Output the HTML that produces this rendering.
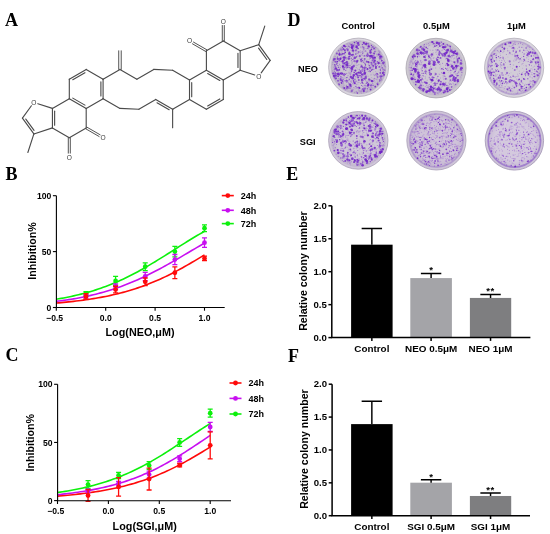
<!DOCTYPE html><html><head><meta charset="utf-8"><title>Figure</title><style>
html,body{margin:0;padding:0;background:#fff;width:550px;height:534px;overflow:hidden}
svg{display:block}
text{font-family:"Liberation Sans",Arial,sans-serif;font-weight:bold;fill:#000}
.ol{font-weight:normal;fill:#3a3a3a}
.pl{font-family:"Liberation Serif","Times New Roman",serif;font-weight:bold;font-size:18px}
</style></head><body>
<svg width="550" height="534" viewBox="0 0 550 534">
<rect width="550" height="534" fill="#fff"/>
<text class="pl" x="5" y="25.7">A</text>
<text class="pl" x="5.6" y="180">B</text>
<text class="pl" x="5.4" y="361">C</text>
<text class="pl" x="287.6" y="26.1">D</text>
<text class="pl" x="286.2" y="180">E</text>
<text class="pl" x="288" y="362.2">F</text>
<g stroke="#4a4a4a" stroke-width="1.12" stroke-linecap="round" fill="none">
<line x1="86.2" y1="69.4" x2="103.09" y2="79.15"/>
<line x1="103.09" y1="79.15" x2="103.09" y2="98.65"/>
<line x1="103.09" y1="98.65" x2="86.2" y2="108.4"/>
<line x1="86.2" y1="108.4" x2="69.31" y2="98.65"/>
<line x1="69.31" y1="98.65" x2="69.31" y2="79.15"/>
<line x1="69.31" y1="79.15" x2="86.2" y2="69.4"/>
<line x1="86.2" y1="108.4" x2="86.2" y2="127.9"/>
<line x1="86.2" y1="127.9" x2="69.31" y2="137.65"/>
<line x1="69.31" y1="137.65" x2="52.43" y2="127.9"/>
<line x1="52.43" y1="127.9" x2="52.43" y2="108.4"/>
<line x1="52.43" y1="108.4" x2="69.31" y2="98.65"/>
<line x1="52.43" y1="108.4" x2="37.87" y2="103.67"/>
<line x1="31.41" y1="105.77" x2="22.42" y2="118.15"/>
<line x1="22.42" y1="118.15" x2="33.88" y2="133.93"/>
<line x1="33.88" y1="133.93" x2="52.43" y2="127.9"/>
<line x1="33.88" y1="133.93" x2="27.85" y2="152.47"/>
<line x1="103.09" y1="79.15" x2="119.97" y2="69.4"/>
<line x1="119.97" y1="69.4" x2="136.86" y2="79.15"/>
<line x1="136.86" y1="79.15" x2="153.75" y2="69.4"/>
<line x1="153.75" y1="69.4" x2="172.63" y2="70.2"/>
<line x1="172.63" y1="70.2" x2="189.51" y2="79.95"/>
<line x1="206.4" y1="109.2" x2="189.51" y2="99.45"/>
<line x1="189.51" y1="99.45" x2="189.51" y2="79.95"/>
<line x1="189.51" y1="79.95" x2="206.4" y2="70.2"/>
<line x1="206.4" y1="70.2" x2="223.29" y2="79.95"/>
<line x1="223.29" y1="79.95" x2="223.29" y2="99.45"/>
<line x1="223.29" y1="99.45" x2="206.4" y2="109.2"/>
<line x1="206.4" y1="70.2" x2="206.4" y2="50.7"/>
<line x1="206.4" y1="50.7" x2="223.29" y2="40.95"/>
<line x1="223.29" y1="40.95" x2="240.17" y2="50.7"/>
<line x1="240.17" y1="50.7" x2="240.17" y2="70.2"/>
<line x1="240.17" y1="70.2" x2="223.29" y2="79.95"/>
<line x1="240.17" y1="70.2" x2="254.73" y2="74.93"/>
<line x1="261.19" y1="72.83" x2="270.18" y2="60.45"/>
<line x1="270.18" y1="60.45" x2="258.72" y2="44.67"/>
<line x1="258.72" y1="44.67" x2="240.17" y2="50.7"/>
<line x1="258.72" y1="44.67" x2="264.75" y2="26.13"/>
<line x1="189.51" y1="99.45" x2="172.63" y2="109.2"/>
<line x1="172.63" y1="109.2" x2="155.74" y2="99.45"/>
<line x1="155.74" y1="99.45" x2="138.85" y2="109.2"/>
<line x1="138.85" y1="109.2" x2="119.97" y2="108.4"/>
<line x1="119.97" y1="108.4" x2="103.09" y2="98.65"/>
<line x1="172.63" y1="109.2" x2="172.63" y2="127.8"/>
<line x1="100.89" y1="81.88" x2="100.89" y2="95.92"/>
<line x1="84.94" y1="105.13" x2="72.78" y2="98.11"/>
<line x1="72.78" y1="79.69" x2="84.94" y2="72.67"/>
<line x1="54.63" y1="125.17" x2="54.63" y2="111.13"/>
<line x1="25.8" y1="119.07" x2="34.05" y2="130.42"/>
<line x1="191.71" y1="96.72" x2="191.71" y2="82.68"/>
<line x1="207.66" y1="73.47" x2="219.82" y2="80.49"/>
<line x1="219.82" y1="98.91" x2="207.66" y2="105.93"/>
<line x1="237.97" y1="53.43" x2="237.97" y2="67.47"/>
<line x1="266.8" y1="59.53" x2="258.55" y2="48.18"/>
<line x1="157" y1="102.72" x2="169.16" y2="109.74"/>
<g stroke-width="0.95">
<line x1="68.31" y1="137.65" x2="68.31" y2="153.15"/><line x1="70.31" y1="137.65" x2="70.31" y2="153.15"/>
<line x1="85.7" y1="128.77" x2="99.12" y2="136.52"/><line x1="86.7" y1="127.03" x2="100.12" y2="134.78"/>
<line x1="224.29" y1="40.95" x2="224.29" y2="25.45"/><line x1="222.29" y1="40.95" x2="222.29" y2="25.45"/>
<line x1="206.9" y1="49.83" x2="193.48" y2="42.08"/><line x1="205.9" y1="51.57" x2="192.48" y2="43.82"/>
<line x1="121.22" y1="69.4" x2="121.22" y2="50.8"/><line x1="118.72" y1="69.4" x2="118.72" y2="50.8"/>
</g>
</g>
<g font-family="Liberation Sans, Arial, sans-serif" font-size="6.6" font-weight="normal" fill="#333" text-anchor="middle" style="font-weight:normal">
<text class="ol" x="33.88" y="104.72">O</text>
<text class="ol" x="69.31" y="159.5">O</text>
<text class="ol" x="103.09" y="140">O</text>
<text class="ol" x="258.72" y="78.58">O</text>
<text class="ol" x="223.29" y="23.8">O</text>
<text class="ol" x="189.51" y="43.3">O</text>
</g>
<polyline points="56.3,303.05 58.77,302.85 61.24,302.63 63.71,302.4 66.18,302.16 68.65,301.91 71.12,301.65 73.59,301.37 76.06,301.08 78.53,300.78 81,300.47 83.47,300.14 85.94,299.79 88.41,299.43 90.88,299.06 93.35,298.66 95.82,298.25 98.29,297.82 100.76,297.37 103.23,296.91 105.7,296.42 108.17,295.91 110.64,295.38 113.11,294.82 115.58,294.24 118.05,293.64 120.52,293.02 122.99,292.36 125.46,291.69 127.93,290.98 130.4,290.25 132.87,289.49 135.34,288.7 137.81,287.88 140.28,287.04 142.75,286.16 145.22,285.25 147.69,284.31 150.16,283.34 152.63,282.34 155.1,281.31 157.57,280.25 160.04,279.15 162.51,278.02 164.98,276.87 167.45,275.68 169.92,274.46 172.39,273.22 174.86,271.94 177.33,270.64 179.8,269.31 182.27,267.95 184.74,266.57 187.21,265.17 189.68,263.75 192.15,262.31 194.62,260.84 197.09,259.37 199.56,257.87 202.03,256.37 204.5,254.86" fill="none" stroke="#ff0a0a" stroke-width="1.6"/>
<polyline points="56.3,301.39 58.77,301.08 61.24,300.75 63.71,300.4 66.18,300.04 68.65,299.66 71.12,299.26 73.59,298.85 76.06,298.42 78.53,297.96 81,297.49 83.47,296.99 85.94,296.48 88.41,295.94 90.88,295.38 93.35,294.79 95.82,294.18 98.29,293.55 100.76,292.89 103.23,292.21 105.7,291.49 108.17,290.76 110.64,289.99 113.11,289.2 115.58,288.37 118.05,287.52 120.52,286.64 122.99,285.73 125.46,284.8 127.93,283.83 130.4,282.83 132.87,281.8 135.34,280.75 137.81,279.67 140.28,278.55 142.75,277.41 145.22,276.24 147.69,275.05 150.16,273.83 152.63,272.58 155.1,271.31 157.57,270.02 160.04,268.7 162.51,267.37 164.98,266.01 167.45,264.64 169.92,263.25 172.39,261.85 174.86,260.43 177.33,259 179.8,257.57 182.27,256.12 184.74,254.67 187.21,253.22 189.68,251.76 192.15,250.31 194.62,248.86 197.09,247.41 199.56,245.97 202.03,244.54 204.5,243.12" fill="none" stroke="#c80ef0" stroke-width="1.6"/>
<polyline points="56.3,299.21 58.77,298.8 61.24,298.37 63.71,297.92 66.18,297.45 68.65,296.95 71.12,296.44 73.59,295.9 76.06,295.33 78.53,294.75 81,294.13 83.47,293.49 85.94,292.83 88.41,292.13 90.88,291.41 93.35,290.66 95.82,289.87 98.29,289.06 100.76,288.22 103.23,287.34 105.7,286.43 108.17,285.5 110.64,284.52 113.11,283.52 115.58,282.48 118.05,281.41 120.52,280.3 122.99,279.17 125.46,278 127.93,276.8 130.4,275.56 132.87,274.3 135.34,273 137.81,271.68 140.28,270.32 142.75,268.94 145.22,267.54 147.69,266.11 150.16,264.65 152.63,263.18 155.1,261.69 157.57,260.18 160.04,258.65 162.51,257.12 164.98,255.57 167.45,254.01 169.92,252.45 172.39,250.88 174.86,249.31 177.33,247.75 179.8,246.19 182.27,244.63 184.74,243.09 187.21,241.55 189.68,240.03 192.15,238.52 194.62,237.03 197.09,235.56 199.56,234.12 202.03,232.69 204.5,231.3" fill="none" stroke="#0cf00c" stroke-width="1.6"/>
<path d="M85.94 291.62V294.98M83.44 291.62h5M83.44 294.98h5" stroke="#0cf00c" stroke-width="1.3" fill="none"/>
<circle cx="85.94" cy="293.3" r="2.4" fill="#0cf00c"/>
<path d="M115.58 276.42V285.36M113.08 276.42h5M113.08 285.36h5" stroke="#0cf00c" stroke-width="1.3" fill="none"/>
<circle cx="115.58" cy="280.89" r="2.4" fill="#0cf00c"/>
<path d="M145.22 262.78V270.61M142.72 262.78h5M142.72 270.61h5" stroke="#0cf00c" stroke-width="1.3" fill="none"/>
<circle cx="145.22" cy="266.69" r="2.4" fill="#0cf00c"/>
<path d="M174.86 246.35V256.85M172.36 246.35h5M172.36 256.85h5" stroke="#0cf00c" stroke-width="1.3" fill="none"/>
<circle cx="174.86" cy="251.6" r="2.4" fill="#0cf00c"/>
<path d="M204.5 224.88V231.59M202 224.88h5M202 231.59h5" stroke="#0cf00c" stroke-width="1.3" fill="none"/>
<circle cx="204.5" cy="228.23" r="2.4" fill="#0cf00c"/>
<path d="M85.94 294.75V298.11M83.44 294.75h5M83.44 298.11h5" stroke="#c80ef0" stroke-width="1.3" fill="none"/>
<circle cx="85.94" cy="296.43" r="2.4" fill="#c80ef0"/>
<path d="M115.58 284.02V289.61M113.08 284.02h5M113.08 289.61h5" stroke="#c80ef0" stroke-width="1.3" fill="none"/>
<circle cx="115.58" cy="286.82" r="2.4" fill="#c80ef0"/>
<path d="M145.22 272.28V280.56M142.72 272.28h5M142.72 280.56h5" stroke="#c80ef0" stroke-width="1.3" fill="none"/>
<circle cx="145.22" cy="276.42" r="2.4" fill="#c80ef0"/>
<path d="M174.86 254.51V264.57M172.36 254.51h5M172.36 264.57h5" stroke="#c80ef0" stroke-width="1.3" fill="none"/>
<circle cx="174.86" cy="259.54" r="2.4" fill="#c80ef0"/>
<path d="M204.5 237.85V247.46M202 237.85h5M202 247.46h5" stroke="#c80ef0" stroke-width="1.3" fill="none"/>
<circle cx="204.5" cy="242.66" r="2.4" fill="#c80ef0"/>
<path d="M85.94 293.64V299.23M83.44 293.64h5M83.44 299.23h5" stroke="#ff0a0a" stroke-width="1.3" fill="none"/>
<circle cx="85.94" cy="296.43" r="2.4" fill="#ff0a0a"/>
<path d="M115.58 286.26V292.97M113.08 286.26h5M113.08 292.97h5" stroke="#ff0a0a" stroke-width="1.3" fill="none"/>
<circle cx="115.58" cy="289.61" r="2.4" fill="#ff0a0a"/>
<path d="M145.22 277.98V285.59M142.72 277.98h5M142.72 285.59h5" stroke="#ff0a0a" stroke-width="1.3" fill="none"/>
<circle cx="145.22" cy="281.79" r="2.4" fill="#ff0a0a"/>
<path d="M174.86 266.92V278.54M172.36 266.92h5M172.36 278.54h5" stroke="#ff0a0a" stroke-width="1.3" fill="none"/>
<circle cx="174.86" cy="272.73" r="2.4" fill="#ff0a0a"/>
<path d="M204.5 256.18V260.66M202 256.18h5M202 260.66h5" stroke="#ff0a0a" stroke-width="1.3" fill="none"/>
<circle cx="204.5" cy="258.42" r="2.4" fill="#ff0a0a"/>
<g stroke="#000" stroke-width="1.1" fill="none">
<path d="M56.4 195.7V307.5H224.7"/>
<path d="M52.9 307.5H56.4"/>
<path d="M52.9 251.6H56.4"/>
<path d="M52.9 195.7H56.4"/>
<path d="M56.3 307.5V310.7"/>
<path d="M105.7 307.5V310.7"/>
<path d="M155.1 307.5V310.7"/>
<path d="M204.5 307.5V310.7"/>
</g>
<text x="51.4" y="310.6" font-size="8.6" text-anchor="end">0</text>
<text x="51.4" y="254.7" font-size="8.6" text-anchor="end">50</text>
<text x="51.4" y="198.8" font-size="8.6" text-anchor="end">100</text>
<text x="54.6" y="321.1" font-size="8.6" text-anchor="middle">−0.5</text>
<text x="105.7" y="321.1" font-size="8.6" text-anchor="middle">0.0</text>
<text x="155.1" y="321.1" font-size="8.6" text-anchor="middle">0.5</text>
<text x="204.5" y="321.1" font-size="8.6" text-anchor="middle">1.0</text>
<text x="140" y="335.5" font-size="10.8" text-anchor="middle">Log(NEO,μM)</text>
<text transform="translate(36.1 251) rotate(-90)" font-size="10.7" text-anchor="middle">Inhibition%</text>
<path d="M221.8 195.6h12" stroke="#ff0a0a" stroke-width="1.6"/>
<circle cx="227.8" cy="195.6" r="2.4" fill="#ff0a0a"/>
<text x="240.8" y="198.8" font-size="9" text-anchor="start">24h</text>
<path d="M221.8 210.3h12" stroke="#c80ef0" stroke-width="1.6"/>
<circle cx="227.8" cy="210.3" r="2.4" fill="#c80ef0"/>
<text x="240.8" y="213.5" font-size="9" text-anchor="start">48h</text>
<path d="M221.8 223.6h12" stroke="#0cf00c" stroke-width="1.6"/>
<circle cx="227.8" cy="223.6" r="2.4" fill="#0cf00c"/>
<text x="240.8" y="226.8" font-size="9" text-anchor="start">72h</text>
<polyline points="57.5,496.1 60.05,495.89 62.59,495.68 65.14,495.45 67.68,495.21 70.23,494.97 72.77,494.71 75.31,494.44 77.86,494.15 80.41,493.86 82.95,493.55 85.5,493.22 88.04,492.88 90.59,492.52 93.13,492.15 95.68,491.76 98.22,491.36 100.77,490.93 103.31,490.49 105.86,490.02 108.4,489.54 110.95,489.03 113.49,488.51 116.03,487.96 118.58,487.38 121.12,486.78 123.67,486.16 126.22,485.51 128.76,484.83 131.31,484.13 133.85,483.4 136.4,482.64 138.94,481.85 141.49,481.02 144.03,480.17 146.57,479.29 149.12,478.37 151.67,477.42 154.21,476.44 156.75,475.43 159.3,474.38 161.84,473.3 164.39,472.19 166.94,471.04 169.48,469.85 172.03,468.64 174.57,467.39 177.12,466.11 179.66,464.8 182.21,463.45 184.75,462.08 187.29,460.67 189.84,459.24 192.38,457.79 194.93,456.3 197.48,454.8 200.02,453.27 202.56,451.72 205.11,450.16 207.66,448.57 210.2,446.98" fill="none" stroke="#ff0a0a" stroke-width="1.6"/>
<polyline points="57.5,494.7 60.05,494.44 62.59,494.16 65.14,493.87 67.68,493.57 70.23,493.25 72.77,492.92 75.31,492.57 77.86,492.2 80.41,491.82 82.95,491.42 85.5,491.01 88.04,490.57 90.59,490.11 93.13,489.63 95.68,489.13 98.22,488.61 100.77,488.07 103.31,487.5 105.86,486.9 108.4,486.28 110.95,485.63 113.49,484.95 116.03,484.25 118.58,483.51 121.12,482.74 123.67,481.95 126.22,481.12 128.76,480.25 131.31,479.36 133.85,478.43 136.4,477.46 138.94,476.46 141.49,475.42 144.03,474.34 146.57,473.23 149.12,472.08 151.67,470.9 154.21,469.67 156.75,468.41 159.3,467.12 161.84,465.78 164.39,464.41 166.94,463.01 169.48,461.57 172.03,460.1 174.57,458.6 177.12,457.07 179.66,455.51 182.21,453.93 184.75,452.32 187.29,450.68 189.84,449.03 192.38,447.36 194.93,445.68 197.48,443.98 200.02,442.27 202.56,440.56 205.11,438.85 207.66,437.13 210.2,435.42" fill="none" stroke="#c80ef0" stroke-width="1.6"/>
<polyline points="57.5,492.53 60.05,492.15 62.59,491.77 65.14,491.36 67.68,490.93 70.23,490.49 72.77,490.02 75.31,489.54 77.86,489.03 80.41,488.49 82.95,487.94 85.5,487.36 88.04,486.75 90.59,486.12 93.13,485.46 95.68,484.77 98.22,484.05 100.77,483.31 103.31,482.53 105.86,481.72 108.4,480.88 110.95,480 113.49,479.09 116.03,478.15 118.58,477.17 121.12,476.15 123.67,475.1 126.22,474.02 128.76,472.89 131.31,471.73 133.85,470.54 136.4,469.3 138.94,468.03 141.49,466.73 144.03,465.39 146.57,464.01 149.12,462.6 151.67,461.16 154.21,459.68 156.75,458.18 159.3,456.65 161.84,455.09 164.39,453.5 166.94,451.89 169.48,450.26 172.03,448.61 174.57,446.95 177.12,445.27 179.66,443.58 182.21,441.89 184.75,440.19 187.29,438.48 189.84,436.78 192.38,435.08 194.93,433.39 197.48,431.71 200.02,430.04 202.56,428.38 205.11,426.75 207.66,425.13 210.2,423.54" fill="none" stroke="#0cf00c" stroke-width="1.6"/>
<path d="M88.04 480.6V488.5M85.54 480.6h5M85.54 488.5h5" stroke="#0cf00c" stroke-width="1.3" fill="none"/>
<circle cx="88.04" cy="484.55" r="2.4" fill="#0cf00c"/>
<path d="M118.58 472.34V478.62M116.08 472.34h5M116.08 478.62h5" stroke="#0cf00c" stroke-width="1.3" fill="none"/>
<circle cx="118.58" cy="475.48" r="2.4" fill="#0cf00c"/>
<path d="M149.12 461.64V469.32M146.62 461.64h5M146.62 469.32h5" stroke="#0cf00c" stroke-width="1.3" fill="none"/>
<circle cx="149.12" cy="465.48" r="2.4" fill="#0cf00c"/>
<path d="M179.66 438.61V446.29M177.16 438.61h5M177.16 446.29h5" stroke="#0cf00c" stroke-width="1.3" fill="none"/>
<circle cx="179.66" cy="442.45" r="2.4" fill="#0cf00c"/>
<path d="M210.2 409.19V417.1M207.7 409.19h5M207.7 417.1h5" stroke="#0cf00c" stroke-width="1.3" fill="none"/>
<circle cx="210.2" cy="413.14" r="2.4" fill="#0cf00c"/>
<path d="M88.04 489.2V492.69M85.54 489.2h5M85.54 492.69h5" stroke="#c80ef0" stroke-width="1.3" fill="none"/>
<circle cx="88.04" cy="490.95" r="2.4" fill="#c80ef0"/>
<path d="M118.58 481.29V485.95M116.08 481.29h5M116.08 485.95h5" stroke="#c80ef0" stroke-width="1.3" fill="none"/>
<circle cx="118.58" cy="483.62" r="2.4" fill="#c80ef0"/>
<path d="M149.12 471.06V478.04M146.62 471.06h5M146.62 478.04h5" stroke="#c80ef0" stroke-width="1.3" fill="none"/>
<circle cx="149.12" cy="474.55" r="2.4" fill="#c80ef0"/>
<path d="M179.66 455.94V461.76M177.16 455.94h5M177.16 461.76h5" stroke="#c80ef0" stroke-width="1.3" fill="none"/>
<circle cx="179.66" cy="458.85" r="2.4" fill="#c80ef0"/>
<path d="M210.2 422.45V431.52M207.7 422.45h5M207.7 431.52h5" stroke="#c80ef0" stroke-width="1.3" fill="none"/>
<circle cx="210.2" cy="426.98" r="2.4" fill="#c80ef0"/>
<path d="M88.04 489.67V501.3M85.54 489.67h5M85.54 501.3h5" stroke="#ff0a0a" stroke-width="1.3" fill="none"/>
<circle cx="88.04" cy="495.48" r="2.4" fill="#ff0a0a"/>
<path d="M118.58 477.69V496.06M116.08 477.69h5M116.08 496.06h5" stroke="#ff0a0a" stroke-width="1.3" fill="none"/>
<circle cx="118.58" cy="486.88" r="2.4" fill="#ff0a0a"/>
<path d="M149.12 468.15V490.02M146.62 468.15h5M146.62 490.02h5" stroke="#ff0a0a" stroke-width="1.3" fill="none"/>
<circle cx="149.12" cy="479.08" r="2.4" fill="#ff0a0a"/>
<path d="M179.66 463.38V466.87M177.16 463.38h5M177.16 466.87h5" stroke="#ff0a0a" stroke-width="1.3" fill="none"/>
<circle cx="179.66" cy="465.13" r="2.4" fill="#ff0a0a"/>
<path d="M210.2 431.87V458.85M207.7 431.87h5M207.7 458.85h5" stroke="#ff0a0a" stroke-width="1.3" fill="none"/>
<circle cx="210.2" cy="445.36" r="2.4" fill="#ff0a0a"/>
<g stroke="#000" stroke-width="1.1" fill="none">
<path d="M57.6 384.3V500.8H231"/>
<path d="M54.1 500.6H57.6"/>
<path d="M54.1 442.45H57.6"/>
<path d="M54.1 384.3H57.6"/>
<path d="M57.5 500.8V504"/>
<path d="M108.4 500.8V504"/>
<path d="M159.3 500.8V504"/>
<path d="M210.2 500.8V504"/>
</g>
<text x="52.6" y="503.7" font-size="8.6" text-anchor="end">0</text>
<text x="52.6" y="445.55" font-size="8.6" text-anchor="end">50</text>
<text x="52.6" y="387.4" font-size="8.6" text-anchor="end">100</text>
<text x="55.8" y="514.4" font-size="8.6" text-anchor="middle">−0.5</text>
<text x="108.4" y="514.4" font-size="8.6" text-anchor="middle">0.0</text>
<text x="159.3" y="514.4" font-size="8.6" text-anchor="middle">0.5</text>
<text x="210.2" y="514.4" font-size="8.6" text-anchor="middle">1.0</text>
<text x="144.7" y="530" font-size="10.8" text-anchor="middle">Log(SGI,μM)</text>
<text transform="translate(34 442.7) rotate(-90)" font-size="10.7" text-anchor="middle">Inhibition%</text>
<path d="M229.5 383h12" stroke="#ff0a0a" stroke-width="1.6"/>
<circle cx="235.5" cy="383" r="2.4" fill="#ff0a0a"/>
<text x="248.5" y="386.2" font-size="9" text-anchor="start">24h</text>
<path d="M229.5 398.4h12" stroke="#c80ef0" stroke-width="1.6"/>
<circle cx="235.5" cy="398.4" r="2.4" fill="#c80ef0"/>
<text x="248.5" y="401.6" font-size="9" text-anchor="start">48h</text>
<path d="M229.5 414h12" stroke="#0cf00c" stroke-width="1.6"/>
<circle cx="235.5" cy="414" r="2.4" fill="#0cf00c"/>
<text x="248.5" y="417.2" font-size="9" text-anchor="start">72h</text>
<text x="358.2" y="29.1" font-size="9.4" text-anchor="middle">Control</text>
<text x="436.4" y="29.1" font-size="9.4" text-anchor="middle">0.5μM</text>
<text x="516.5" y="29.1" font-size="9.4" text-anchor="middle">1μM</text>
<text x="308" y="71.7" font-size="9.2" text-anchor="middle">NEO</text>
<text x="307.7" y="144.9" font-size="9.2" text-anchor="middle">SGI</text>
<defs><filter id="bl" x="-5%" y="-5%" width="110%" height="110%"><feGaussianBlur stdDeviation="0.25"/></filter></defs>
<radialGradient id="g1"><stop offset="0" stop-color="#cbc5d0"/><stop offset="0.75" stop-color="#cbc5d0"/><stop offset="1" stop-color="#bdb3c8"/></radialGradient>
<ellipse cx="358.6" cy="67.3" rx="30" ry="29.2" fill="#d9d5de" stroke="#b4afba" stroke-width="0.8"/>
<ellipse cx="358.6" cy="67.3" rx="27.75" ry="27.01" fill="url(#g1)"/>
<g fill="#7226c8" fill-opacity="0.2"><circle cx="368" cy="45.7" r="0.7"/><circle cx="350.6" cy="72.9" r="0.4"/><circle cx="381.6" cy="66.5" r="0.59"/><circle cx="347.6" cy="48.7" r="0.41"/><circle cx="348.7" cy="80.8" r="0.69"/><circle cx="346.5" cy="80.1" r="0.6"/><circle cx="370.6" cy="72.4" r="0.46"/><circle cx="356.4" cy="63.4" r="0.56"/><circle cx="339" cy="58.7" r="0.37"/><circle cx="368.8" cy="45.8" r="0.35"/><circle cx="362.7" cy="50" r="0.54"/><circle cx="350.2" cy="44.4" r="0.65"/><circle cx="363.2" cy="42.8" r="0.61"/><circle cx="352.2" cy="69.1" r="0.66"/><circle cx="341.4" cy="57.5" r="0.51"/><circle cx="359.3" cy="91.3" r="0.64"/><circle cx="369.5" cy="81.7" r="0.36"/><circle cx="356.1" cy="77.3" r="0.56"/><circle cx="363.3" cy="69.4" r="0.71"/><circle cx="334.5" cy="78.1" r="0.56"/><circle cx="376" cy="79.1" r="0.59"/><circle cx="379.6" cy="59.8" r="0.64"/><circle cx="341.5" cy="77.9" r="0.76"/><circle cx="338.9" cy="70" r="0.68"/><circle cx="375.4" cy="74.6" r="0.62"/><circle cx="341.5" cy="85.1" r="0.39"/><circle cx="366.6" cy="62.1" r="0.4"/><circle cx="377.4" cy="78.5" r="0.58"/><circle cx="361.1" cy="92.1" r="0.49"/><circle cx="339.5" cy="58" r="0.6"/><circle cx="375.5" cy="71.6" r="0.62"/><circle cx="347.8" cy="57.3" r="0.55"/><circle cx="373.3" cy="66.9" r="0.49"/><circle cx="332.5" cy="70.9" r="0.59"/><circle cx="365.4" cy="80" r="0.67"/><circle cx="342.5" cy="58" r="0.43"/><circle cx="347.9" cy="51.2" r="0.69"/><circle cx="339.5" cy="78.5" r="0.66"/><circle cx="337.7" cy="70.2" r="0.63"/><circle cx="373" cy="73.2" r="0.42"/><circle cx="379.2" cy="51.3" r="0.72"/><circle cx="366.3" cy="55.4" r="0.71"/><circle cx="352" cy="85.9" r="0.4"/><circle cx="385.3" cy="67.1" r="0.73"/><circle cx="356.2" cy="49.4" r="0.76"/><circle cx="372.9" cy="81.2" r="0.79"/><circle cx="361.1" cy="47.8" r="0.63"/><circle cx="351.1" cy="69.1" r="0.36"/><circle cx="372.8" cy="63.9" r="0.66"/><circle cx="374.3" cy="80.3" r="0.66"/><circle cx="344.8" cy="51.6" r="0.66"/><circle cx="334.1" cy="75.5" r="0.62"/><circle cx="341.6" cy="57" r="0.66"/><circle cx="370.4" cy="71.5" r="0.4"/><circle cx="352.6" cy="65.2" r="0.49"/><circle cx="371.2" cy="87.1" r="0.42"/><circle cx="379.8" cy="80.3" r="0.51"/><circle cx="337.7" cy="58.9" r="0.47"/><circle cx="349.1" cy="62.4" r="0.46"/><circle cx="356.3" cy="91.4" r="0.77"/><circle cx="355" cy="64.4" r="0.48"/><circle cx="341" cy="74.5" r="0.71"/><circle cx="360" cy="55.3" r="0.37"/><circle cx="368.3" cy="48.3" r="0.54"/><circle cx="343.4" cy="86.4" r="0.51"/><circle cx="384.2" cy="65.8" r="0.71"/><circle cx="371.4" cy="62.6" r="0.51"/><circle cx="347.7" cy="89.2" r="0.45"/><circle cx="353.4" cy="54.2" r="0.79"/><circle cx="374.1" cy="79.4" r="0.66"/><circle cx="363.6" cy="43" r="0.35"/><circle cx="361.2" cy="52.2" r="0.67"/><circle cx="380" cy="51.8" r="0.71"/><circle cx="342.1" cy="82.3" r="0.37"/><circle cx="335.7" cy="73.4" r="0.74"/><circle cx="365.2" cy="59.2" r="0.64"/><circle cx="351" cy="43.8" r="0.55"/><circle cx="374.7" cy="78.5" r="0.46"/><circle cx="367.7" cy="85.5" r="0.51"/><circle cx="340.5" cy="55.4" r="0.75"/><circle cx="341.3" cy="61.4" r="0.54"/><circle cx="342" cy="51" r="0.78"/><circle cx="366.3" cy="75" r="0.48"/><circle cx="344.8" cy="51.3" r="0.44"/><circle cx="346.4" cy="59.2" r="0.47"/><circle cx="377.9" cy="82.1" r="0.7"/><circle cx="356.1" cy="56.5" r="0.7"/><circle cx="379.9" cy="52.7" r="0.36"/><circle cx="377.3" cy="55.8" r="0.7"/><circle cx="358.6" cy="49.1" r="0.48"/><circle cx="338.5" cy="80.4" r="0.79"/><circle cx="354" cy="64.8" r="0.41"/><circle cx="381.9" cy="63.1" r="0.57"/><circle cx="361.2" cy="91.2" r="0.36"/><circle cx="338.1" cy="79.8" r="0.39"/><circle cx="376.8" cy="54.7" r="0.39"/><circle cx="346.3" cy="84.3" r="0.37"/><circle cx="366.4" cy="69.5" r="0.49"/><circle cx="343.4" cy="63.8" r="0.63"/><circle cx="374" cy="48.3" r="0.43"/><circle cx="374.1" cy="52.6" r="0.46"/><circle cx="379.8" cy="65.8" r="0.64"/><circle cx="350.1" cy="87.8" r="0.8"/><circle cx="347.7" cy="88.8" r="0.49"/><circle cx="356.3" cy="67.6" r="0.74"/><circle cx="373" cy="85.9" r="0.46"/><circle cx="357.9" cy="78.6" r="0.44"/><circle cx="347.5" cy="63.5" r="0.76"/><circle cx="340.6" cy="50.6" r="0.49"/><circle cx="364.8" cy="91.5" r="0.37"/><circle cx="361.9" cy="54.7" r="0.67"/><circle cx="361.6" cy="82.3" r="0.64"/><circle cx="364" cy="48.9" r="0.55"/><circle cx="366.4" cy="70.9" r="0.45"/><circle cx="354.2" cy="48.4" r="0.6"/><circle cx="361.7" cy="66.4" r="0.56"/><circle cx="365.8" cy="85.7" r="0.46"/><circle cx="348.2" cy="59.3" r="0.76"/><circle cx="350.1" cy="78.8" r="0.48"/><circle cx="363.9" cy="67.6" r="0.7"/><circle cx="384.1" cy="74.1" r="0.38"/><circle cx="352.4" cy="84.4" r="0.46"/><circle cx="367.4" cy="90.2" r="0.44"/><circle cx="340.3" cy="49.9" r="0.66"/><circle cx="380.6" cy="70.8" r="0.79"/><circle cx="359.4" cy="72.4" r="0.56"/><circle cx="382" cy="59.8" r="0.35"/><circle cx="369.4" cy="68.4" r="0.41"/><circle cx="380.7" cy="80" r="0.59"/><circle cx="371.3" cy="67.9" r="0.48"/><circle cx="344.6" cy="63.6" r="0.74"/><circle cx="339" cy="63.3" r="0.48"/><circle cx="346.4" cy="68.8" r="0.53"/><circle cx="365.2" cy="91.3" r="0.36"/><circle cx="355.8" cy="73.5" r="0.45"/><circle cx="371.4" cy="55.6" r="0.68"/><circle cx="369" cy="49.4" r="0.75"/><circle cx="355.7" cy="60.3" r="0.41"/><circle cx="344.9" cy="78.4" r="0.47"/><circle cx="360.8" cy="73.2" r="0.67"/><circle cx="380.7" cy="53.6" r="0.36"/><circle cx="366.1" cy="86.1" r="0.58"/><circle cx="369.1" cy="84" r="0.39"/><circle cx="376.7" cy="73.4" r="0.73"/><circle cx="383.8" cy="69.6" r="0.71"/><circle cx="382.5" cy="73.2" r="0.61"/><circle cx="367.2" cy="83.8" r="0.72"/><circle cx="366.5" cy="48.7" r="0.77"/><circle cx="344.8" cy="45.4" r="0.74"/><circle cx="354.6" cy="73.6" r="0.56"/><circle cx="345.3" cy="81.5" r="0.72"/><circle cx="370.5" cy="50.6" r="0.55"/><circle cx="342.5" cy="87.2" r="0.8"/><circle cx="343.8" cy="81.3" r="0.63"/><circle cx="354.9" cy="58.6" r="0.62"/><circle cx="380.2" cy="78.1" r="0.54"/><circle cx="378.1" cy="74.9" r="0.69"/><circle cx="340.6" cy="49.7" r="0.69"/><circle cx="333.6" cy="74.4" r="0.58"/><circle cx="347.3" cy="45.2" r="0.47"/><circle cx="360.9" cy="47" r="0.73"/><circle cx="363.9" cy="76.2" r="0.66"/><circle cx="355.7" cy="45.1" r="0.57"/><circle cx="375.4" cy="63.2" r="0.46"/><circle cx="373.6" cy="69.6" r="0.39"/><circle cx="347.3" cy="49.4" r="0.45"/><circle cx="369.8" cy="87.2" r="0.52"/><circle cx="362.3" cy="46.4" r="0.55"/><circle cx="334.7" cy="71.4" r="0.65"/><circle cx="335.9" cy="58.1" r="0.6"/><circle cx="383.9" cy="72.6" r="0.36"/><circle cx="356.4" cy="72.7" r="0.59"/><circle cx="349.6" cy="48.3" r="0.36"/><circle cx="360.6" cy="91.7" r="0.79"/><circle cx="367.9" cy="54" r="0.67"/><circle cx="353.8" cy="66.9" r="0.53"/><circle cx="361.6" cy="93.1" r="0.53"/><circle cx="370.7" cy="67.6" r="0.59"/><circle cx="369.8" cy="85.2" r="0.73"/><circle cx="371.1" cy="62.3" r="0.65"/><circle cx="334.2" cy="77.1" r="0.73"/><circle cx="354" cy="47.1" r="0.53"/><circle cx="355.9" cy="86.3" r="0.5"/><circle cx="381.4" cy="79.2" r="0.72"/><circle cx="370.9" cy="86.7" r="0.54"/><circle cx="334" cy="66" r="0.58"/><circle cx="367.8" cy="84.1" r="0.8"/><circle cx="353.4" cy="89.5" r="0.51"/><circle cx="374.3" cy="51.1" r="0.6"/><circle cx="349" cy="78.7" r="0.6"/><circle cx="351.4" cy="43.7" r="0.45"/><circle cx="356.1" cy="63.6" r="0.47"/><circle cx="372" cy="88" r="0.8"/><circle cx="358.2" cy="90.8" r="0.36"/><circle cx="377.4" cy="82.5" r="0.42"/><circle cx="366.7" cy="82.2" r="0.39"/><circle cx="347.1" cy="50.9" r="0.7"/><circle cx="365.5" cy="69.6" r="0.56"/><circle cx="364.7" cy="89.2" r="0.62"/><circle cx="366.5" cy="61.6" r="0.74"/><circle cx="338.7" cy="83.5" r="0.39"/><circle cx="335.8" cy="75.8" r="0.51"/><circle cx="354" cy="50.2" r="0.68"/><circle cx="356.7" cy="85" r="0.42"/><circle cx="365.4" cy="65.7" r="0.79"/><circle cx="352.1" cy="63.1" r="0.79"/><circle cx="379.1" cy="63.6" r="0.42"/><circle cx="371.1" cy="48.5" r="0.4"/><circle cx="370.9" cy="63.1" r="0.45"/><circle cx="376.9" cy="56.3" r="0.67"/><circle cx="351.4" cy="89.3" r="0.73"/><circle cx="349.8" cy="73.5" r="0.57"/><circle cx="380.9" cy="72" r="0.38"/><circle cx="368.1" cy="81" r="0.76"/><circle cx="342.9" cy="57.7" r="0.54"/><circle cx="380.9" cy="56.4" r="0.76"/><circle cx="352.1" cy="62" r="0.7"/><circle cx="334.5" cy="58.7" r="0.56"/><circle cx="370.7" cy="67.9" r="0.36"/><circle cx="355.8" cy="53" r="0.53"/><circle cx="355.9" cy="86.8" r="0.79"/><circle cx="356.3" cy="92.2" r="0.52"/><circle cx="351" cy="73" r="0.46"/><circle cx="349.7" cy="88.1" r="0.66"/><circle cx="357.2" cy="62.5" r="0.64"/><circle cx="360.6" cy="52.6" r="0.74"/><circle cx="349.9" cy="43.9" r="0.55"/><circle cx="360.2" cy="47" r="0.49"/><circle cx="364.4" cy="43.4" r="0.66"/><circle cx="381" cy="74.6" r="0.72"/><circle cx="351.4" cy="50.7" r="0.64"/><circle cx="357" cy="49.8" r="0.74"/><circle cx="385.1" cy="70.1" r="0.76"/><circle cx="339" cy="54.2" r="0.69"/><circle cx="344.9" cy="76.4" r="0.37"/><circle cx="367.7" cy="43.8" r="0.58"/><circle cx="368.2" cy="48.7" r="0.42"/><circle cx="355.1" cy="47.4" r="0.61"/><circle cx="357.6" cy="93" r="0.66"/><circle cx="340.1" cy="82" r="0.77"/><circle cx="369.4" cy="81.1" r="0.43"/><circle cx="376" cy="65.9" r="0.76"/><circle cx="345.4" cy="46.1" r="0.58"/><circle cx="341.3" cy="54.2" r="0.78"/><circle cx="345" cy="78" r="0.68"/><circle cx="357" cy="43.8" r="0.42"/><circle cx="356" cy="88.3" r="0.47"/><circle cx="373" cy="68.1" r="0.4"/><circle cx="365" cy="46.5" r="0.4"/><circle cx="333.1" cy="72.7" r="0.7"/><circle cx="364.1" cy="70.2" r="0.72"/><circle cx="367.6" cy="69.4" r="0.65"/><circle cx="353" cy="70.5" r="0.72"/><circle cx="364.1" cy="59.2" r="0.76"/><circle cx="338.7" cy="50.4" r="0.72"/><circle cx="348.2" cy="62.2" r="0.74"/><circle cx="370.4" cy="88.8" r="0.72"/><circle cx="341.1" cy="66" r="0.71"/><circle cx="348.4" cy="86.5" r="0.74"/><circle cx="367.9" cy="43.8" r="0.37"/><circle cx="355.1" cy="65.5" r="0.39"/><circle cx="364.7" cy="61.1" r="0.37"/><circle cx="353.5" cy="81" r="0.77"/><circle cx="364.2" cy="42.5" r="0.56"/><circle cx="368.4" cy="65.1" r="0.45"/><circle cx="362.5" cy="46.4" r="0.58"/><circle cx="382.1" cy="58.1" r="0.51"/><circle cx="377.6" cy="79.7" r="0.54"/><circle cx="355.1" cy="88.8" r="0.52"/><circle cx="364.3" cy="89.6" r="0.77"/><circle cx="360.5" cy="77.8" r="0.63"/><circle cx="365.9" cy="56" r="0.51"/><circle cx="353.5" cy="58.4" r="0.54"/><circle cx="375.1" cy="80.9" r="0.37"/><circle cx="343.3" cy="65.9" r="0.44"/><circle cx="365.4" cy="56.4" r="0.46"/><circle cx="370" cy="55.7" r="0.8"/><circle cx="373.7" cy="85.2" r="0.69"/><circle cx="361.3" cy="59" r="0.47"/><circle cx="346.6" cy="73.1" r="0.41"/><circle cx="368.5" cy="47.9" r="0.65"/><circle cx="371.4" cy="87.2" r="0.47"/><circle cx="347.2" cy="88.6" r="0.69"/><circle cx="370.8" cy="83.5" r="0.45"/><circle cx="379.7" cy="52.8" r="0.62"/><circle cx="362.7" cy="67.7" r="0.77"/><circle cx="350.8" cy="45.1" r="0.47"/><circle cx="381.6" cy="78.3" r="0.66"/><circle cx="343.1" cy="83.3" r="0.72"/><circle cx="370.8" cy="64.4" r="0.77"/><circle cx="350.7" cy="81.3" r="0.71"/><circle cx="344.6" cy="58.9" r="0.66"/><circle cx="359.3" cy="42" r="0.47"/><circle cx="373.5" cy="74.7" r="0.71"/><circle cx="362.8" cy="91" r="0.56"/><circle cx="355.2" cy="83" r="0.36"/><circle cx="378.7" cy="61" r="0.43"/><circle cx="362" cy="44.7" r="0.59"/><circle cx="336.6" cy="78.5" r="0.63"/><circle cx="363.1" cy="73.6" r="0.61"/><circle cx="334.2" cy="71.2" r="0.77"/><circle cx="342.2" cy="77.4" r="0.7"/><circle cx="379.5" cy="52.7" r="0.65"/><circle cx="353.8" cy="79.4" r="0.6"/><circle cx="356.8" cy="72.8" r="0.7"/><circle cx="350.1" cy="56.2" r="0.49"/><circle cx="353.2" cy="76.3" r="0.49"/><circle cx="353" cy="80.8" r="0.76"/><circle cx="337.8" cy="67.7" r="0.47"/><circle cx="363.2" cy="53.2" r="0.5"/><circle cx="350" cy="74.4" r="0.65"/><circle cx="371.6" cy="45.4" r="0.57"/><circle cx="367.6" cy="59.7" r="0.37"/><circle cx="379.2" cy="63.7" r="0.49"/><circle cx="351.8" cy="85.5" r="0.54"/><circle cx="351.4" cy="60.9" r="0.67"/><circle cx="369.1" cy="68" r="0.46"/><circle cx="343.3" cy="73.8" r="0.67"/><circle cx="378.1" cy="71.2" r="0.36"/><circle cx="367.7" cy="83" r="0.71"/><circle cx="366.4" cy="45.8" r="0.63"/><circle cx="362" cy="55" r="0.48"/><circle cx="370" cy="70.1" r="0.53"/><circle cx="348.1" cy="44" r="0.65"/><circle cx="342.7" cy="73.8" r="0.76"/><circle cx="345.2" cy="89.8" r="0.61"/><circle cx="364.2" cy="85.2" r="0.58"/><circle cx="361.1" cy="59" r="0.53"/><circle cx="362.8" cy="46.2" r="0.46"/><circle cx="384.6" cy="65.2" r="0.57"/><circle cx="353.4" cy="61.2" r="0.66"/><circle cx="360.9" cy="54.5" r="0.48"/><circle cx="371.1" cy="74.5" r="0.63"/><circle cx="350.5" cy="45.8" r="0.49"/><circle cx="373.1" cy="72.3" r="0.43"/><circle cx="362.3" cy="80.8" r="0.37"/><circle cx="376.2" cy="68.4" r="0.58"/><circle cx="357.3" cy="68.5" r="0.39"/><circle cx="354.8" cy="56.6" r="0.38"/><circle cx="348.5" cy="46.2" r="0.64"/><circle cx="355.1" cy="48.1" r="0.45"/><circle cx="376.2" cy="69.2" r="0.35"/><circle cx="345.3" cy="55.6" r="0.78"/><circle cx="381.9" cy="75.2" r="0.76"/><circle cx="343.5" cy="76" r="0.42"/><circle cx="350" cy="69.9" r="0.59"/><circle cx="345.9" cy="46.5" r="0.44"/><circle cx="367.7" cy="48.7" r="0.46"/><circle cx="357.9" cy="82.2" r="0.79"/><circle cx="351.1" cy="59.3" r="0.51"/><circle cx="335.5" cy="67.3" r="0.45"/><circle cx="334.3" cy="61.7" r="0.36"/><circle cx="365.2" cy="78.7" r="0.49"/><circle cx="351.4" cy="58.3" r="0.62"/><circle cx="357.8" cy="84.2" r="0.64"/><circle cx="360.5" cy="50.7" r="0.74"/><circle cx="380" cy="58.9" r="0.49"/><circle cx="338" cy="80.8" r="0.74"/><circle cx="353.7" cy="87.6" r="0.48"/><circle cx="333.8" cy="69.8" r="0.42"/><circle cx="371.8" cy="83.1" r="0.38"/><circle cx="360.9" cy="53.4" r="0.44"/><circle cx="382.8" cy="73.4" r="0.5"/><circle cx="357.7" cy="65.3" r="0.63"/><circle cx="368.2" cy="46" r="0.76"/><circle cx="346.5" cy="80.4" r="0.62"/><circle cx="365.3" cy="84.9" r="0.54"/><circle cx="372" cy="56.4" r="0.39"/><circle cx="352.3" cy="45.7" r="0.76"/><circle cx="352.9" cy="48" r="0.41"/><circle cx="382.4" cy="75.1" r="0.62"/><circle cx="359.9" cy="76.9" r="0.66"/><circle cx="351.8" cy="51.8" r="0.45"/><circle cx="353.3" cy="74.6" r="0.58"/><circle cx="374.8" cy="49.7" r="0.52"/><circle cx="334.6" cy="57.5" r="0.43"/><circle cx="350.2" cy="50.1" r="0.69"/><circle cx="368.6" cy="65.6" r="0.6"/><circle cx="358.1" cy="69.6" r="0.72"/><circle cx="355.9" cy="73.7" r="0.66"/><circle cx="356.5" cy="57.3" r="0.62"/><circle cx="364" cy="54" r="0.38"/><circle cx="359.7" cy="55" r="0.62"/><circle cx="348.2" cy="75.4" r="0.73"/><circle cx="369.7" cy="71.9" r="0.57"/><circle cx="353.3" cy="55.8" r="0.46"/><circle cx="349.1" cy="59.3" r="0.78"/><circle cx="378.5" cy="63.1" r="0.8"/><circle cx="337.6" cy="57" r="0.52"/><circle cx="350.3" cy="65.9" r="0.43"/><circle cx="339.7" cy="75.4" r="0.6"/><circle cx="339.3" cy="59.8" r="0.77"/><circle cx="373.7" cy="80.7" r="0.75"/><circle cx="342.9" cy="84.1" r="0.55"/><circle cx="342.6" cy="79.9" r="0.65"/><circle cx="383.9" cy="75.7" r="0.76"/><circle cx="376" cy="47.7" r="0.56"/><circle cx="336.9" cy="71.8" r="0.52"/><circle cx="362.1" cy="78" r="0.56"/><circle cx="362.5" cy="81.4" r="0.62"/><circle cx="366" cy="54.6" r="0.39"/><circle cx="346.5" cy="73.4" r="0.45"/><circle cx="334" cy="68.5" r="0.38"/><circle cx="354.5" cy="55.3" r="0.49"/><circle cx="362.4" cy="81.9" r="0.36"/><circle cx="347.8" cy="87.7" r="0.46"/><circle cx="349" cy="67" r="0.68"/><circle cx="382.4" cy="56.9" r="0.36"/><circle cx="339.2" cy="69" r="0.6"/><circle cx="374.9" cy="59.5" r="0.62"/><circle cx="376.4" cy="63.2" r="0.58"/><circle cx="356.5" cy="65.2" r="0.78"/><circle cx="365.4" cy="87.7" r="0.73"/><circle cx="362" cy="62.6" r="0.41"/><circle cx="369.3" cy="89" r="0.42"/><circle cx="344.3" cy="67" r="0.66"/><circle cx="376.4" cy="75.6" r="0.78"/><circle cx="342.1" cy="85.1" r="0.37"/><circle cx="375.9" cy="63.3" r="0.78"/><circle cx="362.5" cy="78.3" r="0.79"/><circle cx="353.2" cy="52.3" r="0.77"/><circle cx="366.8" cy="44.8" r="0.63"/><circle cx="360.8" cy="90.8" r="0.76"/><circle cx="368.1" cy="76.3" r="0.7"/><circle cx="360.1" cy="41.4" r="0.63"/><circle cx="349.8" cy="65.8" r="0.43"/><circle cx="341.5" cy="77.9" r="0.41"/><circle cx="363.8" cy="48.2" r="0.67"/><circle cx="368.7" cy="63.2" r="0.77"/><circle cx="375.2" cy="65" r="0.44"/><circle cx="368.1" cy="52.9" r="0.39"/><circle cx="376.1" cy="68.3" r="0.45"/><circle cx="367" cy="53.2" r="0.63"/><circle cx="361.2" cy="58.8" r="0.69"/><circle cx="365.8" cy="80.8" r="0.68"/><circle cx="363.6" cy="92.1" r="0.5"/><circle cx="374.5" cy="64.1" r="0.37"/><circle cx="360.4" cy="71.2" r="0.56"/><circle cx="384.2" cy="73.2" r="0.71"/><circle cx="374" cy="54.9" r="0.78"/><circle cx="358.6" cy="89.7" r="0.76"/><circle cx="362.2" cy="67" r="0.54"/><circle cx="369.5" cy="57.7" r="0.57"/><circle cx="352.7" cy="83.2" r="0.54"/><circle cx="344.5" cy="65.7" r="0.55"/><circle cx="373.2" cy="67.8" r="0.42"/><circle cx="352.5" cy="44.8" r="0.77"/><circle cx="368.7" cy="62.4" r="0.75"/><circle cx="374.5" cy="62.7" r="0.79"/><circle cx="335.4" cy="58.9" r="0.74"/><circle cx="366.3" cy="75.5" r="0.41"/><circle cx="380.6" cy="61.8" r="0.44"/><circle cx="366.7" cy="60.4" r="0.75"/><circle cx="368.8" cy="69.4" r="0.48"/><circle cx="373.4" cy="68" r="0.42"/><circle cx="381.3" cy="76.6" r="0.56"/><circle cx="353.5" cy="45.5" r="0.49"/><circle cx="349" cy="72" r="0.51"/><circle cx="353.7" cy="84.7" r="0.56"/><circle cx="385" cy="68.6" r="0.45"/><circle cx="333.8" cy="67.4" r="0.7"/><circle cx="367" cy="66.8" r="0.35"/><circle cx="359.3" cy="90.6" r="0.67"/><circle cx="356.2" cy="43.8" r="0.78"/><circle cx="366.7" cy="56.8" r="0.63"/><circle cx="361.1" cy="79.1" r="0.39"/><circle cx="346.2" cy="89" r="0.51"/><circle cx="362" cy="57.9" r="0.6"/><circle cx="362.2" cy="55.2" r="0.59"/><circle cx="352" cy="44.8" r="0.54"/><circle cx="371.7" cy="57.2" r="0.43"/><circle cx="364.6" cy="60.2" r="0.66"/><circle cx="338.8" cy="51.2" r="0.8"/><circle cx="375.4" cy="74.2" r="0.65"/><circle cx="347.5" cy="76" r="0.52"/><circle cx="342.6" cy="65.7" r="0.62"/><circle cx="364.9" cy="62.5" r="0.51"/><circle cx="345.3" cy="85.9" r="0.4"/><circle cx="361.1" cy="82.8" r="0.49"/><circle cx="348.9" cy="47.8" r="0.44"/><circle cx="341.6" cy="52.5" r="0.42"/><circle cx="378.2" cy="74.4" r="0.65"/><circle cx="346.2" cy="59.7" r="0.77"/><circle cx="337.3" cy="59.4" r="0.61"/><circle cx="344.7" cy="70" r="0.37"/><circle cx="377.6" cy="63.6" r="0.58"/><circle cx="377.8" cy="54.2" r="0.6"/><circle cx="369.2" cy="66.7" r="0.58"/><circle cx="375.4" cy="74.1" r="0.68"/><circle cx="334.3" cy="62.5" r="0.43"/><circle cx="367.1" cy="87.9" r="0.51"/><circle cx="344.8" cy="65" r="0.64"/><circle cx="369" cy="84.5" r="0.46"/><circle cx="345.2" cy="66.4" r="0.78"/><circle cx="372.6" cy="50.7" r="0.39"/><circle cx="353.8" cy="66" r="0.45"/><circle cx="356.7" cy="51.6" r="0.39"/><circle cx="337.1" cy="80.1" r="0.62"/><circle cx="364.5" cy="69.7" r="0.65"/><circle cx="354.7" cy="62.9" r="0.49"/><circle cx="373.5" cy="63.1" r="0.74"/><circle cx="346.9" cy="77.4" r="0.48"/><circle cx="368.4" cy="64.4" r="0.64"/><circle cx="338.2" cy="77.6" r="0.44"/><circle cx="359.2" cy="88.4" r="0.76"/><circle cx="384.1" cy="62.2" r="0.45"/><circle cx="368.6" cy="55.9" r="0.56"/><circle cx="354" cy="47.9" r="0.44"/><circle cx="374.9" cy="76.5" r="0.36"/><circle cx="354" cy="42.1" r="0.63"/><circle cx="354.9" cy="79.4" r="0.76"/><circle cx="341.9" cy="47.1" r="0.77"/><circle cx="368.3" cy="53.1" r="0.68"/><circle cx="370.5" cy="61.1" r="0.36"/><circle cx="343.9" cy="67.9" r="0.77"/><circle cx="371.5" cy="77.6" r="0.68"/><circle cx="374.9" cy="82.1" r="0.66"/><circle cx="343.3" cy="75.3" r="0.77"/><circle cx="383" cy="63.9" r="0.67"/><circle cx="346.4" cy="79.3" r="0.41"/><circle cx="350.7" cy="66.7" r="0.42"/><circle cx="363.5" cy="87.1" r="0.58"/><circle cx="333.7" cy="72.7" r="0.77"/><circle cx="368.9" cy="78.6" r="0.67"/><circle cx="349.6" cy="51.8" r="0.61"/><circle cx="346.6" cy="80.8" r="0.45"/><circle cx="366.3" cy="92.1" r="0.56"/><circle cx="368.9" cy="44.7" r="0.79"/><circle cx="354" cy="87.8" r="0.74"/><circle cx="365.9" cy="64.6" r="0.55"/><circle cx="376.3" cy="53.8" r="0.58"/><circle cx="371.5" cy="47.1" r="0.58"/><circle cx="358.9" cy="92.2" r="0.42"/><circle cx="368.9" cy="47.4" r="0.54"/><circle cx="353.7" cy="69.6" r="0.45"/><circle cx="362.7" cy="74.1" r="0.62"/><circle cx="363.6" cy="51.3" r="0.45"/><circle cx="356.2" cy="87.8" r="0.48"/><circle cx="358" cy="56.3" r="0.48"/><circle cx="350.2" cy="47.2" r="0.6"/><circle cx="349.4" cy="47.7" r="0.39"/><circle cx="335" cy="64.6" r="0.72"/><circle cx="367.8" cy="70.7" r="0.64"/><circle cx="374.2" cy="65.9" r="0.49"/><circle cx="348.2" cy="82.3" r="0.6"/><circle cx="371.4" cy="64.1" r="0.47"/><circle cx="384.2" cy="64.9" r="0.5"/><circle cx="378" cy="52.9" r="0.37"/><circle cx="338.9" cy="84.4" r="0.5"/><circle cx="370.6" cy="87.7" r="0.36"/><circle cx="384.8" cy="70.1" r="0.64"/><circle cx="340.4" cy="77" r="0.72"/><circle cx="382.7" cy="70.9" r="0.63"/><circle cx="339.5" cy="82.9" r="0.41"/><circle cx="379.3" cy="69.4" r="0.52"/><circle cx="362.9" cy="85.8" r="0.61"/><circle cx="334.4" cy="71.5" r="0.59"/><circle cx="371.1" cy="67.9" r="0.56"/><circle cx="348.9" cy="57.1" r="0.4"/><circle cx="340" cy="65.4" r="0.7"/><circle cx="364" cy="62.9" r="0.42"/><circle cx="368.3" cy="44.1" r="0.75"/><circle cx="381" cy="79.8" r="0.51"/><circle cx="348.3" cy="85.2" r="0.65"/><circle cx="365.8" cy="90.7" r="0.49"/><circle cx="346.4" cy="88.7" r="0.39"/><circle cx="352.3" cy="89.2" r="0.61"/><circle cx="351.5" cy="64.3" r="0.72"/><circle cx="346.4" cy="80.9" r="0.7"/><circle cx="338.9" cy="70.3" r="0.43"/><circle cx="369.3" cy="48.1" r="0.35"/><circle cx="349.5" cy="54.9" r="0.42"/><circle cx="375.2" cy="85.4" r="0.46"/><circle cx="370.7" cy="81.2" r="0.76"/><circle cx="343.5" cy="79.5" r="0.62"/><circle cx="336.1" cy="61" r="0.64"/><circle cx="337.9" cy="75.8" r="0.48"/><circle cx="353.2" cy="58.7" r="0.52"/><circle cx="354.6" cy="92.5" r="0.7"/><circle cx="368.9" cy="82.1" r="0.53"/><circle cx="348.6" cy="48.6" r="0.51"/><circle cx="366.2" cy="78.3" r="0.62"/><circle cx="376.8" cy="54.6" r="0.57"/><circle cx="363.5" cy="52.3" r="0.64"/><circle cx="379.8" cy="76.2" r="0.72"/><circle cx="350.2" cy="52.4" r="0.38"/><circle cx="359.2" cy="67.4" r="0.38"/><circle cx="364.3" cy="60.7" r="0.6"/><circle cx="366.1" cy="67.2" r="0.54"/><circle cx="346.8" cy="48.7" r="0.51"/><circle cx="382.6" cy="62.4" r="0.53"/><circle cx="343.8" cy="74.9" r="0.72"/><circle cx="374.3" cy="78.6" r="0.35"/><circle cx="371.8" cy="84.6" r="0.7"/><circle cx="363.7" cy="87.3" r="0.38"/><circle cx="370.5" cy="85.6" r="0.79"/><circle cx="349.4" cy="84.3" r="0.71"/><circle cx="346.9" cy="49.8" r="0.71"/><circle cx="376.5" cy="72.2" r="0.42"/><circle cx="339.6" cy="49.1" r="0.36"/><circle cx="367.4" cy="74.1" r="0.47"/><circle cx="378.4" cy="57.8" r="0.61"/><circle cx="375.8" cy="58.4" r="0.41"/><circle cx="342.7" cy="47.9" r="0.46"/><circle cx="369.4" cy="87.8" r="0.62"/><circle cx="373.3" cy="78.7" r="0.77"/><circle cx="350.1" cy="76.6" r="0.64"/><circle cx="370.8" cy="75.3" r="0.49"/><circle cx="364.6" cy="51.7" r="0.6"/><circle cx="375.1" cy="86.6" r="0.72"/><circle cx="385" cy="64.6" r="0.48"/><circle cx="359.4" cy="58.2" r="0.55"/><circle cx="376.4" cy="79.5" r="0.78"/><circle cx="375.7" cy="63.6" r="0.35"/><circle cx="343.6" cy="70.2" r="0.52"/><circle cx="371.6" cy="65.7" r="0.6"/><circle cx="332.8" cy="64.3" r="0.7"/><circle cx="372.8" cy="83.5" r="0.66"/><circle cx="353.8" cy="45" r="0.57"/><circle cx="361.9" cy="61.5" r="0.79"/><circle cx="366.1" cy="69.3" r="0.54"/><circle cx="336.5" cy="74.4" r="0.72"/><circle cx="337.8" cy="53.4" r="0.63"/><circle cx="343.5" cy="82.7" r="0.44"/><circle cx="357.1" cy="92.2" r="0.72"/><circle cx="357.3" cy="48.1" r="0.7"/><circle cx="371.9" cy="46.4" r="0.5"/><circle cx="375.4" cy="49.8" r="0.64"/><circle cx="371.4" cy="66.1" r="0.71"/><circle cx="352.9" cy="83.2" r="0.72"/><circle cx="343" cy="82.6" r="0.76"/><circle cx="347" cy="44" r="0.72"/><circle cx="351.4" cy="86.7" r="0.71"/><circle cx="375.3" cy="52.3" r="0.51"/><circle cx="349.8" cy="43.5" r="0.69"/><circle cx="334.8" cy="74" r="0.73"/><circle cx="383.6" cy="62.8" r="0.62"/><circle cx="359" cy="74.6" r="0.44"/><circle cx="350.7" cy="74.7" r="0.61"/><circle cx="381.7" cy="80.1" r="0.78"/><circle cx="365" cy="48.5" r="0.72"/><circle cx="353.7" cy="51.8" r="0.68"/><circle cx="373" cy="60.1" r="0.75"/><circle cx="360.7" cy="64.6" r="0.52"/><circle cx="383.1" cy="76.5" r="0.73"/><circle cx="355.3" cy="86.2" r="0.57"/><circle cx="336.4" cy="77.7" r="0.56"/><circle cx="372.2" cy="46.6" r="0.45"/></g>
<g fill="#7226c8" filter="url(#bl)"><circle cx="364.7" cy="58.8" r="0.9" fill-opacity="0.7"/><circle cx="340.3" cy="73.2" r="0.75" fill-opacity="0.9"/><circle cx="367.5" cy="68.9" r="1.01" fill-opacity="0.7"/><circle cx="382.1" cy="67.6" r="0.55" fill-opacity="0.9"/><circle cx="371.4" cy="62.8" r="1.12" fill-opacity="0.6"/><circle cx="353.8" cy="66" r="1.18" fill-opacity="0.7"/><circle cx="346.9" cy="73.4" r="0.4" fill-opacity="0.6"/><circle cx="340.4" cy="67.8" r="0.44" fill-opacity="0.7"/><circle cx="345.7" cy="70.5" r="0.46" fill-opacity="0.6"/><circle cx="335.6" cy="59" r="0.74" fill-opacity="0.6"/><circle cx="375.5" cy="47.5" r="0.41" fill-opacity="0.7"/><circle cx="353.1" cy="45.7" r="1.18" fill-opacity="0.7"/><circle cx="346.9" cy="46.5" r="0.47" fill-opacity="0.8"/><circle cx="372.9" cy="47.2" r="0.6" fill-opacity="0.8"/><circle cx="358.9" cy="72.9" r="0.95" fill-opacity="0.7"/><circle cx="347.2" cy="63.8" r="0.81" fill-opacity="0.9"/><circle cx="342.8" cy="73.5" r="0.6" fill-opacity="0.9"/><circle cx="343.1" cy="79.2" r="0.59" fill-opacity="0.6"/><circle cx="356.8" cy="61.4" r="1.27" fill-opacity="0.8"/><circle cx="366.9" cy="82.1" r="0.6" fill-opacity="1"/><circle cx="335.7" cy="61.7" r="1.05" fill-opacity="0.7"/><circle cx="377.3" cy="61.7" r="0.67" fill-opacity="0.8"/><circle cx="344.6" cy="63.1" r="1.22" fill-opacity="0.6"/><circle cx="368.8" cy="46.4" r="1.09" fill-opacity="0.9"/><circle cx="334.7" cy="64.6" r="0.65" fill-opacity="0.7"/><circle cx="363.5" cy="62.2" r="0.66" fill-opacity="0.6"/><circle cx="339.2" cy="69.1" r="0.49" fill-opacity="0.7"/><circle cx="344.3" cy="53.7" r="0.71" fill-opacity="0.8"/><circle cx="359.3" cy="72.3" r="0.42" fill-opacity="0.8"/><circle cx="366" cy="44.3" r="0.95" fill-opacity="0.9"/><circle cx="366.4" cy="55.7" r="0.78" fill-opacity="0.6"/><circle cx="362.7" cy="67.7" r="0.89" fill-opacity="0.7"/><circle cx="351.7" cy="60.6" r="0.49" fill-opacity="0.6"/><circle cx="347.2" cy="65.4" r="0.42" fill-opacity="0.7"/><circle cx="336.8" cy="73.5" r="0.47" fill-opacity="0.8"/><circle cx="354.9" cy="70.4" r="0.53" fill-opacity="0.6"/><circle cx="366.4" cy="61.8" r="0.6" fill-opacity="0.6"/><circle cx="367.2" cy="48.5" r="0.4" fill-opacity="0.6"/><circle cx="356.4" cy="56.7" r="0.42" fill-opacity="0.9"/><circle cx="337.2" cy="61.3" r="0.43" fill-opacity="1"/><circle cx="334.8" cy="64.9" r="0.43" fill-opacity="0.8"/><circle cx="343.1" cy="59.5" r="0.47" fill-opacity="0.8"/><circle cx="356.4" cy="74.1" r="1.24" fill-opacity="0.9"/><circle cx="368.4" cy="55.6" r="0.47" fill-opacity="1"/><circle cx="338.5" cy="78.6" r="0.44" fill-opacity="0.6"/><circle cx="382.9" cy="73" r="0.98" fill-opacity="1"/><circle cx="368.3" cy="84.9" r="1.06" fill-opacity="1"/><circle cx="336" cy="66.1" r="0.51" fill-opacity="0.7"/><circle cx="352.7" cy="56.1" r="0.54" fill-opacity="0.6"/><circle cx="353.8" cy="59.3" r="0.46" fill-opacity="0.8"/><circle cx="369.6" cy="56.1" r="1.11" fill-opacity="0.6"/><circle cx="352.6" cy="78.3" r="1.27" fill-opacity="0.9"/><circle cx="362.3" cy="82.7" r="0.78" fill-opacity="0.9"/><circle cx="344.3" cy="88.1" r="1.08" fill-opacity="0.9"/><circle cx="377.6" cy="65.6" r="0.44" fill-opacity="0.9"/><circle cx="362.8" cy="74.7" r="1.13" fill-opacity="0.6"/><circle cx="339.7" cy="53.9" r="1.02" fill-opacity="0.7"/><circle cx="354.4" cy="82.6" r="1.06" fill-opacity="0.8"/><circle cx="378.3" cy="50.9" r="0.41" fill-opacity="0.8"/><circle cx="367.8" cy="69.5" r="0.4" fill-opacity="0.9"/><circle cx="369.9" cy="46.9" r="0.48" fill-opacity="0.8"/><circle cx="341.5" cy="83.3" r="0.66" fill-opacity="0.7"/><circle cx="357.7" cy="75.5" r="1.1" fill-opacity="0.8"/><circle cx="333.9" cy="73.8" r="0.45" fill-opacity="0.9"/><circle cx="382.9" cy="69.1" r="0.77" fill-opacity="0.6"/><circle cx="366.1" cy="60.9" r="0.4" fill-opacity="0.7"/><circle cx="335.4" cy="79.5" r="0.41" fill-opacity="0.6"/><circle cx="358.1" cy="53.8" r="0.41" fill-opacity="1"/><circle cx="375.4" cy="64.2" r="1.13" fill-opacity="0.7"/><circle cx="344.5" cy="69.3" r="0.41" fill-opacity="0.8"/><circle cx="364.7" cy="67.7" r="1.27" fill-opacity="0.7"/><circle cx="338.6" cy="73.6" r="0.47" fill-opacity="0.6"/><circle cx="383.6" cy="62.6" r="1.24" fill-opacity="0.6"/><circle cx="348.8" cy="58.6" r="1.26" fill-opacity="0.8"/><circle cx="346.8" cy="48.8" r="0.45" fill-opacity="0.8"/><circle cx="359" cy="82.4" r="0.4" fill-opacity="0.7"/><circle cx="333.7" cy="75.5" r="0.75" fill-opacity="0.8"/><circle cx="338.7" cy="83.2" r="0.47" fill-opacity="0.7"/><circle cx="367.6" cy="54.8" r="1.1" fill-opacity="0.7"/><circle cx="343.1" cy="63" r="0.67" fill-opacity="0.8"/><circle cx="372.5" cy="69" r="0.44" fill-opacity="0.6"/><circle cx="376.9" cy="75.8" r="0.4" fill-opacity="0.8"/><circle cx="362.6" cy="53.1" r="0.59" fill-opacity="0.9"/><circle cx="347.3" cy="67.2" r="0.94" fill-opacity="0.6"/><circle cx="370.6" cy="89.6" r="0.92" fill-opacity="1"/><circle cx="348.3" cy="88.7" r="0.41" fill-opacity="0.8"/><circle cx="351.7" cy="91.2" r="1.1" fill-opacity="0.6"/><circle cx="383.5" cy="72.2" r="0.47" fill-opacity="1"/><circle cx="378.7" cy="54.4" r="1.01" fill-opacity="0.9"/><circle cx="368.4" cy="86.9" r="0.54" fill-opacity="0.6"/><circle cx="347.3" cy="48" r="0.44" fill-opacity="0.6"/><circle cx="367.9" cy="43.6" r="0.64" fill-opacity="0.8"/><circle cx="335" cy="74.2" r="0.52" fill-opacity="0.7"/><circle cx="372.8" cy="69.4" r="0.74" fill-opacity="0.7"/><circle cx="377.6" cy="74.9" r="0.49" fill-opacity="0.6"/><circle cx="358" cy="77.3" r="1" fill-opacity="0.7"/><circle cx="345.3" cy="56.2" r="0.44" fill-opacity="0.6"/><circle cx="338.7" cy="67.2" r="0.75" fill-opacity="0.7"/><circle cx="356" cy="45.7" r="0.44" fill-opacity="0.8"/><circle cx="361.6" cy="85.5" r="0.53" fill-opacity="0.8"/><circle cx="380.7" cy="55.1" r="0.45" fill-opacity="0.8"/><circle cx="364.6" cy="70.1" r="0.61" fill-opacity="0.9"/><circle cx="359.8" cy="56.2" r="1.08" fill-opacity="0.7"/><circle cx="371.7" cy="49.5" r="0.5" fill-opacity="0.9"/><circle cx="339.5" cy="54.7" r="1.04" fill-opacity="1"/><circle cx="335.1" cy="56.3" r="0.42" fill-opacity="0.7"/><circle cx="346.6" cy="61.8" r="0.89" fill-opacity="0.6"/><circle cx="354" cy="46.1" r="0.49" fill-opacity="0.8"/><circle cx="357.1" cy="56" r="0.4" fill-opacity="1"/><circle cx="341.9" cy="50.4" r="0.45" fill-opacity="1"/><circle cx="375.3" cy="86.7" r="0.91" fill-opacity="0.9"/><circle cx="351.9" cy="47" r="0.55" fill-opacity="1"/><circle cx="339.2" cy="84.5" r="0.95" fill-opacity="0.7"/><circle cx="353.3" cy="77.4" r="0.41" fill-opacity="1"/><circle cx="377.7" cy="84.5" r="0.69" fill-opacity="0.7"/><circle cx="355.8" cy="76.7" r="0.44" fill-opacity="0.9"/><circle cx="359.4" cy="69.3" r="0.55" fill-opacity="0.6"/><circle cx="341.7" cy="54.4" r="1.01" fill-opacity="0.6"/><circle cx="344.1" cy="63.5" r="0.45" fill-opacity="0.8"/><circle cx="352.9" cy="54.7" r="0.94" fill-opacity="0.9"/><circle cx="333.4" cy="60.1" r="0.59" fill-opacity="0.9"/><circle cx="337.3" cy="57.5" r="0.51" fill-opacity="0.7"/><circle cx="362" cy="58.5" r="0.41" fill-opacity="0.9"/><circle cx="378.3" cy="63" r="0.89" fill-opacity="1"/><circle cx="347.9" cy="67.3" r="0.66" fill-opacity="0.7"/><circle cx="346.5" cy="82.1" r="0.62" fill-opacity="0.6"/><circle cx="341.2" cy="72.9" r="0.47" fill-opacity="0.7"/><circle cx="348.9" cy="46.2" r="0.59" fill-opacity="0.8"/><circle cx="363.5" cy="83.2" r="0.4" fill-opacity="0.7"/><circle cx="374.1" cy="53.5" r="1" fill-opacity="0.8"/><circle cx="333" cy="73.4" r="1" fill-opacity="0.7"/><circle cx="381.7" cy="65.5" r="0.47" fill-opacity="0.6"/><circle cx="337.6" cy="63.3" r="0.49" fill-opacity="0.6"/><circle cx="343.2" cy="74.8" r="0.52" fill-opacity="0.9"/><circle cx="356.5" cy="47.2" r="1.11" fill-opacity="0.9"/><circle cx="358.1" cy="48.6" r="0.74" fill-opacity="0.8"/><circle cx="340.7" cy="78.8" r="0.72" fill-opacity="0.8"/><circle cx="363.8" cy="42.8" r="1.02" fill-opacity="0.9"/><circle cx="339.5" cy="52.8" r="0.49" fill-opacity="0.7"/><circle cx="374.5" cy="51.6" r="0.64" fill-opacity="0.6"/><circle cx="334.3" cy="69.6" r="0.57" fill-opacity="0.6"/><circle cx="358" cy="48.3" r="0.54" fill-opacity="0.7"/><circle cx="380.4" cy="69.9" r="0.6" fill-opacity="1"/><circle cx="340.3" cy="79.9" r="0.8" fill-opacity="0.8"/><circle cx="362" cy="79.5" r="1.09" fill-opacity="0.7"/><circle cx="362.6" cy="60.4" r="0.62" fill-opacity="0.7"/><circle cx="357" cy="48.3" r="0.42" fill-opacity="0.8"/><circle cx="367.6" cy="47" r="0.45" fill-opacity="0.8"/><circle cx="345.9" cy="62.3" r="0.42" fill-opacity="0.9"/><circle cx="346.7" cy="88.5" r="0.43" fill-opacity="1"/><circle cx="371.2" cy="49" r="0.4" fill-opacity="1"/><circle cx="349.9" cy="86.3" r="0.54" fill-opacity="0.9"/><circle cx="367.4" cy="88.8" r="0.72" fill-opacity="0.6"/><circle cx="334" cy="76.1" r="1.14" fill-opacity="0.9"/><circle cx="357" cy="87.8" r="0.62" fill-opacity="0.6"/><circle cx="356.3" cy="57" r="0.5" fill-opacity="0.9"/><circle cx="355.8" cy="54.1" r="0.83" fill-opacity="0.7"/><circle cx="351" cy="72.9" r="0.59" fill-opacity="0.6"/><circle cx="370.2" cy="71.4" r="0.69" fill-opacity="0.9"/><circle cx="371.5" cy="70.1" r="0.82" fill-opacity="0.9"/><circle cx="338.8" cy="50.7" r="0.49" fill-opacity="0.9"/><circle cx="355.1" cy="58.2" r="0.41" fill-opacity="0.7"/><circle cx="344.7" cy="80.3" r="0.42" fill-opacity="0.7"/><circle cx="335" cy="72.8" r="0.67" fill-opacity="0.6"/><circle cx="347.6" cy="86.7" r="0.69" fill-opacity="1"/><circle cx="384" cy="74.7" r="0.95" fill-opacity="0.9"/><circle cx="346.9" cy="77.6" r="0.67" fill-opacity="1"/><circle cx="371.4" cy="55.7" r="0.89" fill-opacity="0.6"/><circle cx="384" cy="69.7" r="0.41" fill-opacity="0.8"/><circle cx="353.3" cy="72.1" r="0.41" fill-opacity="0.8"/><circle cx="379" cy="54" r="0.4" fill-opacity="0.6"/><circle cx="382.3" cy="73.6" r="0.45" fill-opacity="0.6"/><circle cx="367.4" cy="68.8" r="0.73" fill-opacity="0.9"/><circle cx="371.3" cy="49.4" r="0.76" fill-opacity="0.7"/><circle cx="379.7" cy="63.3" r="0.74" fill-opacity="0.7"/><circle cx="365.4" cy="64.4" r="0.68" fill-opacity="0.7"/><circle cx="339" cy="59.7" r="0.62" fill-opacity="0.6"/><circle cx="344.5" cy="75.7" r="0.43" fill-opacity="0.9"/><circle cx="349.2" cy="52.4" r="0.83" fill-opacity="0.9"/><circle cx="358.9" cy="45.1" r="0.44" fill-opacity="1"/><circle cx="368.4" cy="62" r="1.04" fill-opacity="0.9"/><circle cx="364.5" cy="71" r="0.97" fill-opacity="0.8"/><circle cx="375.4" cy="65.7" r="0.4" fill-opacity="0.8"/><circle cx="371.3" cy="80.2" r="0.52" fill-opacity="0.9"/><circle cx="383.4" cy="71.1" r="0.62" fill-opacity="0.6"/><circle cx="379.2" cy="79.3" r="0.4" fill-opacity="0.7"/><circle cx="349.7" cy="88" r="0.41" fill-opacity="0.9"/><circle cx="373.5" cy="48.9" r="0.47" fill-opacity="0.7"/><circle cx="345.5" cy="62.5" r="0.48" fill-opacity="0.7"/><circle cx="381.5" cy="61" r="0.68" fill-opacity="0.6"/><circle cx="337.9" cy="74" r="1.28" fill-opacity="0.9"/><circle cx="351.2" cy="44.6" r="0.63" fill-opacity="1"/><circle cx="352.3" cy="90.2" r="0.42" fill-opacity="0.7"/><circle cx="374.8" cy="78.3" r="0.49" fill-opacity="0.8"/><circle cx="361.1" cy="61.6" r="0.75" fill-opacity="0.7"/><circle cx="349.4" cy="79.2" r="0.48" fill-opacity="0.9"/><circle cx="339.5" cy="64.2" r="0.41" fill-opacity="1"/><circle cx="351.1" cy="81" r="0.4" fill-opacity="1"/><circle cx="374.8" cy="57.7" r="1.16" fill-opacity="1"/><circle cx="380.2" cy="56.7" r="1.15" fill-opacity="0.9"/><circle cx="348" cy="65.8" r="0.67" fill-opacity="1"/><circle cx="351.7" cy="45.2" r="0.87" fill-opacity="0.7"/><circle cx="342.6" cy="47.6" r="0.52" fill-opacity="0.8"/><circle cx="332.8" cy="62.2" r="0.42" fill-opacity="0.6"/><circle cx="337.9" cy="58.9" r="1.13" fill-opacity="0.6"/><circle cx="356.2" cy="50.2" r="0.4" fill-opacity="0.6"/><circle cx="356.6" cy="86.8" r="0.41" fill-opacity="0.7"/><circle cx="337.3" cy="63.8" r="0.4" fill-opacity="0.6"/><circle cx="343.3" cy="48.5" r="0.42" fill-opacity="0.9"/><circle cx="355.4" cy="70.6" r="1.03" fill-opacity="0.9"/><circle cx="370.2" cy="58.1" r="0.69" fill-opacity="0.9"/><circle cx="336.1" cy="78.4" r="0.78" fill-opacity="0.8"/><circle cx="366.3" cy="43.3" r="0.84" fill-opacity="0.9"/><circle cx="357.5" cy="93.1" r="0.43" fill-opacity="0.9"/><circle cx="335.1" cy="65.2" r="0.58" fill-opacity="0.7"/><circle cx="365.8" cy="43.9" r="0.68" fill-opacity="0.6"/><circle cx="334.8" cy="73.5" r="0.42" fill-opacity="0.7"/><circle cx="381" cy="68.1" r="0.41" fill-opacity="0.7"/><circle cx="358.1" cy="42.9" r="1.24" fill-opacity="0.8"/><circle cx="339.1" cy="60.9" r="0.62" fill-opacity="0.8"/><circle cx="381.8" cy="60.5" r="0.53" fill-opacity="0.8"/><circle cx="353.6" cy="81.6" r="0.6" fill-opacity="0.8"/><circle cx="378.6" cy="64.4" r="0.42" fill-opacity="0.8"/><circle cx="356.3" cy="41.7" r="0.66" fill-opacity="0.7"/><circle cx="374.8" cy="60.7" r="1.11" fill-opacity="0.9"/><circle cx="381.1" cy="56.2" r="1.02" fill-opacity="0.7"/><circle cx="363.9" cy="49.8" r="0.5" fill-opacity="0.9"/><circle cx="348.7" cy="83.1" r="0.56" fill-opacity="0.6"/><circle cx="344.3" cy="75.5" r="0.4" fill-opacity="0.6"/><circle cx="367.6" cy="56.4" r="0.68" fill-opacity="0.7"/><circle cx="357.3" cy="93.1" r="0.61" fill-opacity="0.9"/><circle cx="338.1" cy="76.2" r="0.92" fill-opacity="0.8"/><circle cx="335.8" cy="68.5" r="1.24" fill-opacity="0.9"/><circle cx="364.7" cy="73.6" r="1.24" fill-opacity="0.7"/><circle cx="358.5" cy="72.2" r="0.58" fill-opacity="1"/><circle cx="355.7" cy="50.5" r="1" fill-opacity="0.6"/><circle cx="379.8" cy="66.8" r="0.64" fill-opacity="0.8"/><circle cx="374.1" cy="62" r="1.24" fill-opacity="0.6"/><circle cx="340.9" cy="76.8" r="0.77" fill-opacity="0.6"/><circle cx="356" cy="81.2" r="0.58" fill-opacity="0.9"/><circle cx="364.2" cy="43.9" r="0.78" fill-opacity="0.6"/><circle cx="350.1" cy="52.6" r="0.46" fill-opacity="0.8"/><circle cx="377.5" cy="83.7" r="1.04" fill-opacity="0.6"/><circle cx="372.9" cy="57.9" r="0.43" fill-opacity="0.8"/><circle cx="372.2" cy="56.1" r="1.28" fill-opacity="0.7"/><circle cx="373.8" cy="55.8" r="0.64" fill-opacity="0.6"/><circle cx="346.4" cy="86.8" r="0.58" fill-opacity="0.6"/><circle cx="344.1" cy="45.9" r="1.16" fill-opacity="1"/><circle cx="344.5" cy="63.7" r="0.55" fill-opacity="0.9"/><circle cx="361.9" cy="91" r="0.45" fill-opacity="0.9"/><circle cx="370.7" cy="79.9" r="0.42" fill-opacity="0.8"/><circle cx="379" cy="62.2" r="0.63" fill-opacity="0.8"/><circle cx="349" cy="72.9" r="0.45" fill-opacity="0.9"/><circle cx="361.8" cy="81.1" r="0.5" fill-opacity="0.8"/><circle cx="345.8" cy="57.6" r="0.42" fill-opacity="0.9"/><circle cx="336.6" cy="62.6" r="0.4" fill-opacity="0.7"/><circle cx="344.9" cy="50.1" r="0.97" fill-opacity="1"/><circle cx="342.9" cy="67.9" r="0.48" fill-opacity="0.6"/><circle cx="358.2" cy="77.9" r="0.4" fill-opacity="0.8"/><circle cx="337.7" cy="58.8" r="0.79" fill-opacity="0.7"/><circle cx="347" cy="62.2" r="1.09" fill-opacity="0.7"/><circle cx="360.8" cy="67.6" r="0.47" fill-opacity="0.8"/><circle cx="360" cy="75.6" r="0.79" fill-opacity="1"/><circle cx="345.5" cy="57.9" r="0.61" fill-opacity="0.6"/><circle cx="368.9" cy="79.3" r="0.44" fill-opacity="0.9"/><circle cx="380.2" cy="72.8" r="0.4" fill-opacity="0.9"/><circle cx="354.7" cy="75.7" r="0.45" fill-opacity="0.6"/><circle cx="362.1" cy="71.4" r="0.52" fill-opacity="1"/><circle cx="359.7" cy="88.3" r="0.78" fill-opacity="0.7"/><circle cx="350" cy="84.5" r="1.2" fill-opacity="0.7"/><circle cx="343.4" cy="49.2" r="1.02" fill-opacity="0.8"/><circle cx="338" cy="80.9" r="0.78" fill-opacity="0.8"/><circle cx="340.3" cy="59.7" r="0.63" fill-opacity="0.7"/><circle cx="341.6" cy="49.1" r="0.64" fill-opacity="0.6"/><circle cx="367.4" cy="84.2" r="0.43" fill-opacity="0.7"/><circle cx="358.5" cy="86.9" r="0.45" fill-opacity="0.8"/><circle cx="343.1" cy="77.8" r="0.41" fill-opacity="0.7"/><circle cx="337.5" cy="61.5" r="0.64" fill-opacity="0.9"/><circle cx="349.4" cy="46.9" r="0.4" fill-opacity="0.7"/><circle cx="371.1" cy="85.3" r="1.14" fill-opacity="0.6"/><circle cx="363.9" cy="91.1" r="1.02" fill-opacity="0.9"/><circle cx="371" cy="57.2" r="0.42" fill-opacity="0.9"/><circle cx="342.7" cy="73.5" r="0.41" fill-opacity="0.8"/><circle cx="351.3" cy="55" r="0.95" fill-opacity="0.8"/><circle cx="361.5" cy="66.4" r="1.15" fill-opacity="0.8"/><circle cx="342.8" cy="61" r="1.08" fill-opacity="0.8"/><circle cx="339.3" cy="53.9" r="0.54" fill-opacity="1"/><circle cx="344.7" cy="56.7" r="0.4" fill-opacity="0.8"/><circle cx="356.9" cy="61.7" r="0.4" fill-opacity="0.6"/><circle cx="364.9" cy="74.6" r="0.6" fill-opacity="0.7"/><circle cx="373.2" cy="65.8" r="1.13" fill-opacity="0.8"/><circle cx="368.8" cy="46.2" r="0.44" fill-opacity="0.9"/><circle cx="345.8" cy="62.2" r="0.49" fill-opacity="0.6"/><circle cx="379.1" cy="55.8" r="0.47" fill-opacity="0.9"/><circle cx="349.6" cy="54" r="1.29" fill-opacity="0.9"/><circle cx="352" cy="70.1" r="0.5" fill-opacity="0.7"/><circle cx="336" cy="75.8" r="0.81" fill-opacity="0.8"/><circle cx="377.1" cy="73.9" r="0.78" fill-opacity="1"/><circle cx="351.2" cy="58.2" r="0.59" fill-opacity="0.7"/><circle cx="381.1" cy="63.9" r="0.4" fill-opacity="1"/><circle cx="367.2" cy="52.9" r="0.42" fill-opacity="0.9"/><circle cx="353.8" cy="75.1" r="1.24" fill-opacity="0.8"/><circle cx="335.5" cy="72.9" r="0.57" fill-opacity="0.8"/><circle cx="354.6" cy="44.7" r="0.42" fill-opacity="0.7"/><circle cx="340.5" cy="58.8" r="1.16" fill-opacity="0.9"/><circle cx="350.6" cy="74.9" r="0.41" fill-opacity="0.6"/><circle cx="361.9" cy="74.5" r="0.9" fill-opacity="0.9"/><circle cx="352.9" cy="89.9" r="0.42" fill-opacity="1"/><circle cx="381.6" cy="59.5" r="0.4" fill-opacity="0.7"/><circle cx="356.7" cy="46.4" r="1.14" fill-opacity="0.8"/><circle cx="375.9" cy="67.9" r="0.96" fill-opacity="1"/><circle cx="345.3" cy="46.3" r="0.49" fill-opacity="0.7"/><circle cx="380.3" cy="58.2" r="1.22" fill-opacity="0.6"/><circle cx="337.9" cy="65.6" r="0.54" fill-opacity="0.9"/><circle cx="354.5" cy="42.6" r="0.81" fill-opacity="0.9"/><circle cx="337.3" cy="62.4" r="0.44" fill-opacity="0.9"/><circle cx="352.4" cy="59.6" r="0.51" fill-opacity="0.8"/><circle cx="337.1" cy="70.1" r="1.26" fill-opacity="0.7"/><circle cx="362" cy="66.3" r="0.47" fill-opacity="0.7"/><circle cx="343.9" cy="57.6" r="1.27" fill-opacity="0.9"/><circle cx="343.2" cy="64" r="0.55" fill-opacity="0.8"/><circle cx="367.4" cy="82.4" r="0.52" fill-opacity="0.7"/><circle cx="363.8" cy="55.9" r="0.5" fill-opacity="0.6"/><circle cx="370.1" cy="50.8" r="0.92" fill-opacity="0.8"/><circle cx="346.7" cy="86.5" r="0.41" fill-opacity="0.7"/><circle cx="355.6" cy="83" r="0.57" fill-opacity="0.6"/><circle cx="358.4" cy="77.5" r="0.43" fill-opacity="0.9"/><circle cx="365" cy="85.8" r="0.54" fill-opacity="0.9"/><circle cx="339.1" cy="60.6" r="0.51" fill-opacity="0.6"/><circle cx="377.6" cy="77" r="0.93" fill-opacity="0.6"/><circle cx="341.4" cy="82.5" r="0.79" fill-opacity="0.8"/><circle cx="348.4" cy="64.9" r="0.4" fill-opacity="0.7"/><circle cx="354.8" cy="83.5" r="0.76" fill-opacity="1"/><circle cx="367.4" cy="53.6" r="0.43" fill-opacity="0.9"/><circle cx="342.6" cy="63.8" r="0.4" fill-opacity="0.9"/><circle cx="345.9" cy="70.2" r="0.46" fill-opacity="0.9"/><circle cx="342.9" cy="53.8" r="0.88" fill-opacity="0.7"/><circle cx="362.1" cy="61.1" r="0.47" fill-opacity="0.9"/><circle cx="340.7" cy="48.9" r="0.41" fill-opacity="0.9"/><circle cx="359.2" cy="88.3" r="0.43" fill-opacity="0.8"/><circle cx="367.1" cy="61.8" r="0.82" fill-opacity="0.9"/><circle cx="373.8" cy="59.5" r="0.41" fill-opacity="0.9"/><circle cx="372.9" cy="67.6" r="0.41" fill-opacity="0.6"/><circle cx="341.7" cy="83.1" r="0.58" fill-opacity="0.8"/><circle cx="349.2" cy="56.5" r="0.77" fill-opacity="1"/><circle cx="370.5" cy="52.4" r="1.24" fill-opacity="0.9"/><circle cx="356.1" cy="84.6" r="0.41" fill-opacity="0.9"/><circle cx="348.8" cy="63.6" r="0.56" fill-opacity="0.6"/><circle cx="364.4" cy="55.8" r="0.63" fill-opacity="1"/><circle cx="379.7" cy="81.1" r="0.78" fill-opacity="0.6"/><circle cx="341.8" cy="73.5" r="1.22" fill-opacity="0.8"/><circle cx="346.1" cy="66.6" r="0.62" fill-opacity="0.6"/><circle cx="370.6" cy="56" r="1.26" fill-opacity="0.9"/><circle cx="364.9" cy="63.2" r="0.56" fill-opacity="0.9"/><circle cx="365.8" cy="76.7" r="1.13" fill-opacity="0.7"/><circle cx="352.2" cy="67.3" r="1.28" fill-opacity="0.9"/><circle cx="376" cy="66.6" r="0.95" fill-opacity="0.9"/><circle cx="341.5" cy="80.3" r="1.12" fill-opacity="0.8"/><circle cx="334.2" cy="59.2" r="1.13" fill-opacity="0.8"/><circle cx="343.3" cy="58" r="0.47" fill-opacity="0.6"/><circle cx="371" cy="51" r="0.45" fill-opacity="0.9"/><circle cx="362.4" cy="44.5" r="0.53" fill-opacity="1"/><circle cx="337.4" cy="56.7" r="0.41" fill-opacity="0.8"/><circle cx="361.8" cy="65.1" r="0.48" fill-opacity="0.7"/><circle cx="345.4" cy="52.3" r="0.67" fill-opacity="0.8"/><circle cx="371" cy="50.1" r="0.55" fill-opacity="0.8"/><circle cx="382.7" cy="67.8" r="0.42" fill-opacity="0.7"/><circle cx="369.1" cy="59.5" r="0.41" fill-opacity="0.6"/><circle cx="342.9" cy="66.5" r="0.98" fill-opacity="1"/><circle cx="339.5" cy="52.1" r="0.4" fill-opacity="0.6"/><circle cx="367.8" cy="48.4" r="0.45" fill-opacity="1"/><circle cx="340.5" cy="58.5" r="0.71" fill-opacity="0.6"/><circle cx="369.5" cy="62.8" r="0.45" fill-opacity="0.6"/><circle cx="356.4" cy="52.9" r="0.45" fill-opacity="0.6"/><circle cx="343.9" cy="69.1" r="0.86" fill-opacity="0.7"/><circle cx="383.3" cy="63.6" r="0.98" fill-opacity="0.6"/><circle cx="372.6" cy="60.4" r="1.04" fill-opacity="0.6"/><circle cx="346.6" cy="80.7" r="0.87" fill-opacity="0.6"/><circle cx="358.6" cy="52" r="1.09" fill-opacity="0.6"/><circle cx="347.8" cy="49.9" r="1.07" fill-opacity="0.7"/><circle cx="367.1" cy="91.4" r="0.41" fill-opacity="0.6"/><circle cx="373.6" cy="81.4" r="0.45" fill-opacity="0.6"/><circle cx="365.5" cy="65.7" r="0.48" fill-opacity="1"/><circle cx="362.9" cy="89.2" r="1.17" fill-opacity="0.6"/><circle cx="384.4" cy="72.5" r="0.44" fill-opacity="0.8"/><circle cx="358.9" cy="64.3" r="0.4" fill-opacity="0.9"/><circle cx="352.9" cy="66.3" r="0.43" fill-opacity="0.7"/><circle cx="345.3" cy="80.8" r="0.51" fill-opacity="0.8"/><circle cx="363.9" cy="78.5" r="0.79" fill-opacity="0.7"/><circle cx="335.6" cy="78.5" r="0.57" fill-opacity="0.6"/><circle cx="362.2" cy="70" r="0.72" fill-opacity="0.8"/><circle cx="334.9" cy="77.7" r="0.82" fill-opacity="0.7"/><circle cx="351.5" cy="71.1" r="0.81" fill-opacity="0.9"/><circle cx="371.4" cy="45.4" r="0.65" fill-opacity="0.8"/><circle cx="339.4" cy="69.9" r="0.79" fill-opacity="0.8"/><circle cx="335.1" cy="74.7" r="0.57" fill-opacity="0.9"/><circle cx="336.6" cy="64" r="0.65" fill-opacity="0.9"/><circle cx="357.4" cy="87.8" r="0.47" fill-opacity="0.8"/><circle cx="352.3" cy="69" r="1.1" fill-opacity="0.7"/><circle cx="352.9" cy="50.3" r="1.16" fill-opacity="0.9"/><circle cx="342.6" cy="81.2" r="0.55" fill-opacity="0.8"/><circle cx="362.2" cy="51.5" r="0.4" fill-opacity="0.9"/><circle cx="350.6" cy="88.4" r="0.4" fill-opacity="0.7"/><circle cx="363.4" cy="47.6" r="1.06" fill-opacity="0.6"/><circle cx="364.8" cy="73" r="1.28" fill-opacity="0.8"/><circle cx="354.8" cy="57.8" r="1.22" fill-opacity="0.8"/><circle cx="371.9" cy="64.2" r="0.81" fill-opacity="0.6"/><circle cx="335.1" cy="66.7" r="0.67" fill-opacity="0.7"/><circle cx="345.2" cy="74.4" r="0.62" fill-opacity="0.8"/><circle cx="380.8" cy="78.2" r="0.43" fill-opacity="1"/><circle cx="342.9" cy="53.4" r="0.73" fill-opacity="0.7"/><circle cx="362.9" cy="83.7" r="0.41" fill-opacity="1"/><circle cx="375.4" cy="51.8" r="0.4" fill-opacity="0.9"/><circle cx="343.1" cy="67.5" r="0.78" fill-opacity="0.6"/><circle cx="342.6" cy="61.8" r="1.07" fill-opacity="0.8"/><circle cx="346.1" cy="58" r="0.68" fill-opacity="0.7"/><circle cx="355.3" cy="86.7" r="0.4" fill-opacity="0.7"/><circle cx="349.9" cy="67.7" r="0.6" fill-opacity="0.9"/><circle cx="358.5" cy="44.7" r="1.28" fill-opacity="0.7"/><circle cx="360.7" cy="83.7" r="0.41" fill-opacity="0.8"/><circle cx="372" cy="81.1" r="1.15" fill-opacity="1"/><circle cx="366.4" cy="67.5" r="0.4" fill-opacity="0.9"/><circle cx="381.2" cy="77" r="0.4" fill-opacity="0.8"/><circle cx="374.6" cy="69.1" r="0.4" fill-opacity="0.6"/><circle cx="355" cy="79.2" r="0.64" fill-opacity="0.7"/><circle cx="361.9" cy="80.2" r="1.09" fill-opacity="0.7"/><circle cx="339.2" cy="73.1" r="0.48" fill-opacity="0.7"/><circle cx="360.2" cy="70.9" r="0.74" fill-opacity="0.9"/><circle cx="364.5" cy="78.9" r="1.12" fill-opacity="0.6"/><circle cx="375.8" cy="51.2" r="0.41" fill-opacity="0.9"/><circle cx="369.4" cy="70.2" r="0.46" fill-opacity="0.7"/><circle cx="339.1" cy="74.5" r="0.94" fill-opacity="0.8"/><circle cx="361.6" cy="76.7" r="0.87" fill-opacity="0.6"/><circle cx="368.4" cy="43.9" r="0.43" fill-opacity="0.7"/><circle cx="346" cy="73.7" r="0.44" fill-opacity="0.6"/><circle cx="363.4" cy="80.3" r="0.49" fill-opacity="0.8"/><circle cx="345.2" cy="46.8" r="0.71" fill-opacity="0.9"/><circle cx="343.2" cy="74.8" r="0.44" fill-opacity="0.9"/><circle cx="379.8" cy="54.4" r="0.7" fill-opacity="0.6"/><circle cx="361" cy="59.8" r="1.09" fill-opacity="0.8"/><circle cx="381.8" cy="56.8" r="0.88" fill-opacity="0.7"/><circle cx="347.5" cy="81.8" r="0.52" fill-opacity="0.8"/><circle cx="361.5" cy="70.2" r="0.42" fill-opacity="0.8"/><circle cx="352.6" cy="43.8" r="0.41" fill-opacity="0.8"/><circle cx="372.8" cy="83" r="0.4" fill-opacity="0.8"/><circle cx="350.2" cy="56.7" r="0.42" fill-opacity="0.9"/><circle cx="344.6" cy="73.9" r="0.64" fill-opacity="0.9"/><circle cx="372.9" cy="46.8" r="0.79" fill-opacity="0.6"/><circle cx="346.5" cy="64.7" r="1.27" fill-opacity="0.9"/><circle cx="350.9" cy="76.9" r="1.23" fill-opacity="0.8"/><circle cx="374.2" cy="48.4" r="0.92" fill-opacity="0.8"/><circle cx="346.5" cy="85.3" r="0.41" fill-opacity="1"/><circle cx="357.9" cy="72.7" r="0.71" fill-opacity="1"/><circle cx="358.8" cy="80" r="1.03" fill-opacity="0.7"/><circle cx="347.4" cy="80.5" r="0.4" fill-opacity="1"/><circle cx="381.1" cy="68.2" r="0.41" fill-opacity="0.6"/><circle cx="371.6" cy="56.9" r="0.41" fill-opacity="0.7"/><circle cx="343" cy="66.3" r="1.12" fill-opacity="0.8"/><circle cx="334.1" cy="60.9" r="0.54" fill-opacity="0.9"/><circle cx="338.1" cy="70.5" r="0.61" fill-opacity="0.7"/><circle cx="374.8" cy="75.2" r="0.43" fill-opacity="0.9"/><circle cx="361.4" cy="77.3" r="0.42" fill-opacity="0.7"/><circle cx="354.3" cy="72.4" r="0.7" fill-opacity="0.9"/><circle cx="379.9" cy="79.9" r="0.74" fill-opacity="0.6"/><circle cx="344.1" cy="60.1" r="1.01" fill-opacity="0.9"/><circle cx="384.8" cy="70.2" r="0.47" fill-opacity="0.8"/><circle cx="364.2" cy="69.1" r="0.5" fill-opacity="0.8"/><circle cx="368.3" cy="71.6" r="0.47" fill-opacity="0.9"/><circle cx="379.1" cy="66.9" r="0.7" fill-opacity="1"/><circle cx="338.1" cy="69.7" r="0.53" fill-opacity="0.6"/><circle cx="354.5" cy="61.1" r="1.04" fill-opacity="0.6"/><circle cx="352.9" cy="77.8" r="0.47" fill-opacity="0.9"/><circle cx="353.7" cy="80.3" r="0.59" fill-opacity="1"/><circle cx="348.4" cy="56.3" r="0.4" fill-opacity="0.7"/><circle cx="363.8" cy="91.7" r="0.49" fill-opacity="0.8"/><circle cx="340.4" cy="58.1" r="0.7" fill-opacity="0.9"/><circle cx="349.1" cy="79.7" r="0.52" fill-opacity="0.8"/><circle cx="373" cy="53.1" r="0.52" fill-opacity="0.8"/><circle cx="382.6" cy="63" r="0.44" fill-opacity="0.9"/><circle cx="357.8" cy="53.6" r="0.4" fill-opacity="0.8"/><circle cx="352.2" cy="48.3" r="1.14" fill-opacity="0.9"/><circle cx="338.2" cy="67.7" r="0.4" fill-opacity="0.8"/><circle cx="357.6" cy="47.5" r="0.42" fill-opacity="0.8"/><circle cx="357.6" cy="60.7" r="0.98" fill-opacity="0.7"/><circle cx="346.9" cy="48.8" r="0.47" fill-opacity="0.6"/><circle cx="344" cy="85.1" r="0.42" fill-opacity="0.7"/><circle cx="382" cy="60.6" r="0.66" fill-opacity="1"/><circle cx="346.6" cy="68" r="0.4" fill-opacity="0.7"/><circle cx="381.9" cy="76.2" r="0.75" fill-opacity="0.8"/><circle cx="385" cy="66.3" r="0.41" fill-opacity="0.7"/><circle cx="345.9" cy="89.8" r="0.42" fill-opacity="1"/><circle cx="351" cy="86.7" r="0.65" fill-opacity="0.7"/><circle cx="341" cy="61.5" r="0.42" fill-opacity="0.8"/><circle cx="336.8" cy="53.5" r="0.93" fill-opacity="0.7"/><circle cx="370" cy="67.7" r="1.26" fill-opacity="0.6"/><circle cx="349" cy="53.6" r="0.86" fill-opacity="0.8"/><circle cx="365.8" cy="51" r="0.55" fill-opacity="0.9"/><circle cx="357.4" cy="60.6" r="0.41" fill-opacity="0.7"/><circle cx="366.2" cy="83.5" r="0.55" fill-opacity="0.9"/><circle cx="360.6" cy="72.7" r="1.25" fill-opacity="0.8"/><circle cx="373.4" cy="58.5" r="0.91" fill-opacity="0.6"/><circle cx="367.5" cy="85.8" r="0.91" fill-opacity="0.8"/><circle cx="380.6" cy="76.5" r="1.16" fill-opacity="0.7"/><circle cx="335.6" cy="75.9" r="1.09" fill-opacity="0.6"/><circle cx="351.7" cy="68.7" r="1.17" fill-opacity="0.8"/><circle cx="368.6" cy="83.6" r="0.63" fill-opacity="0.7"/><circle cx="357.2" cy="42.9" r="0.58" fill-opacity="0.6"/><circle cx="369.5" cy="65.4" r="0.7" fill-opacity="0.7"/><circle cx="363.7" cy="90.2" r="0.56" fill-opacity="0.9"/><circle cx="366.2" cy="72.8" r="0.4" fill-opacity="0.6"/><circle cx="351.2" cy="82.2" r="0.45" fill-opacity="0.6"/><circle cx="340.6" cy="73.6" r="0.87" fill-opacity="0.7"/><circle cx="350.6" cy="85.9" r="0.88" fill-opacity="0.6"/><circle cx="340.5" cy="73.5" r="0.56" fill-opacity="0.8"/><circle cx="350.5" cy="85.1" r="0.99" fill-opacity="1"/><circle cx="345.2" cy="52.4" r="0.84" fill-opacity="0.7"/><circle cx="338.3" cy="72" r="0.58" fill-opacity="0.7"/><circle cx="362.6" cy="86.4" r="0.44" fill-opacity="0.6"/><circle cx="359.2" cy="87.7" r="0.92" fill-opacity="1"/><circle cx="347.5" cy="87.4" r="1.19" fill-opacity="0.7"/><circle cx="344.8" cy="58.1" r="0.76" fill-opacity="0.7"/><circle cx="373" cy="48.9" r="0.46" fill-opacity="0.7"/><circle cx="353.1" cy="51.2" r="0.77" fill-opacity="0.6"/><circle cx="372.7" cy="57.6" r="1.22" fill-opacity="0.8"/><circle cx="371.3" cy="47.8" r="0.43" fill-opacity="0.6"/><circle cx="342.7" cy="81" r="0.82" fill-opacity="0.7"/><circle cx="365.1" cy="50.8" r="0.4" fill-opacity="0.7"/><circle cx="347.5" cy="65" r="0.85" fill-opacity="1"/><circle cx="373" cy="85.2" r="0.55" fill-opacity="0.8"/><circle cx="352" cy="47.3" r="1.25" fill-opacity="1"/><circle cx="365.7" cy="77.9" r="1.24" fill-opacity="0.6"/><circle cx="377.7" cy="84.7" r="0.68" fill-opacity="0.6"/><circle cx="353.3" cy="76.2" r="0.94" fill-opacity="0.9"/><circle cx="368.9" cy="78.9" r="0.49" fill-opacity="0.6"/><circle cx="344.9" cy="67.6" r="0.59" fill-opacity="1"/><circle cx="349.9" cy="65.5" r="0.66" fill-opacity="0.6"/><circle cx="369.4" cy="79.7" r="1.1" fill-opacity="0.7"/><circle cx="351" cy="68.5" r="0.62" fill-opacity="0.9"/><circle cx="364.8" cy="88.7" r="1.13" fill-opacity="0.6"/><circle cx="380.3" cy="73" r="0.98" fill-opacity="0.6"/></g>
<radialGradient id="g2"><stop offset="0" stop-color="#cfc9d4"/><stop offset="0.75" stop-color="#cfc9d4"/><stop offset="1" stop-color="#c2b8cb"/></radialGradient>
<ellipse cx="436" cy="68.1" rx="30" ry="29.8" fill="#cdc9d1" stroke="#a9a5af" stroke-width="0.8"/>
<ellipse cx="436" cy="68.1" rx="27.75" ry="27.57" fill="url(#g2)"/>
<g fill="#7226c8" fill-opacity="0.2"><circle cx="436" cy="84" r="0.48"/><circle cx="449" cy="60.9" r="0.64"/><circle cx="443" cy="72.8" r="0.43"/><circle cx="421.5" cy="90.1" r="0.71"/><circle cx="441" cy="82.2" r="0.77"/><circle cx="426.1" cy="68.1" r="0.59"/><circle cx="436.7" cy="50.6" r="0.73"/><circle cx="431.2" cy="82.4" r="0.57"/><circle cx="422.4" cy="53.3" r="0.7"/><circle cx="452.4" cy="61.7" r="0.56"/><circle cx="430" cy="71.3" r="0.59"/><circle cx="446.1" cy="58.6" r="0.62"/><circle cx="431.5" cy="88.3" r="0.41"/><circle cx="425.7" cy="55.5" r="0.66"/><circle cx="458.6" cy="72.7" r="0.7"/><circle cx="426.4" cy="47.1" r="0.59"/><circle cx="460.5" cy="62.3" r="0.61"/><circle cx="417.3" cy="63.2" r="0.71"/><circle cx="439.8" cy="45.5" r="0.49"/><circle cx="437.9" cy="89.9" r="0.61"/><circle cx="430.8" cy="67" r="0.68"/><circle cx="410.3" cy="70.5" r="0.74"/><circle cx="450.4" cy="69.2" r="0.6"/><circle cx="422" cy="78.9" r="0.62"/><circle cx="451.6" cy="49.9" r="0.5"/><circle cx="421.1" cy="52.4" r="0.66"/><circle cx="414.8" cy="72.8" r="0.71"/><circle cx="437.3" cy="62.4" r="0.43"/><circle cx="429.4" cy="55.9" r="0.55"/><circle cx="451.6" cy="76.4" r="0.37"/><circle cx="449.2" cy="77.2" r="0.66"/><circle cx="425.4" cy="77.9" r="0.54"/><circle cx="445.5" cy="46.9" r="0.63"/><circle cx="445.7" cy="79.3" r="0.6"/><circle cx="433.1" cy="50.3" r="0.45"/><circle cx="421.4" cy="86" r="0.48"/><circle cx="436.4" cy="54.3" r="0.58"/><circle cx="446.5" cy="49.8" r="0.36"/><circle cx="426" cy="86.6" r="0.46"/><circle cx="437.1" cy="92.8" r="0.53"/><circle cx="448.5" cy="82.8" r="0.49"/><circle cx="432.9" cy="68.1" r="0.63"/><circle cx="461.9" cy="61.4" r="0.5"/><circle cx="456.9" cy="84" r="0.42"/><circle cx="427.4" cy="49.1" r="0.62"/><circle cx="429.7" cy="72.2" r="0.57"/><circle cx="437.3" cy="49.7" r="0.68"/><circle cx="425.8" cy="70.3" r="0.66"/><circle cx="423.3" cy="47.4" r="0.79"/><circle cx="417.3" cy="82.8" r="0.73"/><circle cx="417.9" cy="55.5" r="0.62"/><circle cx="429.9" cy="45.1" r="0.56"/><circle cx="414.5" cy="79.6" r="0.68"/><circle cx="410.6" cy="63.3" r="0.42"/><circle cx="442" cy="93" r="0.44"/><circle cx="428.9" cy="72" r="0.53"/><circle cx="447.6" cy="89.8" r="0.52"/><circle cx="459.9" cy="71.7" r="0.54"/><circle cx="437.6" cy="55.4" r="0.48"/><circle cx="445.6" cy="76.2" r="0.44"/><circle cx="453.4" cy="83.5" r="0.37"/><circle cx="450.9" cy="72.1" r="0.68"/><circle cx="412.5" cy="63.2" r="0.5"/><circle cx="434.3" cy="60.7" r="0.46"/><circle cx="457.2" cy="66.5" r="0.46"/><circle cx="414.6" cy="76.9" r="0.59"/><circle cx="430.4" cy="50.2" r="0.58"/><circle cx="439" cy="61.7" r="0.46"/><circle cx="418.3" cy="70.4" r="0.62"/><circle cx="453.7" cy="84.3" r="0.52"/><circle cx="414.1" cy="72.1" r="0.46"/><circle cx="459.9" cy="62.6" r="0.64"/><circle cx="447.9" cy="85.3" r="0.57"/><circle cx="426.2" cy="90.3" r="0.55"/><circle cx="428.9" cy="86.3" r="0.63"/><circle cx="450.8" cy="60.2" r="0.73"/><circle cx="451.5" cy="75" r="0.36"/><circle cx="414.1" cy="79.5" r="0.4"/><circle cx="437.6" cy="60" r="0.44"/><circle cx="419.8" cy="88.2" r="0.63"/><circle cx="426" cy="53.5" r="0.41"/><circle cx="447.6" cy="79.2" r="0.38"/><circle cx="457.4" cy="67" r="0.35"/><circle cx="430.1" cy="92.7" r="0.42"/><circle cx="431.8" cy="73.8" r="0.39"/><circle cx="416.3" cy="73.3" r="0.43"/><circle cx="413.9" cy="55.4" r="0.69"/><circle cx="433.3" cy="53" r="0.66"/><circle cx="445.5" cy="90.2" r="0.78"/><circle cx="453.3" cy="77.6" r="0.76"/><circle cx="449.5" cy="57.8" r="0.44"/><circle cx="426.3" cy="67.3" r="0.6"/><circle cx="421.5" cy="50.4" r="0.51"/><circle cx="412" cy="65.9" r="0.42"/><circle cx="423" cy="85.4" r="0.6"/><circle cx="435.8" cy="81.2" r="0.47"/><circle cx="458.6" cy="71.4" r="0.54"/><circle cx="449.2" cy="54.8" r="0.41"/><circle cx="443.7" cy="49" r="0.53"/><circle cx="435.3" cy="94.2" r="0.57"/><circle cx="432.7" cy="84.6" r="0.38"/><circle cx="422.2" cy="48.2" r="0.73"/><circle cx="444.3" cy="86.3" r="0.65"/><circle cx="411.6" cy="59" r="0.47"/><circle cx="448.6" cy="51.6" r="0.72"/><circle cx="434.8" cy="45.9" r="0.36"/><circle cx="448.4" cy="69" r="0.55"/><circle cx="456.2" cy="70.3" r="0.72"/><circle cx="433.5" cy="47.2" r="0.78"/><circle cx="435.5" cy="44.1" r="0.64"/><circle cx="438.3" cy="47.5" r="0.7"/><circle cx="441.7" cy="52.4" r="0.42"/><circle cx="454.4" cy="58.1" r="0.45"/><circle cx="410.5" cy="70.6" r="0.68"/><circle cx="448.3" cy="72.2" r="0.46"/><circle cx="453.1" cy="54.5" r="0.6"/><circle cx="420.8" cy="82.3" r="0.58"/><circle cx="451.8" cy="50.8" r="0.51"/><circle cx="422.9" cy="86.8" r="0.46"/><circle cx="428.8" cy="73" r="0.62"/><circle cx="416.5" cy="74.7" r="0.7"/><circle cx="428.9" cy="49.8" r="0.6"/><circle cx="423" cy="90.7" r="0.55"/><circle cx="429.1" cy="91.1" r="0.71"/><circle cx="445.9" cy="82.3" r="0.6"/><circle cx="428.7" cy="88.1" r="0.47"/><circle cx="409.3" cy="67.4" r="0.67"/><circle cx="417.8" cy="62.2" r="0.48"/><circle cx="442.7" cy="56.5" r="0.66"/><circle cx="421.9" cy="77.4" r="0.6"/><circle cx="429" cy="62" r="0.8"/><circle cx="413.4" cy="73" r="0.4"/><circle cx="417.6" cy="57.8" r="0.66"/><circle cx="432.9" cy="93.2" r="0.4"/><circle cx="410.2" cy="62.5" r="0.75"/><circle cx="453.9" cy="55.4" r="0.62"/><circle cx="420.3" cy="50.6" r="0.78"/><circle cx="459.6" cy="64.2" r="0.54"/><circle cx="440.4" cy="81.9" r="0.56"/><circle cx="428.1" cy="48.4" r="0.56"/><circle cx="414.1" cy="82.8" r="0.35"/><circle cx="424.5" cy="50.7" r="0.46"/><circle cx="443.9" cy="90.5" r="0.76"/><circle cx="454.7" cy="62.4" r="0.63"/><circle cx="442.5" cy="90.7" r="0.75"/><circle cx="451.7" cy="89.5" r="0.61"/><circle cx="445.7" cy="59.1" r="0.74"/><circle cx="438.9" cy="42.6" r="0.52"/><circle cx="456.9" cy="76.1" r="0.4"/><circle cx="434.8" cy="46.9" r="0.48"/><circle cx="440.9" cy="69.5" r="0.5"/><circle cx="451.2" cy="58" r="0.66"/><circle cx="436.9" cy="42.8" r="0.67"/><circle cx="440.3" cy="91.7" r="0.69"/><circle cx="422.6" cy="51.1" r="0.57"/><circle cx="446.9" cy="51.9" r="0.71"/><circle cx="445" cy="57.2" r="0.59"/><circle cx="438.3" cy="59.2" r="0.75"/><circle cx="418.5" cy="76.4" r="0.47"/><circle cx="422.1" cy="65" r="0.55"/><circle cx="423.6" cy="49.2" r="0.44"/><circle cx="412.9" cy="75.4" r="0.53"/><circle cx="425.3" cy="59.2" r="0.66"/><circle cx="446.5" cy="46.3" r="0.51"/><circle cx="420.1" cy="54.2" r="0.53"/><circle cx="435.4" cy="63.6" r="0.75"/><circle cx="453.7" cy="58.7" r="0.37"/><circle cx="418.7" cy="81.2" r="0.64"/><circle cx="432.5" cy="50.5" r="0.44"/><circle cx="421.9" cy="76.7" r="0.54"/><circle cx="453.9" cy="61.4" r="0.58"/><circle cx="450.8" cy="83.5" r="0.59"/><circle cx="429" cy="45.2" r="0.78"/><circle cx="420.8" cy="83.8" r="0.74"/><circle cx="462.1" cy="63.4" r="0.4"/><circle cx="448.5" cy="87.3" r="0.47"/><circle cx="453" cy="50.9" r="0.62"/><circle cx="418.8" cy="69.6" r="0.49"/><circle cx="440.5" cy="83.4" r="0.78"/><circle cx="446.3" cy="91.8" r="0.73"/><circle cx="432.2" cy="44.6" r="0.46"/><circle cx="444.4" cy="49" r="0.67"/><circle cx="460.5" cy="76.9" r="0.5"/><circle cx="420.3" cy="77.3" r="0.79"/><circle cx="449" cy="45.3" r="0.65"/><circle cx="450.1" cy="48.5" r="0.45"/><circle cx="458.2" cy="65.8" r="0.42"/><circle cx="422.8" cy="82.5" r="0.73"/><circle cx="448.9" cy="83.2" r="0.52"/><circle cx="414.3" cy="61.8" r="0.36"/><circle cx="430.7" cy="92.1" r="0.37"/><circle cx="425.3" cy="48.6" r="0.62"/><circle cx="446.6" cy="69.5" r="0.68"/><circle cx="456.6" cy="69.5" r="0.6"/><circle cx="425.8" cy="69.8" r="0.67"/><circle cx="423.5" cy="76.4" r="0.67"/><circle cx="424.2" cy="57" r="0.38"/><circle cx="438" cy="91.2" r="0.54"/><circle cx="440.6" cy="42" r="0.43"/><circle cx="416.4" cy="82.7" r="0.57"/><circle cx="443.6" cy="82.5" r="0.79"/><circle cx="441" cy="85.9" r="0.71"/><circle cx="426.4" cy="73.9" r="0.4"/><circle cx="443.3" cy="67.3" r="0.57"/><circle cx="449.7" cy="86.1" r="0.51"/><circle cx="441" cy="60.6" r="0.35"/><circle cx="461.4" cy="61.9" r="0.44"/><circle cx="443.2" cy="82.9" r="0.36"/><circle cx="416.2" cy="64.9" r="0.75"/><circle cx="445.2" cy="86" r="0.54"/><circle cx="448.9" cy="70.8" r="0.52"/><circle cx="457.7" cy="80.2" r="0.79"/><circle cx="461" cy="67.2" r="0.62"/><circle cx="438.2" cy="51.3" r="0.42"/><circle cx="446.3" cy="50.1" r="0.59"/><circle cx="446.4" cy="89.7" r="0.74"/><circle cx="429.6" cy="79.2" r="0.62"/><circle cx="454.9" cy="85.7" r="0.48"/><circle cx="436.4" cy="92.1" r="0.53"/><circle cx="449.8" cy="67.3" r="0.7"/><circle cx="454.4" cy="67.5" r="0.75"/><circle cx="451.4" cy="75.9" r="0.67"/><circle cx="433.9" cy="90.3" r="0.35"/><circle cx="451.1" cy="61.3" r="0.66"/><circle cx="428.5" cy="46.6" r="0.47"/><circle cx="410.9" cy="72.5" r="0.77"/><circle cx="426.7" cy="48.1" r="0.74"/><circle cx="430.1" cy="42.4" r="0.77"/><circle cx="428.4" cy="85.4" r="0.47"/><circle cx="450.4" cy="57" r="0.5"/><circle cx="449.1" cy="76.5" r="0.67"/><circle cx="412.9" cy="80" r="0.42"/><circle cx="450" cy="48.6" r="0.53"/><circle cx="421.9" cy="82.3" r="0.59"/><circle cx="456.3" cy="57.8" r="0.5"/><circle cx="416" cy="51" r="0.56"/><circle cx="437.7" cy="92.9" r="0.6"/><circle cx="449" cy="46" r="0.74"/><circle cx="423.2" cy="51.7" r="0.7"/><circle cx="451.2" cy="64.7" r="0.71"/><circle cx="419.5" cy="56.4" r="0.78"/><circle cx="435.2" cy="73.1" r="0.75"/><circle cx="433.3" cy="60.3" r="0.48"/><circle cx="450.8" cy="72.9" r="0.48"/><circle cx="425.6" cy="53.3" r="0.72"/><circle cx="448.5" cy="86" r="0.59"/><circle cx="438.5" cy="93.8" r="0.66"/><circle cx="431.2" cy="82.2" r="0.59"/><circle cx="411.8" cy="62.2" r="0.44"/><circle cx="456.4" cy="75.1" r="0.68"/><circle cx="425.3" cy="86.5" r="0.63"/><circle cx="418" cy="69" r="0.61"/><circle cx="444.8" cy="90.9" r="0.78"/><circle cx="445.5" cy="91.2" r="0.76"/><circle cx="445.2" cy="54.9" r="0.45"/><circle cx="452.7" cy="49.2" r="0.6"/><circle cx="436.7" cy="45.2" r="0.64"/><circle cx="438.2" cy="50.8" r="0.76"/><circle cx="449.4" cy="52" r="0.51"/><circle cx="427.6" cy="50.4" r="0.49"/><circle cx="443" cy="44.9" r="0.44"/><circle cx="449.9" cy="55.5" r="0.58"/><circle cx="438.7" cy="61.2" r="0.43"/><circle cx="452.4" cy="56.8" r="0.69"/><circle cx="459.7" cy="70.6" r="0.46"/><circle cx="447.6" cy="66.7" r="0.45"/><circle cx="433" cy="55.3" r="0.7"/><circle cx="412.9" cy="63.4" r="0.75"/><circle cx="457.4" cy="73.2" r="0.73"/><circle cx="439.9" cy="67.9" r="0.61"/><circle cx="437.7" cy="90.2" r="0.74"/><circle cx="419.9" cy="59.9" r="0.38"/><circle cx="448.6" cy="49" r="0.63"/><circle cx="413.7" cy="57.7" r="0.6"/><circle cx="445.9" cy="90.8" r="0.53"/><circle cx="434.4" cy="43.7" r="0.76"/><circle cx="424.8" cy="47.4" r="0.64"/><circle cx="438.3" cy="53.3" r="0.72"/><circle cx="425.2" cy="78.8" r="0.54"/><circle cx="457.2" cy="78.8" r="0.41"/><circle cx="439" cy="42.5" r="0.53"/><circle cx="449.4" cy="68.4" r="0.42"/><circle cx="458.1" cy="80.9" r="0.73"/><circle cx="440.5" cy="55.1" r="0.45"/><circle cx="439" cy="45.1" r="0.58"/><circle cx="420.5" cy="68.5" r="0.46"/><circle cx="410.4" cy="74.6" r="0.61"/><circle cx="420.1" cy="74.9" r="0.75"/><circle cx="448.2" cy="45.8" r="0.78"/><circle cx="462.5" cy="70.6" r="0.48"/><circle cx="441.6" cy="59.1" r="0.42"/><circle cx="444.6" cy="90.8" r="0.44"/><circle cx="449.6" cy="57.4" r="0.46"/><circle cx="438.8" cy="54.4" r="0.47"/><circle cx="414.5" cy="71.2" r="0.67"/><circle cx="438.9" cy="88.2" r="0.41"/><circle cx="439.7" cy="92.7" r="0.46"/><circle cx="456.5" cy="61.2" r="0.51"/><circle cx="426.5" cy="82.5" r="0.56"/><circle cx="413.2" cy="56" r="0.6"/><circle cx="426.8" cy="82.5" r="0.55"/><circle cx="456.1" cy="54" r="0.72"/><circle cx="449.6" cy="62.1" r="0.49"/><circle cx="418.9" cy="71.1" r="0.4"/><circle cx="455.6" cy="61.4" r="0.4"/><circle cx="413.8" cy="82.3" r="0.46"/><circle cx="453.4" cy="80" r="0.5"/><circle cx="428.7" cy="90.9" r="0.68"/><circle cx="436.3" cy="51.8" r="0.67"/><circle cx="415" cy="73.3" r="0.45"/><circle cx="424.8" cy="67.3" r="0.51"/><circle cx="455" cy="84.4" r="0.39"/><circle cx="419.2" cy="62.9" r="0.68"/><circle cx="435.1" cy="90.4" r="0.39"/><circle cx="453" cy="83.2" r="0.7"/><circle cx="454.3" cy="55.4" r="0.55"/><circle cx="423.3" cy="52.9" r="0.4"/><circle cx="415.1" cy="54.2" r="0.66"/><circle cx="434.1" cy="77.4" r="0.42"/><circle cx="423.1" cy="79.7" r="0.77"/><circle cx="417.6" cy="60.4" r="0.54"/><circle cx="453.2" cy="76.1" r="0.66"/><circle cx="441.7" cy="87.4" r="0.69"/><circle cx="440.4" cy="64.2" r="0.59"/><circle cx="411" cy="68.1" r="0.41"/><circle cx="440.2" cy="87.7" r="0.6"/><circle cx="434.3" cy="64" r="0.71"/><circle cx="423.4" cy="85.3" r="0.65"/><circle cx="454.3" cy="64.2" r="0.76"/><circle cx="442.5" cy="50" r="0.46"/><circle cx="423.2" cy="45.6" r="0.35"/><circle cx="419.6" cy="83.5" r="0.64"/><circle cx="429.5" cy="77.7" r="0.77"/><circle cx="414.5" cy="67" r="0.65"/><circle cx="443.6" cy="76.9" r="0.53"/><circle cx="418.4" cy="71.5" r="0.6"/><circle cx="433.6" cy="78" r="0.72"/><circle cx="419.7" cy="50.7" r="0.37"/><circle cx="455" cy="80.6" r="0.44"/><circle cx="451.7" cy="67" r="0.51"/><circle cx="449.9" cy="78" r="0.54"/><circle cx="422.5" cy="88.3" r="0.54"/><circle cx="442.3" cy="77.8" r="0.4"/><circle cx="450.6" cy="48" r="0.56"/><circle cx="419.3" cy="81.6" r="0.66"/><circle cx="427.2" cy="80.3" r="0.68"/><circle cx="453.8" cy="67.5" r="0.56"/><circle cx="435.6" cy="68.1" r="0.74"/><circle cx="423.1" cy="73" r="0.6"/><circle cx="461.4" cy="70.4" r="0.67"/><circle cx="433.3" cy="58.3" r="0.77"/><circle cx="458.2" cy="71.3" r="0.47"/><circle cx="452" cy="56.2" r="0.55"/><circle cx="435.7" cy="52.6" r="0.68"/><circle cx="416.5" cy="50.2" r="0.7"/><circle cx="444.8" cy="91.9" r="0.37"/><circle cx="418.4" cy="50.8" r="0.74"/><circle cx="454.1" cy="85.3" r="0.47"/><circle cx="412.3" cy="59.7" r="0.7"/><circle cx="461.6" cy="70.5" r="0.46"/><circle cx="437.4" cy="77.7" r="0.52"/><circle cx="441.2" cy="93.3" r="0.57"/><circle cx="454.4" cy="62.5" r="0.65"/><circle cx="452.2" cy="78.1" r="0.47"/><circle cx="448" cy="67.5" r="0.48"/><circle cx="449.5" cy="70.8" r="0.42"/><circle cx="414.1" cy="68.2" r="0.61"/><circle cx="444.5" cy="90" r="0.62"/><circle cx="457.6" cy="65.1" r="0.54"/><circle cx="438.2" cy="82.7" r="0.67"/><circle cx="428.7" cy="91.4" r="0.72"/><circle cx="416.9" cy="85.6" r="0.39"/><circle cx="435.4" cy="93.9" r="0.8"/><circle cx="417.3" cy="68.1" r="0.55"/><circle cx="429.9" cy="75.7" r="0.39"/><circle cx="451.3" cy="81.3" r="0.62"/><circle cx="454.5" cy="58.1" r="0.72"/><circle cx="442.1" cy="46.9" r="0.53"/><circle cx="418.1" cy="51.2" r="0.72"/><circle cx="423.8" cy="46" r="0.76"/><circle cx="440.7" cy="66" r="0.57"/><circle cx="438.2" cy="88.4" r="0.49"/><circle cx="422.3" cy="84.4" r="0.35"/><circle cx="445.5" cy="82.9" r="0.8"/><circle cx="434" cy="57.7" r="0.69"/><circle cx="433.3" cy="41.7" r="0.68"/><circle cx="453.6" cy="54.6" r="0.73"/><circle cx="456.1" cy="63.7" r="0.61"/><circle cx="431" cy="86.3" r="0.63"/><circle cx="428" cy="87.7" r="0.56"/><circle cx="449.2" cy="54.4" r="0.41"/><circle cx="426.3" cy="67.8" r="0.6"/><circle cx="429.4" cy="70.5" r="0.41"/><circle cx="438.1" cy="54.2" r="0.36"/><circle cx="421.4" cy="69.2" r="0.72"/><circle cx="411.8" cy="65.8" r="0.58"/><circle cx="412.1" cy="62" r="0.7"/><circle cx="449.8" cy="81.7" r="0.76"/><circle cx="422.7" cy="61.8" r="0.65"/><circle cx="422.6" cy="83.4" r="0.38"/><circle cx="453.2" cy="77.3" r="0.59"/><circle cx="453.7" cy="76.5" r="0.51"/><circle cx="433.3" cy="87.4" r="0.78"/><circle cx="450.9" cy="75.7" r="0.37"/><circle cx="427.5" cy="71.9" r="0.36"/><circle cx="453.5" cy="59.1" r="0.47"/><circle cx="413.2" cy="62.9" r="0.43"/><circle cx="455.3" cy="70.3" r="0.55"/><circle cx="444.3" cy="75.5" r="0.56"/><circle cx="443.2" cy="84.8" r="0.42"/><circle cx="452" cy="64.3" r="0.78"/><circle cx="452.8" cy="70.8" r="0.57"/><circle cx="437.4" cy="93.4" r="0.8"/><circle cx="433.6" cy="87" r="0.38"/><circle cx="419.9" cy="64.7" r="0.48"/><circle cx="432.8" cy="50" r="0.57"/><circle cx="444.6" cy="73.5" r="0.74"/><circle cx="425.3" cy="76.5" r="0.66"/><circle cx="409.7" cy="64.8" r="0.69"/><circle cx="442.9" cy="47.1" r="0.56"/><circle cx="421.6" cy="64.3" r="0.63"/><circle cx="425" cy="61.1" r="0.56"/><circle cx="417.6" cy="69.6" r="0.51"/><circle cx="454.1" cy="66.5" r="0.49"/><circle cx="456.1" cy="68.6" r="0.48"/><circle cx="411.3" cy="67.5" r="0.66"/><circle cx="426.7" cy="44.2" r="0.78"/><circle cx="442.9" cy="92.3" r="0.63"/><circle cx="432" cy="63.4" r="0.76"/><circle cx="453.8" cy="52.6" r="0.61"/><circle cx="438.4" cy="92.1" r="0.48"/><circle cx="443.1" cy="75.8" r="0.7"/><circle cx="437.6" cy="57.1" r="0.47"/><circle cx="460.6" cy="63.1" r="0.37"/><circle cx="424.9" cy="49.7" r="0.56"/><circle cx="429.7" cy="68.1" r="0.67"/><circle cx="447.3" cy="85.5" r="0.59"/><circle cx="438.9" cy="73.9" r="0.5"/><circle cx="422.1" cy="82.6" r="0.47"/><circle cx="457" cy="83.5" r="0.42"/><circle cx="426" cy="89.7" r="0.74"/><circle cx="410.9" cy="67.5" r="0.64"/><circle cx="435.8" cy="49.8" r="0.79"/><circle cx="420.8" cy="84.4" r="0.76"/><circle cx="436.1" cy="64.5" r="0.78"/><circle cx="426.1" cy="56.7" r="0.4"/><circle cx="453.6" cy="61.6" r="0.39"/><circle cx="443.9" cy="79.7" r="0.42"/><circle cx="450.5" cy="64.1" r="0.62"/><circle cx="443.1" cy="48.8" r="0.65"/><circle cx="421.9" cy="90.3" r="0.59"/><circle cx="426.5" cy="91.9" r="0.76"/><circle cx="418.4" cy="73.4" r="0.53"/><circle cx="429" cy="77.5" r="0.67"/><circle cx="412.8" cy="58.6" r="0.38"/><circle cx="423.3" cy="50.5" r="0.63"/><circle cx="450.8" cy="74" r="0.59"/><circle cx="443.2" cy="54.1" r="0.74"/><circle cx="436.8" cy="58.8" r="0.55"/><circle cx="417.3" cy="73.1" r="0.74"/><circle cx="446" cy="64.3" r="0.76"/><circle cx="455.2" cy="65.1" r="0.71"/><circle cx="413.4" cy="63.2" r="0.67"/><circle cx="441.4" cy="47.3" r="0.46"/><circle cx="434" cy="87.1" r="0.35"/><circle cx="417.7" cy="53.6" r="0.46"/><circle cx="432.5" cy="43.8" r="0.69"/><circle cx="428.7" cy="88.5" r="0.65"/><circle cx="420.5" cy="64.8" r="0.72"/><circle cx="449.5" cy="52.6" r="0.72"/><circle cx="420.6" cy="80.5" r="0.47"/><circle cx="453.1" cy="78.2" r="0.72"/><circle cx="449.8" cy="75.2" r="0.41"/><circle cx="427.2" cy="83.5" r="0.63"/><circle cx="439.6" cy="85.2" r="0.56"/><circle cx="415.5" cy="66.4" r="0.52"/><circle cx="457.1" cy="65.9" r="0.51"/><circle cx="414.8" cy="77.8" r="0.67"/><circle cx="441.9" cy="50.5" r="0.8"/><circle cx="435.3" cy="44.8" r="0.37"/></g>
<g fill="#7226c8" filter="url(#bl)"><circle cx="460.7" cy="59.8" r="0.4" fill-opacity="0.6"/><circle cx="433.8" cy="43.6" r="0.86" fill-opacity="0.7"/><circle cx="418.9" cy="54.6" r="0.73" fill-opacity="0.6"/><circle cx="420.9" cy="79.9" r="0.94" fill-opacity="1"/><circle cx="411" cy="61" r="0.59" fill-opacity="0.7"/><circle cx="443.3" cy="69.4" r="0.6" fill-opacity="0.7"/><circle cx="450.2" cy="56.7" r="0.67" fill-opacity="0.8"/><circle cx="451.1" cy="70.4" r="0.49" fill-opacity="0.6"/><circle cx="456.5" cy="67.9" r="0.86" fill-opacity="0.6"/><circle cx="443.4" cy="43.9" r="0.96" fill-opacity="1"/><circle cx="441.9" cy="45.1" r="0.51" fill-opacity="1"/><circle cx="449.9" cy="90.1" r="0.99" fill-opacity="0.9"/><circle cx="416.6" cy="64.4" r="0.63" fill-opacity="1"/><circle cx="446" cy="50.5" r="0.51" fill-opacity="0.9"/><circle cx="411.3" cy="74.2" r="0.72" fill-opacity="1"/><circle cx="412.6" cy="70.1" r="0.44" fill-opacity="0.7"/><circle cx="447.6" cy="88" r="1.29" fill-opacity="0.7"/><circle cx="426.6" cy="91.8" r="1.4" fill-opacity="0.9"/><circle cx="415.7" cy="65.8" r="0.83" fill-opacity="0.8"/><circle cx="440.4" cy="84.4" r="0.65" fill-opacity="1"/><circle cx="455.7" cy="78.1" r="1.11" fill-opacity="0.9"/><circle cx="445.2" cy="91.8" r="0.98" fill-opacity="0.6"/><circle cx="432.7" cy="90.2" r="0.44" fill-opacity="0.9"/><circle cx="424.9" cy="66.5" r="1.18" fill-opacity="0.7"/><circle cx="446.7" cy="58.2" r="0.57" fill-opacity="0.9"/><circle cx="431.4" cy="73.4" r="0.42" fill-opacity="0.9"/><circle cx="445.8" cy="65.3" r="0.4" fill-opacity="0.9"/><circle cx="435.8" cy="74.1" r="1.1" fill-opacity="0.6"/><circle cx="431" cy="55.3" r="0.54" fill-opacity="0.6"/><circle cx="451.4" cy="89.5" r="0.4" fill-opacity="0.7"/><circle cx="435" cy="46.3" r="0.41" fill-opacity="0.7"/><circle cx="429.4" cy="70.3" r="1.01" fill-opacity="0.9"/><circle cx="436.9" cy="42.8" r="1.19" fill-opacity="0.9"/><circle cx="439" cy="87.6" r="0.84" fill-opacity="0.7"/><circle cx="425.6" cy="71.6" r="1.22" fill-opacity="0.6"/><circle cx="419.1" cy="81.5" r="0.66" fill-opacity="0.6"/><circle cx="434.5" cy="94" r="0.77" fill-opacity="0.7"/><circle cx="430.7" cy="66.1" r="0.41" fill-opacity="0.6"/><circle cx="439.8" cy="74.2" r="0.41" fill-opacity="0.8"/><circle cx="456.4" cy="66" r="1.35" fill-opacity="1"/><circle cx="421.8" cy="73.2" r="0.45" fill-opacity="0.8"/><circle cx="442.9" cy="47.2" r="0.92" fill-opacity="0.7"/><circle cx="417.2" cy="65" r="0.4" fill-opacity="0.6"/><circle cx="450.4" cy="80.1" r="0.94" fill-opacity="0.7"/><circle cx="440.5" cy="78" r="0.44" fill-opacity="0.6"/><circle cx="415.9" cy="72.6" r="0.48" fill-opacity="0.8"/><circle cx="448.2" cy="60.1" r="1.41" fill-opacity="0.9"/><circle cx="416.8" cy="66.7" r="0.73" fill-opacity="0.6"/><circle cx="417.3" cy="65.1" r="0.43" fill-opacity="0.6"/><circle cx="419.7" cy="86.2" r="0.66" fill-opacity="1"/><circle cx="430.6" cy="89.2" r="1.46" fill-opacity="0.7"/><circle cx="433.7" cy="62.8" r="0.41" fill-opacity="0.7"/><circle cx="424.4" cy="46.3" r="0.4" fill-opacity="0.8"/><circle cx="417.2" cy="69.8" r="0.43" fill-opacity="0.8"/><circle cx="433.9" cy="77.6" r="0.53" fill-opacity="1"/><circle cx="436.3" cy="58.3" r="0.43" fill-opacity="0.8"/><circle cx="418" cy="72.3" r="0.99" fill-opacity="0.7"/><circle cx="444.5" cy="76.2" r="0.4" fill-opacity="0.9"/><circle cx="457.7" cy="62.5" r="0.89" fill-opacity="0.6"/><circle cx="439.8" cy="46" r="0.94" fill-opacity="0.8"/><circle cx="418.8" cy="72.8" r="1.07" fill-opacity="0.7"/><circle cx="415.5" cy="71" r="1.39" fill-opacity="0.9"/><circle cx="449.3" cy="46.1" r="0.48" fill-opacity="0.7"/><circle cx="434.8" cy="88.1" r="0.57" fill-opacity="0.9"/><circle cx="414" cy="55" r="1.11" fill-opacity="0.6"/><circle cx="453.8" cy="67.8" r="0.42" fill-opacity="0.7"/><circle cx="444" cy="72.9" r="1.26" fill-opacity="1"/><circle cx="451.5" cy="84.2" r="0.48" fill-opacity="0.7"/><circle cx="426.4" cy="47.6" r="0.58" fill-opacity="0.8"/><circle cx="424.9" cy="65.2" r="1.38" fill-opacity="0.9"/><circle cx="425.3" cy="67" r="0.93" fill-opacity="0.7"/><circle cx="411.3" cy="74.2" r="0.91" fill-opacity="0.7"/><circle cx="441.4" cy="42.3" r="0.72" fill-opacity="0.6"/><circle cx="455.1" cy="71.6" r="0.75" fill-opacity="0.9"/><circle cx="422.3" cy="67.2" r="0.62" fill-opacity="0.7"/><circle cx="457.5" cy="59.1" r="0.91" fill-opacity="0.8"/><circle cx="423.3" cy="90.8" r="0.98" fill-opacity="0.8"/><circle cx="450.3" cy="49.1" r="0.44" fill-opacity="0.8"/><circle cx="426.7" cy="52" r="1.45" fill-opacity="0.8"/><circle cx="431.3" cy="69.1" r="0.92" fill-opacity="0.9"/><circle cx="445.1" cy="47.7" r="0.4" fill-opacity="1"/><circle cx="417.5" cy="53.6" r="1.28" fill-opacity="0.9"/><circle cx="440.4" cy="58.1" r="1.01" fill-opacity="0.6"/><circle cx="415.7" cy="56" r="0.43" fill-opacity="0.9"/><circle cx="426.6" cy="60.1" r="0.58" fill-opacity="0.7"/><circle cx="415.1" cy="72.4" r="0.43" fill-opacity="1"/><circle cx="445.7" cy="68.3" r="0.62" fill-opacity="0.9"/><circle cx="436.7" cy="45.7" r="0.62" fill-opacity="0.9"/><circle cx="434.1" cy="85.3" r="0.64" fill-opacity="0.6"/><circle cx="436.2" cy="58.1" r="0.42" fill-opacity="0.9"/><circle cx="416" cy="81.7" r="0.86" fill-opacity="0.9"/><circle cx="452.6" cy="86.8" r="0.42" fill-opacity="0.7"/><circle cx="430.5" cy="87" r="0.4" fill-opacity="0.8"/><circle cx="418.5" cy="87.5" r="0.68" fill-opacity="0.7"/><circle cx="449.3" cy="54.1" r="0.48" fill-opacity="0.8"/><circle cx="416.5" cy="63.3" r="1.3" fill-opacity="0.6"/><circle cx="427.8" cy="91.2" r="0.82" fill-opacity="0.9"/><circle cx="418.4" cy="82" r="1.15" fill-opacity="0.6"/><circle cx="418.7" cy="82.1" r="0.67" fill-opacity="0.9"/><circle cx="419.2" cy="50.6" r="0.48" fill-opacity="0.7"/><circle cx="438.2" cy="87.5" r="0.47" fill-opacity="1"/><circle cx="440.8" cy="57.8" r="0.53" fill-opacity="0.7"/><circle cx="451.1" cy="76" r="0.6" fill-opacity="0.6"/><circle cx="430.9" cy="86.7" r="1.26" fill-opacity="1"/><circle cx="423.6" cy="53.3" r="1.34" fill-opacity="0.7"/><circle cx="436.8" cy="78.9" r="0.43" fill-opacity="0.9"/><circle cx="424.8" cy="82.3" r="1.06" fill-opacity="0.7"/><circle cx="419.6" cy="50.1" r="0.55" fill-opacity="0.9"/><circle cx="448.7" cy="56" r="1.33" fill-opacity="0.8"/><circle cx="457.8" cy="60.9" r="0.97" fill-opacity="0.9"/><circle cx="459.1" cy="58.3" r="0.99" fill-opacity="1"/><circle cx="424.1" cy="56.7" r="0.86" fill-opacity="0.7"/><circle cx="444.5" cy="84.5" r="1.4" fill-opacity="0.7"/><circle cx="451.7" cy="55.8" r="0.43" fill-opacity="1"/><circle cx="447.8" cy="70.2" r="0.51" fill-opacity="0.7"/><circle cx="455.1" cy="51" r="1" fill-opacity="0.7"/><circle cx="437.7" cy="88.9" r="1.14" fill-opacity="0.7"/><circle cx="425.4" cy="55.7" r="0.42" fill-opacity="0.7"/><circle cx="457.3" cy="82.5" r="0.42" fill-opacity="0.6"/><circle cx="422.3" cy="75.5" r="0.45" fill-opacity="0.7"/><circle cx="437" cy="83.5" r="0.77" fill-opacity="0.7"/><circle cx="438" cy="50.2" r="0.4" fill-opacity="0.6"/><circle cx="413.4" cy="78.7" r="1.03" fill-opacity="0.6"/><circle cx="447.7" cy="51.1" r="0.5" fill-opacity="0.9"/><circle cx="418.7" cy="81.5" r="1.49" fill-opacity="0.7"/><circle cx="421.4" cy="54.6" r="0.49" fill-opacity="0.9"/><circle cx="417.5" cy="56.7" r="0.68" fill-opacity="1"/><circle cx="450.3" cy="46" r="0.59" fill-opacity="0.7"/><circle cx="455.9" cy="74" r="0.41" fill-opacity="1"/><circle cx="447.1" cy="63.5" r="0.87" fill-opacity="1"/><circle cx="432.6" cy="77.4" r="1.07" fill-opacity="0.6"/><circle cx="429.4" cy="77.1" r="0.42" fill-opacity="0.6"/><circle cx="455.1" cy="80.4" r="1.43" fill-opacity="0.8"/><circle cx="442.7" cy="63.2" r="0.45" fill-opacity="0.8"/><circle cx="449.7" cy="84.2" r="0.64" fill-opacity="0.6"/><circle cx="448.5" cy="61.2" r="1.11" fill-opacity="0.8"/><circle cx="452.3" cy="52.1" r="0.41" fill-opacity="0.8"/><circle cx="445.1" cy="76.2" r="0.41" fill-opacity="0.6"/><circle cx="437.9" cy="76.4" r="0.53" fill-opacity="0.8"/><circle cx="456.6" cy="54" r="0.93" fill-opacity="0.8"/><circle cx="449.3" cy="89.9" r="0.41" fill-opacity="0.9"/><circle cx="441.5" cy="89.5" r="0.53" fill-opacity="0.7"/><circle cx="418.7" cy="76.5" r="0.55" fill-opacity="0.9"/><circle cx="413.4" cy="58.8" r="0.61" fill-opacity="0.7"/><circle cx="459.9" cy="66.1" r="0.44" fill-opacity="0.9"/><circle cx="423.4" cy="48.8" r="0.4" fill-opacity="0.8"/><circle cx="440.9" cy="81.5" r="0.73" fill-opacity="0.8"/><circle cx="434.9" cy="46.1" r="0.91" fill-opacity="0.8"/><circle cx="437.1" cy="60" r="1.12" fill-opacity="0.9"/><circle cx="457.2" cy="73.2" r="0.43" fill-opacity="0.6"/><circle cx="414.6" cy="62" r="0.43" fill-opacity="1"/><circle cx="457.2" cy="52.6" r="0.6" fill-opacity="0.7"/><circle cx="442.5" cy="55.2" r="0.9" fill-opacity="0.7"/><circle cx="412.8" cy="57.5" r="0.56" fill-opacity="0.7"/><circle cx="413.5" cy="74.5" r="0.84" fill-opacity="0.6"/><circle cx="432.8" cy="90.9" r="1.29" fill-opacity="0.6"/><circle cx="419.1" cy="64" r="0.54" fill-opacity="0.8"/><circle cx="443.8" cy="92.5" r="1.02" fill-opacity="0.9"/><circle cx="413.1" cy="75.9" r="0.59" fill-opacity="0.7"/><circle cx="435.4" cy="87.9" r="0.43" fill-opacity="0.8"/><circle cx="422.2" cy="70.8" r="0.72" fill-opacity="0.7"/><circle cx="425.4" cy="59.9" r="1.19" fill-opacity="0.7"/><circle cx="424" cy="49.7" r="1.24" fill-opacity="0.9"/><circle cx="440.5" cy="84.3" r="1.14" fill-opacity="0.7"/><circle cx="439.4" cy="64.5" r="0.43" fill-opacity="0.7"/><circle cx="435.4" cy="85.1" r="0.94" fill-opacity="0.7"/><circle cx="419.1" cy="77.4" r="1.14" fill-opacity="0.6"/><circle cx="450.6" cy="83.9" r="0.42" fill-opacity="0.8"/><circle cx="452.7" cy="75.3" r="0.74" fill-opacity="1"/><circle cx="413.6" cy="68.7" r="1.07" fill-opacity="1"/><circle cx="432.1" cy="80.2" r="1.42" fill-opacity="1"/><circle cx="431.9" cy="54.4" r="1.22" fill-opacity="0.8"/><circle cx="413.1" cy="64.6" r="0.45" fill-opacity="0.6"/><circle cx="431.4" cy="60.3" r="0.41" fill-opacity="0.8"/><circle cx="419" cy="75.3" r="1.43" fill-opacity="0.7"/><circle cx="421.5" cy="81.7" r="0.44" fill-opacity="0.7"/><circle cx="444.6" cy="49.2" r="0.41" fill-opacity="1"/><circle cx="457.5" cy="75.6" r="0.91" fill-opacity="0.7"/><circle cx="452.6" cy="80.2" r="0.65" fill-opacity="0.8"/><circle cx="414.9" cy="56.4" r="0.91" fill-opacity="0.9"/><circle cx="450.7" cy="70.4" r="0.62" fill-opacity="0.6"/><circle cx="430.5" cy="79.3" r="0.68" fill-opacity="0.8"/><circle cx="457" cy="60.2" r="0.41" fill-opacity="0.8"/><circle cx="431" cy="59.1" r="0.58" fill-opacity="0.6"/><circle cx="427" cy="53.9" r="0.61" fill-opacity="1"/><circle cx="426.4" cy="83" r="1.32" fill-opacity="0.8"/><circle cx="438.4" cy="57.2" r="0.52" fill-opacity="1"/><circle cx="443.5" cy="47.3" r="1.26" fill-opacity="0.8"/><circle cx="461.9" cy="72.3" r="0.5" fill-opacity="0.9"/><circle cx="434" cy="64.4" r="1.5" fill-opacity="0.9"/><circle cx="458.2" cy="79.6" r="0.68" fill-opacity="0.8"/><circle cx="419.1" cy="77.4" r="1.06" fill-opacity="0.6"/><circle cx="429.3" cy="63.7" r="1.42" fill-opacity="0.9"/><circle cx="429.7" cy="89.9" r="1.28" fill-opacity="0.6"/><circle cx="439.7" cy="53.1" r="1.26" fill-opacity="0.7"/><circle cx="455.6" cy="84.4" r="0.75" fill-opacity="0.6"/><circle cx="441.6" cy="82.1" r="0.4" fill-opacity="0.7"/><circle cx="432.1" cy="87.9" r="0.83" fill-opacity="0.6"/><circle cx="415.7" cy="64.6" r="0.55" fill-opacity="1"/><circle cx="425.3" cy="73.4" r="0.6" fill-opacity="0.7"/><circle cx="412.4" cy="56.7" r="0.66" fill-opacity="0.7"/><circle cx="454.4" cy="62.3" r="1.07" fill-opacity="0.8"/><circle cx="425.1" cy="60.8" r="0.41" fill-opacity="0.7"/><circle cx="434.3" cy="62.2" r="1.45" fill-opacity="0.8"/><circle cx="435.9" cy="89.3" r="0.58" fill-opacity="0.8"/><circle cx="433.7" cy="86.9" r="0.44" fill-opacity="0.9"/><circle cx="447.3" cy="44.8" r="0.79" fill-opacity="0.6"/><circle cx="445" cy="54" r="1.44" fill-opacity="0.8"/><circle cx="427.7" cy="48.5" r="0.45" fill-opacity="0.9"/><circle cx="446.3" cy="53.4" r="0.6" fill-opacity="0.8"/><circle cx="415.3" cy="63.6" r="0.6" fill-opacity="1"/><circle cx="415.1" cy="79.5" r="0.65" fill-opacity="1"/><circle cx="422.4" cy="48.8" r="1.4" fill-opacity="0.6"/><circle cx="420.5" cy="52.9" r="0.59" fill-opacity="1"/><circle cx="415.7" cy="84.6" r="0.78" fill-opacity="0.9"/><circle cx="421" cy="85.5" r="1.07" fill-opacity="0.7"/><circle cx="429.5" cy="57.3" r="0.83" fill-opacity="0.7"/><circle cx="456.3" cy="66.6" r="1.09" fill-opacity="0.7"/><circle cx="412.8" cy="57.2" r="0.55" fill-opacity="0.8"/><circle cx="455.2" cy="53.5" r="0.86" fill-opacity="0.9"/><circle cx="454.1" cy="72.7" r="0.59" fill-opacity="0.6"/><circle cx="419.2" cy="87.7" r="0.76" fill-opacity="0.9"/><circle cx="442.9" cy="56.3" r="0.49" fill-opacity="0.6"/><circle cx="418.2" cy="80.6" r="1.31" fill-opacity="0.8"/><circle cx="446.6" cy="69.3" r="0.4" fill-opacity="0.8"/><circle cx="458.1" cy="75.4" r="0.5" fill-opacity="0.8"/><circle cx="461" cy="63.5" r="1.22" fill-opacity="0.8"/><circle cx="439.6" cy="89.1" r="0.77" fill-opacity="0.6"/><circle cx="444.1" cy="53.5" r="0.72" fill-opacity="0.9"/><circle cx="432.4" cy="87.4" r="0.64" fill-opacity="0.8"/><circle cx="444.7" cy="55.5" r="1.45" fill-opacity="0.6"/><circle cx="441.8" cy="53.9" r="0.94" fill-opacity="0.7"/><circle cx="437.6" cy="89.5" r="1.2" fill-opacity="0.8"/><circle cx="446.8" cy="85.4" r="0.55" fill-opacity="0.8"/><circle cx="443.7" cy="84.2" r="0.43" fill-opacity="0.9"/><circle cx="450.3" cy="46.8" r="0.78" fill-opacity="0.9"/><circle cx="439" cy="79.9" r="0.91" fill-opacity="0.6"/><circle cx="437.8" cy="58.1" r="0.43" fill-opacity="0.6"/><circle cx="445.6" cy="52.3" r="0.4" fill-opacity="0.9"/><circle cx="420.8" cy="60.9" r="0.61" fill-opacity="0.6"/><circle cx="447.7" cy="91.3" r="1.08" fill-opacity="0.9"/><circle cx="455" cy="63.3" r="0.4" fill-opacity="0.6"/><circle cx="453.9" cy="77.1" r="1.09" fill-opacity="0.8"/><circle cx="430.5" cy="91.7" r="0.4" fill-opacity="1"/><circle cx="423.4" cy="75.3" r="0.41" fill-opacity="0.8"/><circle cx="442.3" cy="86.7" r="0.4" fill-opacity="0.7"/><circle cx="449.7" cy="87.9" r="0.44" fill-opacity="0.8"/><circle cx="443.5" cy="47.2" r="0.82" fill-opacity="0.9"/><circle cx="447.4" cy="62" r="0.4" fill-opacity="0.6"/><circle cx="437.7" cy="57.2" r="0.64" fill-opacity="1"/><circle cx="461.1" cy="60.4" r="0.78" fill-opacity="0.7"/><circle cx="433.1" cy="42.3" r="0.43" fill-opacity="0.8"/><circle cx="441.9" cy="68.7" r="0.81" fill-opacity="0.9"/><circle cx="436.5" cy="43.2" r="0.41" fill-opacity="0.9"/><circle cx="424.3" cy="44.6" r="0.62" fill-opacity="0.7"/><circle cx="429.5" cy="61.6" r="1.41" fill-opacity="0.6"/><circle cx="455.7" cy="53.5" r="0.51" fill-opacity="0.9"/><circle cx="431.9" cy="80.3" r="0.72" fill-opacity="0.9"/><circle cx="453.7" cy="79.1" r="1.34" fill-opacity="0.8"/><circle cx="439.1" cy="91.9" r="0.5" fill-opacity="0.6"/><circle cx="423.2" cy="73.4" r="0.56" fill-opacity="0.8"/><circle cx="423.5" cy="89.3" r="1.33" fill-opacity="0.8"/><circle cx="443" cy="84.2" r="1.4" fill-opacity="0.8"/><circle cx="432.8" cy="60.9" r="0.53" fill-opacity="0.7"/><circle cx="440" cy="91.6" r="0.46" fill-opacity="0.8"/><circle cx="457.9" cy="81.2" r="1.14" fill-opacity="0.9"/><circle cx="428.8" cy="56.6" r="0.79" fill-opacity="0.9"/><circle cx="427.9" cy="87.2" r="0.64" fill-opacity="0.7"/><circle cx="419.7" cy="78.9" r="0.41" fill-opacity="0.7"/><circle cx="422.2" cy="78.9" r="0.71" fill-opacity="0.9"/><circle cx="421.1" cy="62.8" r="0.5" fill-opacity="0.7"/><circle cx="448.1" cy="65" r="1.34" fill-opacity="0.9"/><circle cx="443.9" cy="79" r="0.41" fill-opacity="0.7"/><circle cx="455.1" cy="69" r="0.56" fill-opacity="0.9"/><circle cx="445.1" cy="91" r="0.4" fill-opacity="0.9"/><circle cx="428.9" cy="84.8" r="0.42" fill-opacity="0.7"/><circle cx="435.3" cy="83.9" r="0.44" fill-opacity="0.8"/><circle cx="427.1" cy="90.8" r="0.56" fill-opacity="0.8"/><circle cx="438.6" cy="43.6" r="1.46" fill-opacity="0.6"/><circle cx="429.2" cy="91.4" r="0.73" fill-opacity="0.8"/><circle cx="426.6" cy="87.3" r="0.4" fill-opacity="0.6"/><circle cx="455.5" cy="51.3" r="0.6" fill-opacity="0.6"/><circle cx="411.2" cy="67.8" r="0.61" fill-opacity="0.8"/><circle cx="438.6" cy="80.8" r="1.1" fill-opacity="0.9"/><circle cx="411.9" cy="78.8" r="1.43" fill-opacity="1"/><circle cx="451.9" cy="55.4" r="0.42" fill-opacity="0.6"/><circle cx="451.5" cy="87" r="0.66" fill-opacity="0.9"/><circle cx="440.3" cy="90.4" r="1.05" fill-opacity="0.6"/><circle cx="453" cy="55.4" r="0.69" fill-opacity="0.7"/><circle cx="432.2" cy="42" r="1.06" fill-opacity="1"/><circle cx="412.9" cy="56.6" r="1.12" fill-opacity="0.8"/><circle cx="433.2" cy="83.4" r="0.46" fill-opacity="0.6"/><circle cx="418.1" cy="81" r="1.29" fill-opacity="0.6"/><circle cx="444.2" cy="90.7" r="0.49" fill-opacity="0.7"/><circle cx="420.1" cy="47.5" r="0.61" fill-opacity="0.6"/><circle cx="430.5" cy="74.2" r="1.44" fill-opacity="0.7"/><circle cx="452.7" cy="52.6" r="0.4" fill-opacity="0.7"/><circle cx="438.8" cy="86.7" r="0.53" fill-opacity="0.9"/><circle cx="431.8" cy="56.6" r="0.48" fill-opacity="0.8"/><circle cx="439.3" cy="55.1" r="0.56" fill-opacity="0.9"/><circle cx="413.1" cy="55.4" r="0.4" fill-opacity="0.7"/><circle cx="420.8" cy="46.8" r="1" fill-opacity="0.8"/><circle cx="457.6" cy="53.9" r="0.77" fill-opacity="0.8"/><circle cx="447.1" cy="68.6" r="0.43" fill-opacity="0.9"/><circle cx="439.1" cy="43.6" r="1.24" fill-opacity="0.6"/><circle cx="435.8" cy="74.8" r="0.4" fill-opacity="0.8"/><circle cx="456.8" cy="52.9" r="0.41" fill-opacity="0.8"/><circle cx="423.5" cy="49.2" r="0.56" fill-opacity="0.7"/><circle cx="456.8" cy="53.8" r="0.93" fill-opacity="0.8"/><circle cx="434.8" cy="75.1" r="0.45" fill-opacity="0.7"/><circle cx="428.7" cy="55.4" r="0.87" fill-opacity="0.6"/><circle cx="461.5" cy="68.2" r="1.4" fill-opacity="0.8"/><circle cx="431.6" cy="89.9" r="0.89" fill-opacity="0.9"/><circle cx="445.8" cy="78.7" r="1.05" fill-opacity="0.7"/><circle cx="424.8" cy="68.7" r="0.43" fill-opacity="0.6"/><circle cx="450.1" cy="76.3" r="1.11" fill-opacity="0.8"/><circle cx="430.1" cy="89.7" r="1.03" fill-opacity="1"/><circle cx="461.6" cy="75.1" r="0.48" fill-opacity="0.6"/><circle cx="425.1" cy="51.6" r="0.77" fill-opacity="0.7"/><circle cx="417.3" cy="49.9" r="1.49" fill-opacity="0.7"/><circle cx="454.2" cy="81.1" r="0.68" fill-opacity="0.8"/><circle cx="425.2" cy="57.5" r="0.41" fill-opacity="0.8"/><circle cx="414.3" cy="70.9" r="0.42" fill-opacity="0.6"/><circle cx="425.5" cy="53.3" r="0.57" fill-opacity="0.6"/><circle cx="429.7" cy="84.3" r="0.41" fill-opacity="0.8"/><circle cx="426.9" cy="85.7" r="0.4" fill-opacity="1"/><circle cx="442.1" cy="73.4" r="0.47" fill-opacity="0.9"/><circle cx="437.5" cy="42.4" r="0.43" fill-opacity="0.9"/><circle cx="441.4" cy="72.7" r="0.41" fill-opacity="0.8"/><circle cx="420.8" cy="52.7" r="1.38" fill-opacity="0.9"/><circle cx="447" cy="88.9" r="1.29" fill-opacity="1"/><circle cx="457.6" cy="80" r="0.92" fill-opacity="0.8"/><circle cx="433.7" cy="88.7" r="1.02" fill-opacity="0.9"/><circle cx="428.3" cy="90.7" r="0.96" fill-opacity="0.6"/><circle cx="458.5" cy="72.4" r="0.4" fill-opacity="0.6"/><circle cx="458.4" cy="65.8" r="0.61" fill-opacity="0.8"/><circle cx="447.7" cy="50.1" r="1.43" fill-opacity="0.9"/><circle cx="451.6" cy="75.6" r="1.26" fill-opacity="0.7"/><circle cx="451.8" cy="50.3" r="0.42" fill-opacity="0.6"/><circle cx="446.6" cy="52.4" r="1.17" fill-opacity="1"/><circle cx="424.5" cy="56.9" r="1.22" fill-opacity="0.7"/><circle cx="439.4" cy="89.3" r="1.18" fill-opacity="0.7"/><circle cx="424.8" cy="51.5" r="0.49" fill-opacity="0.9"/><circle cx="418.2" cy="76.5" r="0.94" fill-opacity="0.9"/><circle cx="452.4" cy="51.8" r="1.09" fill-opacity="0.7"/><circle cx="450.7" cy="51.3" r="0.4" fill-opacity="0.8"/><circle cx="419" cy="79.9" r="0.41" fill-opacity="0.7"/><circle cx="453.8" cy="52.4" r="1.47" fill-opacity="0.9"/><circle cx="447.6" cy="45.8" r="0.42" fill-opacity="0.9"/><circle cx="436.3" cy="43.1" r="0.47" fill-opacity="0.9"/><circle cx="419.2" cy="75.6" r="0.95" fill-opacity="0.9"/><circle cx="428.2" cy="58.6" r="0.4" fill-opacity="0.6"/><circle cx="457.1" cy="55.4" r="0.45" fill-opacity="0.9"/><circle cx="422.2" cy="68.3" r="0.51" fill-opacity="0.6"/><circle cx="417.8" cy="62" r="1.17" fill-opacity="0.6"/><circle cx="452.4" cy="68.5" r="0.43" fill-opacity="0.7"/><circle cx="458.8" cy="58.9" r="0.44" fill-opacity="0.8"/><circle cx="415.3" cy="69.3" r="1.4" fill-opacity="1"/><circle cx="429.6" cy="72.2" r="0.67" fill-opacity="0.8"/><circle cx="444.9" cy="49.4" r="0.41" fill-opacity="0.8"/><circle cx="447.8" cy="89.7" r="0.42" fill-opacity="0.8"/><circle cx="423.9" cy="64.6" r="0.41" fill-opacity="0.6"/><circle cx="439.6" cy="51.2" r="0.77" fill-opacity="0.8"/><circle cx="418.3" cy="81.4" r="1.44" fill-opacity="0.8"/><circle cx="456.3" cy="77.1" r="0.45" fill-opacity="0.8"/><circle cx="428.5" cy="43.3" r="0.4" fill-opacity="0.9"/><circle cx="423.9" cy="59.9" r="0.43" fill-opacity="0.6"/><circle cx="412.1" cy="70.2" r="0.76" fill-opacity="0.9"/><circle cx="417.2" cy="78.9" r="0.49" fill-opacity="0.8"/><circle cx="434.8" cy="83.4" r="1.09" fill-opacity="0.7"/><circle cx="426" cy="47.1" r="0.6" fill-opacity="0.9"/><circle cx="453.3" cy="68.5" r="1.17" fill-opacity="0.9"/><circle cx="456.7" cy="56.8" r="0.55" fill-opacity="0.7"/><circle cx="451.3" cy="52.4" r="0.47" fill-opacity="0.9"/><circle cx="435.3" cy="94" r="0.4" fill-opacity="0.6"/><circle cx="440.7" cy="89.9" r="1.38" fill-opacity="0.6"/><circle cx="420.5" cy="88.2" r="1.32" fill-opacity="0.7"/><circle cx="430.8" cy="58" r="0.48" fill-opacity="1"/><circle cx="435" cy="92.5" r="0.63" fill-opacity="0.8"/><circle cx="433.9" cy="91.9" r="0.71" fill-opacity="0.8"/><circle cx="415.7" cy="60.8" r="0.57" fill-opacity="0.7"/><circle cx="454.6" cy="67.4" r="0.66" fill-opacity="0.6"/><circle cx="437.9" cy="49.8" r="0.87" fill-opacity="0.6"/><circle cx="418" cy="73.7" r="1.16" fill-opacity="0.7"/><circle cx="446" cy="44.6" r="0.4" fill-opacity="0.8"/><circle cx="421.8" cy="52.9" r="1.25" fill-opacity="0.6"/><circle cx="460.7" cy="69.5" r="1.14" fill-opacity="0.7"/><circle cx="438.5" cy="62.1" r="1.43" fill-opacity="0.8"/><circle cx="416.8" cy="82.5" r="0.45" fill-opacity="0.8"/><circle cx="433.2" cy="92.2" r="0.53" fill-opacity="0.7"/><circle cx="446.6" cy="56.3" r="0.4" fill-opacity="0.6"/><circle cx="439" cy="54.7" r="0.72" fill-opacity="0.9"/><circle cx="453.6" cy="53.3" r="0.74" fill-opacity="0.6"/><circle cx="426.6" cy="73.9" r="0.41" fill-opacity="0.7"/><circle cx="452.1" cy="66.4" r="1.42" fill-opacity="0.9"/><circle cx="419.7" cy="77.9" r="0.4" fill-opacity="0.8"/><circle cx="423.7" cy="65.6" r="1.1" fill-opacity="0.7"/><circle cx="445.2" cy="46.9" r="1.3" fill-opacity="0.7"/><circle cx="447.7" cy="58.4" r="0.64" fill-opacity="0.7"/><circle cx="451" cy="50.9" r="1.46" fill-opacity="0.7"/></g>
<radialGradient id="g3"><stop offset="0" stop-color="#d2ccd8"/><stop offset="0.75" stop-color="#d2ccd8"/><stop offset="1" stop-color="#c6bcd0"/></radialGradient>
<ellipse cx="514.1" cy="67.8" rx="29.6" ry="29.6" fill="#d9d5de" stroke="#b4afba" stroke-width="0.8"/>
<ellipse cx="514.1" cy="67.8" rx="27.38" ry="27.38" fill="url(#g3)"/>
<ellipse cx="514.1" cy="67.8" rx="26.58" ry="26.58" fill="none" stroke="#7b48c4" stroke-opacity="0.2" stroke-width="1.6"/>
<g fill="#7226c8" fill-opacity="0.2"><circle cx="512.5" cy="47.5" r="0.72"/><circle cx="535" cy="55.1" r="0.55"/><circle cx="530.4" cy="83.3" r="0.75"/><circle cx="496.7" cy="70.5" r="0.75"/><circle cx="519.9" cy="82.4" r="0.72"/><circle cx="532.4" cy="78.6" r="0.36"/><circle cx="531.1" cy="68.6" r="0.72"/><circle cx="512.1" cy="80.7" r="0.52"/><circle cx="495.9" cy="76" r="0.63"/><circle cx="493.7" cy="76.5" r="0.39"/><circle cx="504.7" cy="43.4" r="0.39"/><circle cx="514.5" cy="49" r="0.8"/><circle cx="522.6" cy="68.3" r="0.57"/><circle cx="528.6" cy="56.5" r="0.72"/><circle cx="499.6" cy="75.9" r="0.61"/><circle cx="521.6" cy="91.7" r="0.53"/><circle cx="508" cy="60.4" r="0.36"/><circle cx="488.7" cy="64" r="0.61"/><circle cx="515.2" cy="77.2" r="0.56"/><circle cx="490.1" cy="61.8" r="0.48"/><circle cx="500.3" cy="45.6" r="0.59"/><circle cx="510" cy="80.7" r="0.75"/><circle cx="502.9" cy="65.6" r="0.63"/><circle cx="516.1" cy="50.8" r="0.76"/><circle cx="512.2" cy="43.1" r="0.44"/><circle cx="506.7" cy="71.1" r="0.49"/><circle cx="523.3" cy="58.2" r="0.45"/><circle cx="536.6" cy="58.5" r="0.4"/><circle cx="493.8" cy="83.1" r="0.45"/><circle cx="526.8" cy="70.9" r="0.57"/><circle cx="524.6" cy="53.6" r="0.72"/><circle cx="507.6" cy="72.4" r="0.53"/><circle cx="514" cy="80.6" r="0.47"/><circle cx="501.9" cy="86.9" r="0.4"/><circle cx="501" cy="72.8" r="0.6"/><circle cx="509.5" cy="53.8" r="0.45"/><circle cx="496.8" cy="53.6" r="0.43"/><circle cx="495.7" cy="82.2" r="0.59"/><circle cx="499.3" cy="52.5" r="0.55"/><circle cx="515.9" cy="60.1" r="0.74"/><circle cx="496.9" cy="58.5" r="0.47"/><circle cx="504.2" cy="44.6" r="0.45"/><circle cx="538.3" cy="65.7" r="0.51"/><circle cx="487.9" cy="70.6" r="0.43"/><circle cx="501.9" cy="87.3" r="0.68"/><circle cx="530.5" cy="81" r="0.59"/><circle cx="489.7" cy="71.2" r="0.59"/><circle cx="490.7" cy="76" r="0.57"/><circle cx="523.5" cy="49" r="0.44"/><circle cx="514.8" cy="58" r="0.6"/><circle cx="526.6" cy="57.7" r="0.75"/><circle cx="534.5" cy="66.3" r="0.73"/><circle cx="508.1" cy="90.4" r="0.35"/><circle cx="512" cy="45.5" r="0.51"/><circle cx="496.4" cy="59.8" r="0.46"/><circle cx="493.1" cy="59.1" r="0.52"/><circle cx="504.2" cy="64.3" r="0.49"/><circle cx="524.9" cy="88.2" r="0.53"/><circle cx="502.9" cy="75.1" r="0.61"/><circle cx="523.9" cy="71.3" r="0.57"/><circle cx="500.6" cy="67.4" r="0.43"/><circle cx="504.2" cy="65.4" r="0.77"/><circle cx="489.3" cy="65.4" r="0.53"/><circle cx="512.7" cy="76.2" r="0.49"/><circle cx="533.2" cy="85.1" r="0.78"/><circle cx="496.4" cy="75.6" r="0.47"/><circle cx="524.2" cy="91.7" r="0.61"/><circle cx="520.3" cy="86.7" r="0.45"/><circle cx="520.7" cy="42.4" r="0.68"/><circle cx="534.7" cy="82.5" r="0.67"/><circle cx="517.7" cy="90.9" r="0.56"/><circle cx="502" cy="90.9" r="0.69"/><circle cx="507.9" cy="57" r="0.47"/><circle cx="500.3" cy="82.1" r="0.74"/><circle cx="490.8" cy="67.2" r="0.66"/><circle cx="520.3" cy="50.3" r="0.47"/><circle cx="496.5" cy="57.3" r="0.52"/><circle cx="517.6" cy="74.2" r="0.64"/><circle cx="514.8" cy="54" r="0.58"/><circle cx="529" cy="46.7" r="0.68"/><circle cx="530.9" cy="72.5" r="0.6"/><circle cx="534.6" cy="56.7" r="0.44"/><circle cx="526.3" cy="66.3" r="0.68"/><circle cx="512.7" cy="48.3" r="0.42"/><circle cx="504.1" cy="49.9" r="0.62"/><circle cx="522.1" cy="77.1" r="0.63"/><circle cx="530.3" cy="86.9" r="0.35"/><circle cx="516.2" cy="58.7" r="0.53"/><circle cx="533.1" cy="67.1" r="0.63"/><circle cx="509.5" cy="53.4" r="0.35"/><circle cx="509.2" cy="53" r="0.43"/><circle cx="507.8" cy="67.1" r="0.5"/><circle cx="535" cy="83.3" r="0.71"/><circle cx="520.2" cy="51.1" r="0.55"/><circle cx="503.8" cy="87.6" r="0.45"/><circle cx="520" cy="49.8" r="0.51"/><circle cx="501.8" cy="75" r="0.39"/><circle cx="499.5" cy="60.6" r="0.6"/><circle cx="508.8" cy="88.4" r="0.36"/><circle cx="511" cy="72.7" r="0.44"/><circle cx="512.1" cy="88.6" r="0.69"/><circle cx="502.9" cy="49.6" r="0.68"/><circle cx="496.1" cy="76.8" r="0.49"/><circle cx="516.4" cy="59.8" r="0.58"/><circle cx="523.1" cy="63.3" r="0.61"/><circle cx="494" cy="75.9" r="0.41"/><circle cx="527.1" cy="90.8" r="0.51"/><circle cx="533.1" cy="86.1" r="0.57"/><circle cx="514.4" cy="87.2" r="0.77"/><circle cx="532.3" cy="69.1" r="0.56"/><circle cx="513.4" cy="65.1" r="0.74"/><circle cx="538.3" cy="75.3" r="0.65"/><circle cx="498.3" cy="70.6" r="0.49"/><circle cx="524.9" cy="79.7" r="0.63"/><circle cx="523.5" cy="65.7" r="0.37"/><circle cx="523.4" cy="92" r="0.39"/><circle cx="491.2" cy="63.3" r="0.7"/><circle cx="500.5" cy="53.2" r="0.39"/><circle cx="491.8" cy="66.1" r="0.78"/><circle cx="517" cy="69.1" r="0.65"/><circle cx="491.6" cy="79.9" r="0.67"/><circle cx="498.1" cy="80.9" r="0.56"/><circle cx="535.1" cy="71.7" r="0.49"/><circle cx="512.9" cy="91" r="0.56"/><circle cx="504.7" cy="79.5" r="0.64"/><circle cx="536.6" cy="61.6" r="0.56"/><circle cx="507.1" cy="79.4" r="0.38"/><circle cx="501.6" cy="60.4" r="0.62"/><circle cx="520.2" cy="81.1" r="0.39"/><circle cx="501.2" cy="67.7" r="0.46"/><circle cx="491.1" cy="57.9" r="0.5"/><circle cx="532.1" cy="72.4" r="0.68"/><circle cx="498.8" cy="85.5" r="0.68"/><circle cx="517" cy="82.9" r="0.45"/><circle cx="503.6" cy="59.5" r="0.64"/><circle cx="532.5" cy="81.8" r="0.69"/><circle cx="500.1" cy="81.2" r="0.58"/><circle cx="519.8" cy="85.5" r="0.53"/><circle cx="509.3" cy="46.3" r="0.76"/><circle cx="524.4" cy="59.4" r="0.71"/><circle cx="536.8" cy="64.9" r="0.41"/><circle cx="533.3" cy="53.8" r="0.4"/><circle cx="534.2" cy="60.9" r="0.48"/><circle cx="534.7" cy="54.1" r="0.55"/><circle cx="516.6" cy="79.3" r="0.72"/><circle cx="506.7" cy="84.7" r="0.55"/><circle cx="513.5" cy="93.4" r="0.36"/><circle cx="503.6" cy="91.4" r="0.52"/><circle cx="508.9" cy="93.4" r="0.39"/><circle cx="515.1" cy="92.9" r="0.45"/><circle cx="517.4" cy="93.3" r="0.76"/><circle cx="508.6" cy="83.6" r="0.45"/><circle cx="495.1" cy="60.3" r="0.53"/><circle cx="508.2" cy="86.8" r="0.73"/><circle cx="514.6" cy="42.2" r="0.72"/><circle cx="514.1" cy="76.5" r="0.44"/><circle cx="526" cy="65.4" r="0.76"/><circle cx="490.3" cy="58.8" r="0.4"/><circle cx="531.5" cy="74.2" r="0.76"/><circle cx="510.5" cy="82.5" r="0.78"/><circle cx="526" cy="61.5" r="0.49"/><circle cx="531.5" cy="81.6" r="0.75"/><circle cx="504" cy="82.7" r="0.64"/><circle cx="514" cy="89" r="0.41"/><circle cx="534.8" cy="71" r="0.74"/><circle cx="522.3" cy="82.6" r="0.5"/><circle cx="509.8" cy="77.5" r="0.59"/><circle cx="504.9" cy="83.5" r="0.48"/><circle cx="517.6" cy="48.6" r="0.55"/><circle cx="490.6" cy="70.4" r="0.4"/><circle cx="521.4" cy="57.5" r="0.57"/><circle cx="496.5" cy="66.1" r="0.73"/><circle cx="502.8" cy="81.2" r="0.51"/><circle cx="510.3" cy="66.7" r="0.57"/><circle cx="495.3" cy="73.7" r="0.56"/><circle cx="523.1" cy="88.9" r="0.79"/><circle cx="521.2" cy="59.8" r="0.43"/><circle cx="512.5" cy="91.7" r="0.39"/><circle cx="524.9" cy="50.5" r="0.73"/><circle cx="538.9" cy="64.6" r="0.37"/><circle cx="527.9" cy="78.8" r="0.69"/><circle cx="513.4" cy="48.9" r="0.71"/><circle cx="502.4" cy="44.2" r="0.74"/><circle cx="532.1" cy="77.8" r="0.75"/><circle cx="522.4" cy="72.8" r="0.72"/><circle cx="506" cy="54.6" r="0.36"/><circle cx="511.1" cy="54.3" r="0.37"/><circle cx="532.5" cy="60.2" r="0.45"/><circle cx="513.2" cy="45" r="0.63"/><circle cx="506.5" cy="45.4" r="0.36"/><circle cx="501.2" cy="64.8" r="0.79"/><circle cx="502.2" cy="60.6" r="0.41"/><circle cx="490.9" cy="76.1" r="0.58"/><circle cx="528.7" cy="84.7" r="0.68"/><circle cx="529.4" cy="49.2" r="0.48"/><circle cx="521.4" cy="80.2" r="0.75"/><circle cx="499.7" cy="79.7" r="0.58"/><circle cx="504.7" cy="88.5" r="0.5"/><circle cx="518" cy="44.5" r="0.48"/><circle cx="522.1" cy="63.9" r="0.68"/><circle cx="496.6" cy="79.8" r="0.78"/><circle cx="518" cy="86" r="0.4"/><circle cx="500.4" cy="57.7" r="0.51"/><circle cx="498.9" cy="47" r="0.56"/><circle cx="496.3" cy="54.6" r="0.63"/><circle cx="494.6" cy="65" r="0.57"/><circle cx="522.8" cy="90.6" r="0.7"/><circle cx="523.4" cy="54.8" r="0.38"/><circle cx="495.8" cy="74.6" r="0.67"/><circle cx="513" cy="81.3" r="0.41"/><circle cx="495.7" cy="58.2" r="0.35"/><circle cx="518.1" cy="80" r="0.78"/><circle cx="496.7" cy="60.2" r="0.48"/><circle cx="522.7" cy="47.3" r="0.65"/><circle cx="512.5" cy="68.4" r="0.57"/><circle cx="515.9" cy="60.8" r="0.49"/><circle cx="502.9" cy="56.6" r="0.61"/><circle cx="526.6" cy="52.6" r="0.58"/><circle cx="529.6" cy="74.4" r="0.6"/><circle cx="497.3" cy="63.9" r="0.51"/><circle cx="517.3" cy="68.6" r="0.42"/><circle cx="520" cy="59.9" r="0.61"/><circle cx="510.5" cy="53.7" r="0.64"/><circle cx="514.2" cy="59.5" r="0.45"/><circle cx="530.7" cy="88.3" r="0.48"/><circle cx="523.7" cy="56.5" r="0.72"/><circle cx="526.6" cy="84.7" r="0.54"/><circle cx="535.4" cy="75.9" r="0.76"/><circle cx="536.4" cy="57.6" r="0.66"/><circle cx="535.4" cy="64.4" r="0.47"/><circle cx="525.6" cy="79.1" r="0.43"/><circle cx="533.9" cy="81.3" r="0.68"/><circle cx="527" cy="55.3" r="0.69"/><circle cx="526.8" cy="49.1" r="0.37"/><circle cx="503.8" cy="79" r="0.54"/><circle cx="530.3" cy="52.4" r="0.68"/><circle cx="505.6" cy="43.7" r="0.51"/><circle cx="513.9" cy="47.9" r="0.72"/><circle cx="503.4" cy="81.5" r="0.63"/><circle cx="524.7" cy="58.2" r="0.35"/><circle cx="492.2" cy="69.8" r="0.44"/><circle cx="493.5" cy="71.2" r="0.78"/><circle cx="492.7" cy="54.8" r="0.74"/><circle cx="526.8" cy="89.4" r="0.72"/><circle cx="538.5" cy="66.4" r="0.69"/><circle cx="518.9" cy="85" r="0.64"/><circle cx="514.7" cy="54" r="0.61"/><circle cx="499" cy="86.9" r="0.49"/><circle cx="500.9" cy="46.2" r="0.52"/><circle cx="495" cy="76" r="0.64"/><circle cx="509.7" cy="87.3" r="0.79"/><circle cx="515.5" cy="42.8" r="0.48"/><circle cx="512.5" cy="54.6" r="0.72"/><circle cx="519.1" cy="89.3" r="0.67"/><circle cx="500" cy="82.2" r="0.62"/><circle cx="502.9" cy="52.6" r="0.69"/><circle cx="534.2" cy="84.6" r="0.61"/><circle cx="499.9" cy="46.3" r="0.61"/><circle cx="538.3" cy="72.6" r="0.71"/><circle cx="495.4" cy="56.9" r="0.49"/><circle cx="529.3" cy="83.1" r="0.59"/><circle cx="527.7" cy="61.6" r="0.71"/><circle cx="514.7" cy="48.5" r="0.52"/><circle cx="524.7" cy="84.9" r="0.74"/><circle cx="515.6" cy="44.3" r="0.39"/><circle cx="538.3" cy="69.6" r="0.6"/><circle cx="532.3" cy="74.9" r="0.54"/><circle cx="496.3" cy="50.1" r="0.49"/><circle cx="499.2" cy="86.9" r="0.75"/><circle cx="530" cy="76.2" r="0.79"/><circle cx="513.9" cy="76.6" r="0.7"/><circle cx="503.8" cy="64.9" r="0.74"/><circle cx="501.9" cy="85.1" r="0.69"/><circle cx="492.7" cy="56.2" r="0.63"/><circle cx="500.3" cy="76.8" r="0.8"/><circle cx="540.2" cy="68.1" r="0.44"/><circle cx="517.9" cy="54.1" r="0.44"/><circle cx="515.4" cy="55.3" r="0.43"/><circle cx="489" cy="75" r="0.75"/><circle cx="520.6" cy="91.2" r="0.7"/><circle cx="517.3" cy="85.8" r="0.37"/><circle cx="493" cy="59.3" r="0.49"/><circle cx="522.1" cy="90.9" r="0.55"/><circle cx="508.5" cy="75.5" r="0.75"/><circle cx="525.4" cy="84" r="0.46"/><circle cx="510.3" cy="89.4" r="0.75"/><circle cx="519.7" cy="61.8" r="0.63"/><circle cx="499.3" cy="87.1" r="0.38"/><circle cx="505.2" cy="58.7" r="0.36"/><circle cx="516.2" cy="57.5" r="0.75"/><circle cx="527" cy="46.7" r="0.6"/><circle cx="506" cy="44.2" r="0.6"/><circle cx="532.4" cy="70.6" r="0.39"/><circle cx="499.7" cy="71.4" r="0.4"/><circle cx="491" cy="55.8" r="0.68"/><circle cx="517.8" cy="92.7" r="0.75"/><circle cx="511.3" cy="93.6" r="0.41"/><circle cx="532.6" cy="52.5" r="0.71"/><circle cx="499.6" cy="56.9" r="0.4"/><circle cx="501.5" cy="74.8" r="0.69"/><circle cx="522.8" cy="63.6" r="0.36"/><circle cx="516.2" cy="93.8" r="0.72"/><circle cx="537.4" cy="60.9" r="0.56"/><circle cx="508.2" cy="89.7" r="0.72"/><circle cx="521.9" cy="60.8" r="0.62"/><circle cx="521.8" cy="64.8" r="0.49"/><circle cx="513.6" cy="76.4" r="0.36"/><circle cx="510.2" cy="52.7" r="0.79"/><circle cx="527.3" cy="50.5" r="0.72"/><circle cx="497" cy="83" r="0.46"/><circle cx="502.5" cy="64.3" r="0.44"/><circle cx="504.1" cy="88.8" r="0.61"/><circle cx="499.9" cy="53" r="0.42"/><circle cx="508.5" cy="53.9" r="0.45"/><circle cx="535.9" cy="62.9" r="0.53"/><circle cx="494.6" cy="50.7" r="0.77"/><circle cx="514.5" cy="47.6" r="0.66"/><circle cx="500.8" cy="66.3" r="0.61"/><circle cx="503.8" cy="51.6" r="0.76"/><circle cx="523.2" cy="45.6" r="0.41"/><circle cx="498.2" cy="51.5" r="0.77"/><circle cx="515.1" cy="69.7" r="0.79"/><circle cx="509.3" cy="51" r="0.62"/><circle cx="497.4" cy="74.6" r="0.6"/></g>
<g fill="#7226c8" filter="url(#bl)"><circle cx="500.3" cy="63.9" r="0.49" fill-opacity="0.8"/><circle cx="533.8" cy="76.4" r="0.4" fill-opacity="0.9"/><circle cx="515.6" cy="82.6" r="1.19" fill-opacity="0.8"/><circle cx="490.1" cy="71.4" r="0.7" fill-opacity="0.6"/><circle cx="528.7" cy="51.8" r="0.59" fill-opacity="0.9"/><circle cx="534.5" cy="76.5" r="0.84" fill-opacity="0.8"/><circle cx="529.7" cy="70.9" r="0.98" fill-opacity="0.8"/><circle cx="530.6" cy="52.1" r="0.78" fill-opacity="1"/><circle cx="519.7" cy="50.9" r="0.53" fill-opacity="1"/><circle cx="534.4" cy="82.1" r="0.41" fill-opacity="0.6"/><circle cx="490.3" cy="77.9" r="0.69" fill-opacity="0.7"/><circle cx="499.2" cy="80.8" r="0.48" fill-opacity="0.8"/><circle cx="531.3" cy="56" r="0.74" fill-opacity="1"/><circle cx="538.6" cy="66.4" r="0.73" fill-opacity="0.6"/><circle cx="538.1" cy="62.4" r="1.04" fill-opacity="0.8"/><circle cx="519.6" cy="89.9" r="0.93" fill-opacity="0.8"/><circle cx="528.4" cy="73.8" r="0.97" fill-opacity="1"/><circle cx="517.1" cy="58.7" r="0.51" fill-opacity="0.6"/><circle cx="516" cy="52.2" r="0.99" fill-opacity="0.6"/><circle cx="534.6" cy="73.8" r="0.79" fill-opacity="0.7"/><circle cx="538.7" cy="64.8" r="0.58" fill-opacity="1"/><circle cx="528.3" cy="75.3" r="0.66" fill-opacity="0.6"/><circle cx="503" cy="75.1" r="0.67" fill-opacity="0.6"/><circle cx="518.8" cy="62.6" r="0.46" fill-opacity="1"/><circle cx="496.1" cy="85.2" r="0.55" fill-opacity="0.8"/><circle cx="496.1" cy="55.5" r="0.62" fill-opacity="0.8"/><circle cx="488.6" cy="66.7" r="0.53" fill-opacity="0.9"/><circle cx="509.6" cy="81.5" r="1.16" fill-opacity="0.8"/><circle cx="534.4" cy="69.3" r="0.52" fill-opacity="0.8"/><circle cx="510.3" cy="64.4" r="0.69" fill-opacity="0.6"/><circle cx="493" cy="72.3" r="0.74" fill-opacity="0.7"/><circle cx="512.4" cy="45.2" r="0.4" fill-opacity="0.6"/><circle cx="535.8" cy="62.7" r="0.44" fill-opacity="0.8"/><circle cx="505.1" cy="86.8" r="0.49" fill-opacity="0.7"/><circle cx="499.8" cy="58" r="0.46" fill-opacity="0.7"/><circle cx="537.3" cy="71.8" r="0.63" fill-opacity="0.9"/><circle cx="516.9" cy="83.6" r="0.89" fill-opacity="0.7"/><circle cx="502.1" cy="73" r="0.76" fill-opacity="0.6"/><circle cx="505.9" cy="81.9" r="0.94" fill-opacity="0.7"/><circle cx="526" cy="89.2" r="0.47" fill-opacity="0.8"/><circle cx="490.4" cy="75.3" r="0.43" fill-opacity="0.6"/><circle cx="521.4" cy="86.5" r="0.9" fill-opacity="0.9"/><circle cx="511.8" cy="80.5" r="0.9" fill-opacity="0.8"/><circle cx="500.6" cy="87.6" r="0.41" fill-opacity="0.7"/><circle cx="510.9" cy="91.4" r="0.48" fill-opacity="0.7"/><circle cx="498.7" cy="77.6" r="1.07" fill-opacity="0.6"/><circle cx="516.7" cy="66.8" r="1" fill-opacity="1"/><circle cx="531.7" cy="62.1" r="1.08" fill-opacity="0.6"/><circle cx="526.1" cy="48" r="0.72" fill-opacity="0.8"/><circle cx="505.6" cy="80.9" r="0.43" fill-opacity="0.6"/><circle cx="509.3" cy="88.2" r="0.9" fill-opacity="0.6"/><circle cx="505.4" cy="44.3" r="1.07" fill-opacity="1"/><circle cx="491.9" cy="56.2" r="0.4" fill-opacity="0.9"/><circle cx="510.2" cy="79.8" r="0.72" fill-opacity="0.8"/><circle cx="530.9" cy="61" r="0.67" fill-opacity="0.7"/><circle cx="523.6" cy="56.5" r="0.56" fill-opacity="0.9"/><circle cx="519.6" cy="83.8" r="0.6" fill-opacity="0.9"/><circle cx="517.3" cy="55.7" r="1.07" fill-opacity="0.9"/><circle cx="538.2" cy="68.9" r="0.69" fill-opacity="0.9"/><circle cx="513.1" cy="75.2" r="0.44" fill-opacity="0.8"/><circle cx="496.1" cy="70.9" r="0.86" fill-opacity="0.6"/><circle cx="519.6" cy="73.4" r="0.41" fill-opacity="0.6"/><circle cx="529.9" cy="47.3" r="0.4" fill-opacity="0.8"/><circle cx="507.7" cy="82.7" r="0.48" fill-opacity="0.8"/><circle cx="500.7" cy="83.9" r="0.42" fill-opacity="0.7"/><circle cx="503.8" cy="64.1" r="0.78" fill-opacity="0.7"/><circle cx="518.1" cy="76" r="0.49" fill-opacity="0.8"/><circle cx="496.8" cy="84" r="0.89" fill-opacity="0.8"/><circle cx="501.3" cy="81.1" r="0.57" fill-opacity="0.9"/><circle cx="507.8" cy="50.7" r="0.55" fill-opacity="0.7"/><circle cx="507.3" cy="48.8" r="0.4" fill-opacity="0.7"/><circle cx="527.4" cy="55.2" r="1.09" fill-opacity="0.7"/><circle cx="520.5" cy="43.6" r="0.44" fill-opacity="0.8"/><circle cx="518.3" cy="57.7" r="0.72" fill-opacity="0.9"/><circle cx="502.3" cy="47.2" r="0.8" fill-opacity="0.8"/><circle cx="505.4" cy="62.5" r="0.4" fill-opacity="0.6"/><circle cx="536.7" cy="74.3" r="0.4" fill-opacity="0.6"/><circle cx="524.8" cy="90.2" r="0.4" fill-opacity="0.9"/><circle cx="520.1" cy="58.8" r="0.74" fill-opacity="0.9"/><circle cx="491.5" cy="55.6" r="0.89" fill-opacity="0.6"/><circle cx="490.7" cy="66.1" r="0.78" fill-opacity="0.6"/><circle cx="535.4" cy="58.5" r="0.4" fill-opacity="0.7"/><circle cx="523.8" cy="49.6" r="0.44" fill-opacity="0.6"/><circle cx="503.1" cy="58" r="0.83" fill-opacity="0.7"/><circle cx="500.4" cy="78.2" r="0.48" fill-opacity="0.7"/><circle cx="504.8" cy="67.8" r="1.15" fill-opacity="0.7"/><circle cx="526.4" cy="87.4" r="0.75" fill-opacity="0.9"/><circle cx="492" cy="65.4" r="0.56" fill-opacity="0.8"/><circle cx="528.9" cy="88" r="0.4" fill-opacity="0.9"/><circle cx="489" cy="65.1" r="0.53" fill-opacity="0.9"/><circle cx="512.7" cy="80.7" r="0.42" fill-opacity="0.8"/><circle cx="515.9" cy="83.9" r="0.75" fill-opacity="1"/><circle cx="509.7" cy="52.7" r="0.51" fill-opacity="0.9"/><circle cx="511.8" cy="88.6" r="0.43" fill-opacity="0.6"/><circle cx="499.8" cy="80.7" r="0.42" fill-opacity="0.7"/><circle cx="516.6" cy="51.7" r="0.41" fill-opacity="1"/><circle cx="498.4" cy="56.6" r="0.55" fill-opacity="0.9"/><circle cx="491.5" cy="59.3" r="0.56" fill-opacity="0.9"/><circle cx="494.2" cy="82.2" r="0.8" fill-opacity="1"/><circle cx="516.5" cy="86.7" r="0.43" fill-opacity="0.9"/><circle cx="535.6" cy="62.1" r="0.97" fill-opacity="0.7"/><circle cx="513.4" cy="80.9" r="0.42" fill-opacity="0.9"/><circle cx="534" cy="53.3" r="0.44" fill-opacity="0.9"/><circle cx="499.8" cy="75.3" r="0.8" fill-opacity="0.6"/><circle cx="519" cy="59.4" r="0.45" fill-opacity="0.7"/><circle cx="504.7" cy="49.2" r="0.4" fill-opacity="0.7"/><circle cx="495.6" cy="69.4" r="0.43" fill-opacity="0.8"/><circle cx="494.2" cy="84.1" r="0.61" fill-opacity="0.6"/><circle cx="506.4" cy="54.6" r="0.41" fill-opacity="0.9"/><circle cx="534.7" cy="82.2" r="1.1" fill-opacity="0.7"/><circle cx="515.2" cy="44.3" r="0.45" fill-opacity="0.9"/><circle cx="521.7" cy="47.2" r="0.44" fill-opacity="0.9"/><circle cx="502.1" cy="45" r="0.6" fill-opacity="0.6"/><circle cx="502.4" cy="83.4" r="0.79" fill-opacity="0.9"/><circle cx="522.7" cy="86.6" r="0.71" fill-opacity="0.8"/><circle cx="523.9" cy="59.6" r="0.72" fill-opacity="0.6"/><circle cx="530.1" cy="87.5" r="0.47" fill-opacity="0.9"/><circle cx="494.2" cy="60.7" r="0.71" fill-opacity="0.8"/><circle cx="521.3" cy="82.2" r="0.4" fill-opacity="0.9"/><circle cx="491.7" cy="61.6" r="0.81" fill-opacity="0.7"/><circle cx="502.9" cy="77.9" r="0.99" fill-opacity="0.6"/><circle cx="514.4" cy="87.5" r="0.85" fill-opacity="0.7"/><circle cx="500.5" cy="77.2" r="0.61" fill-opacity="0.9"/><circle cx="523.8" cy="53.9" r="0.41" fill-opacity="0.7"/><circle cx="521.7" cy="74.3" r="0.86" fill-opacity="0.9"/><circle cx="518.9" cy="79.8" r="0.52" fill-opacity="0.9"/><circle cx="513.9" cy="43.8" r="0.65" fill-opacity="0.6"/><circle cx="520.3" cy="84.5" r="0.6" fill-opacity="0.8"/><circle cx="514.1" cy="81.2" r="0.87" fill-opacity="0.6"/><circle cx="532.6" cy="52.7" r="1.11" fill-opacity="0.7"/><circle cx="496.4" cy="57.6" r="0.69" fill-opacity="1"/><circle cx="507.3" cy="89.1" r="0.97" fill-opacity="0.8"/><circle cx="511" cy="46.8" r="0.4" fill-opacity="0.9"/><circle cx="492.1" cy="68.9" r="0.59" fill-opacity="0.8"/><circle cx="501.1" cy="65.4" r="0.4" fill-opacity="0.8"/><circle cx="493.6" cy="75.3" r="0.63" fill-opacity="1"/><circle cx="530.5" cy="86.6" r="0.88" fill-opacity="0.8"/><circle cx="509.3" cy="73.6" r="0.43" fill-opacity="0.6"/><circle cx="532.4" cy="59.2" r="0.47" fill-opacity="0.9"/><circle cx="529" cy="84.6" r="0.97" fill-opacity="0.8"/><circle cx="508.7" cy="43" r="0.81" fill-opacity="0.7"/><circle cx="535.9" cy="57.8" r="0.98" fill-opacity="0.7"/><circle cx="490.9" cy="70" r="0.41" fill-opacity="0.6"/><circle cx="516.9" cy="76.4" r="0.41" fill-opacity="0.8"/><circle cx="492.2" cy="62.5" r="0.52" fill-opacity="0.8"/><circle cx="498.5" cy="71.3" r="0.83" fill-opacity="0.7"/><circle cx="524.5" cy="60.2" r="0.79" fill-opacity="0.7"/><circle cx="497.1" cy="64.6" r="0.66" fill-opacity="0.7"/><circle cx="514.7" cy="70" r="0.87" fill-opacity="0.6"/><circle cx="520.5" cy="85.6" r="0.43" fill-opacity="0.6"/><circle cx="522.9" cy="83.4" r="0.4" fill-opacity="0.6"/><circle cx="501.7" cy="68.6" r="0.4" fill-opacity="0.6"/><circle cx="498.4" cy="78.1" r="0.77" fill-opacity="0.6"/><circle cx="499.8" cy="78.6" r="0.4" fill-opacity="1"/><circle cx="525.6" cy="75.6" r="0.56" fill-opacity="0.6"/><circle cx="501.9" cy="85.5" r="0.41" fill-opacity="0.6"/><circle cx="510.5" cy="90.4" r="0.87" fill-opacity="0.8"/><circle cx="506.2" cy="92" r="0.44" fill-opacity="0.7"/><circle cx="497.5" cy="50.4" r="0.48" fill-opacity="0.6"/><circle cx="536" cy="63.5" r="0.65" fill-opacity="0.6"/><circle cx="519.2" cy="71.1" r="0.42" fill-opacity="0.6"/><circle cx="509.7" cy="61.4" r="1.03" fill-opacity="0.6"/><circle cx="488.5" cy="71.5" r="0.89" fill-opacity="1"/><circle cx="539" cy="73.2" r="0.46" fill-opacity="0.8"/><circle cx="535.9" cy="81.2" r="0.45" fill-opacity="0.9"/><circle cx="505.9" cy="74.6" r="0.47" fill-opacity="0.9"/><circle cx="525.7" cy="90.4" r="0.81" fill-opacity="0.9"/><circle cx="491.2" cy="59.8" r="1.07" fill-opacity="0.7"/><circle cx="516.4" cy="85.8" r="0.86" fill-opacity="0.8"/><circle cx="521.4" cy="81.1" r="0.79" fill-opacity="0.8"/><circle cx="496.9" cy="82.6" r="0.56" fill-opacity="0.6"/><circle cx="536.6" cy="71.1" r="0.55" fill-opacity="0.9"/><circle cx="532.3" cy="80.6" r="0.43" fill-opacity="0.9"/><circle cx="529.8" cy="52.8" r="0.99" fill-opacity="0.8"/><circle cx="511.4" cy="42.9" r="0.47" fill-opacity="0.7"/><circle cx="507" cy="73" r="1.12" fill-opacity="0.6"/><circle cx="530" cy="81" r="0.4" fill-opacity="0.8"/><circle cx="527.9" cy="72.2" r="0.41" fill-opacity="0.8"/><circle cx="535" cy="69.3" r="0.43" fill-opacity="1"/><circle cx="501.2" cy="62.5" r="0.52" fill-opacity="0.9"/><circle cx="519.2" cy="47.2" r="0.6" fill-opacity="0.6"/><circle cx="525.3" cy="73.9" r="0.92" fill-opacity="0.6"/><circle cx="519.5" cy="66.6" r="0.42" fill-opacity="1"/><circle cx="504.9" cy="69.8" r="0.43" fill-opacity="0.9"/><circle cx="500.7" cy="51.2" r="0.84" fill-opacity="0.9"/><circle cx="500.7" cy="57.6" r="0.54" fill-opacity="0.6"/><circle cx="494" cy="54.2" r="0.91" fill-opacity="0.6"/><circle cx="494.4" cy="72.3" r="0.8" fill-opacity="0.6"/><circle cx="497.4" cy="69.4" r="0.4" fill-opacity="0.8"/><circle cx="493.7" cy="78.5" r="0.71" fill-opacity="0.8"/><circle cx="506" cy="78.9" r="1.19" fill-opacity="0.7"/><circle cx="530" cy="77.1" r="0.43" fill-opacity="0.6"/><circle cx="510.3" cy="42.7" r="1" fill-opacity="1"/><circle cx="533.5" cy="58.9" r="0.6" fill-opacity="0.7"/><circle cx="535.1" cy="53.2" r="1.11" fill-opacity="0.8"/><circle cx="494.5" cy="80.8" r="1.2" fill-opacity="1"/><circle cx="528.5" cy="61.5" r="0.42" fill-opacity="0.6"/><circle cx="507.8" cy="89.8" r="0.59" fill-opacity="0.8"/><circle cx="513.9" cy="60.9" r="0.45" fill-opacity="0.7"/><circle cx="513.3" cy="51" r="0.82" fill-opacity="0.7"/><circle cx="511" cy="77.5" r="0.51" fill-opacity="0.6"/><circle cx="515.1" cy="55.9" r="0.77" fill-opacity="1"/><circle cx="532.6" cy="49.6" r="0.49" fill-opacity="0.6"/><circle cx="498.4" cy="71.5" r="0.59" fill-opacity="0.8"/><circle cx="524.4" cy="54.1" r="0.45" fill-opacity="0.8"/><circle cx="522.8" cy="44.5" r="0.46" fill-opacity="0.7"/><circle cx="538" cy="69.3" r="0.41" fill-opacity="0.8"/><circle cx="524.3" cy="85.2" r="0.4" fill-opacity="0.6"/><circle cx="491.2" cy="72.8" r="1.16" fill-opacity="0.9"/><circle cx="539.4" cy="73.5" r="0.42" fill-opacity="0.6"/><circle cx="504.4" cy="83.5" r="0.4" fill-opacity="0.8"/><circle cx="510.4" cy="76.8" r="0.44" fill-opacity="0.9"/><circle cx="512.9" cy="86" r="0.4" fill-opacity="0.7"/><circle cx="504.3" cy="48.6" r="1.05" fill-opacity="0.9"/><circle cx="523.7" cy="78.8" r="0.84" fill-opacity="0.9"/><circle cx="523.7" cy="50.5" r="0.62" fill-opacity="0.7"/><circle cx="526.5" cy="69.1" r="0.7" fill-opacity="1"/><circle cx="489.5" cy="72.9" r="0.73" fill-opacity="1"/><circle cx="494.9" cy="53.4" r="0.52" fill-opacity="0.8"/><circle cx="519.2" cy="79.2" r="0.75" fill-opacity="1"/><circle cx="497" cy="78.9" r="0.48" fill-opacity="0.8"/><circle cx="491.3" cy="74.8" r="1.13" fill-opacity="0.6"/><circle cx="498.1" cy="65.6" r="0.51" fill-opacity="0.9"/><circle cx="536.1" cy="57.7" r="0.67" fill-opacity="0.6"/><circle cx="494.3" cy="61.4" r="0.56" fill-opacity="0.7"/><circle cx="533.4" cy="55.8" r="0.41" fill-opacity="0.9"/><circle cx="496.8" cy="66.2" r="1.03" fill-opacity="1"/><circle cx="521.5" cy="88.3" r="1.07" fill-opacity="0.6"/><circle cx="522.4" cy="52.3" r="0.46" fill-opacity="0.7"/><circle cx="538.1" cy="58.9" r="0.46" fill-opacity="0.7"/><circle cx="524.6" cy="79.2" r="0.44" fill-opacity="1"/><circle cx="515.3" cy="76.8" r="0.42" fill-opacity="0.6"/><circle cx="513.2" cy="47.8" r="0.94" fill-opacity="0.8"/><circle cx="538.2" cy="68.6" r="0.45" fill-opacity="1"/><circle cx="513.1" cy="76.4" r="0.56" fill-opacity="0.7"/><circle cx="533.6" cy="73.7" r="0.43" fill-opacity="1"/><circle cx="523.8" cy="61.3" r="0.42" fill-opacity="1"/><circle cx="500.7" cy="50.1" r="0.41" fill-opacity="0.6"/><circle cx="524.5" cy="88.7" r="0.42" fill-opacity="0.9"/><circle cx="537.7" cy="75.3" r="1.13" fill-opacity="0.8"/><circle cx="527.8" cy="78.7" r="0.5" fill-opacity="1"/><circle cx="524.6" cy="79.1" r="0.41" fill-opacity="0.6"/><circle cx="528.7" cy="59.2" r="0.4" fill-opacity="0.6"/><circle cx="539.6" cy="67.3" r="1.17" fill-opacity="0.7"/><circle cx="530.3" cy="62.6" r="0.56" fill-opacity="0.9"/><circle cx="530.1" cy="70" r="0.48" fill-opacity="0.9"/><circle cx="492.6" cy="57.9" r="0.55" fill-opacity="0.8"/><circle cx="495.9" cy="63.8" r="0.94" fill-opacity="0.6"/><circle cx="533.3" cy="59.2" r="0.96" fill-opacity="0.6"/><circle cx="527.9" cy="46" r="0.42" fill-opacity="0.7"/><circle cx="526.8" cy="72.2" r="1.16" fill-opacity="0.7"/><circle cx="532.7" cy="84.1" r="0.4" fill-opacity="0.9"/><circle cx="537.8" cy="66.5" r="0.75" fill-opacity="0.8"/><circle cx="533.7" cy="80.7" r="0.61" fill-opacity="0.7"/><circle cx="504.6" cy="60.9" r="0.47" fill-opacity="0.8"/><circle cx="506.9" cy="83.6" r="0.48" fill-opacity="0.8"/><circle cx="538" cy="57.7" r="0.98" fill-opacity="0.9"/><circle cx="529.5" cy="65.5" r="0.44" fill-opacity="0.6"/><circle cx="511.9" cy="48.3" r="0.48" fill-opacity="0.8"/><circle cx="529.2" cy="64.6" r="0.54" fill-opacity="0.8"/><circle cx="528.3" cy="53.6" r="1.18" fill-opacity="0.8"/><circle cx="500.3" cy="55.2" r="0.4" fill-opacity="0.7"/><circle cx="518.3" cy="43.7" r="0.4" fill-opacity="0.9"/><circle cx="531.5" cy="65.7" r="0.49" fill-opacity="0.6"/><circle cx="529.3" cy="54.2" r="0.53" fill-opacity="0.9"/><circle cx="499.5" cy="85.2" r="0.46" fill-opacity="0.8"/><circle cx="501.7" cy="80.6" r="0.71" fill-opacity="0.9"/><circle cx="526.8" cy="84.4" r="0.43" fill-opacity="0.7"/><circle cx="527.8" cy="84.2" r="0.4" fill-opacity="0.7"/><circle cx="529.3" cy="70.7" r="0.61" fill-opacity="1"/></g>
<radialGradient id="g4"><stop offset="0" stop-color="#d0c8d8"/><stop offset="0.75" stop-color="#d0c8d8"/><stop offset="1" stop-color="#c2b6ce"/></radialGradient>
<ellipse cx="358.3" cy="140.4" rx="29.7" ry="28.8" fill="#d0c6da" stroke="#a99fb6" stroke-width="0.8"/>
<ellipse cx="358.3" cy="140.4" rx="27.47" ry="26.64" fill="url(#g4)"/>
<g fill="#7226c8" fill-opacity="0.2"><circle cx="342.1" cy="140.6" r="0.36"/><circle cx="340.2" cy="139.7" r="0.78"/><circle cx="368" cy="150.2" r="0.74"/><circle cx="332.7" cy="140.8" r="0.58"/><circle cx="333.8" cy="146.3" r="0.55"/><circle cx="359.2" cy="159" r="0.47"/><circle cx="374.8" cy="147.4" r="0.56"/><circle cx="374.9" cy="123.5" r="0.41"/><circle cx="370.6" cy="127.7" r="0.78"/><circle cx="365.7" cy="155.2" r="0.73"/><circle cx="349.2" cy="127" r="0.77"/><circle cx="353.9" cy="154.9" r="0.61"/><circle cx="348.1" cy="140" r="0.61"/><circle cx="357.2" cy="121.9" r="0.65"/><circle cx="367" cy="121.4" r="0.41"/><circle cx="355.4" cy="153.3" r="0.43"/><circle cx="373.3" cy="120.6" r="0.75"/><circle cx="369.2" cy="126" r="0.77"/><circle cx="371.8" cy="121.2" r="0.66"/><circle cx="356" cy="144.6" r="0.47"/><circle cx="339.2" cy="132.7" r="0.76"/><circle cx="373.9" cy="138.2" r="0.42"/><circle cx="348.6" cy="161.8" r="0.6"/><circle cx="379.3" cy="146.8" r="0.61"/><circle cx="356.9" cy="162.2" r="0.39"/><circle cx="356.9" cy="161.5" r="0.43"/><circle cx="344.5" cy="134" r="0.56"/><circle cx="371.8" cy="152.4" r="0.45"/><circle cx="340.5" cy="152.9" r="0.43"/><circle cx="334.9" cy="133.5" r="0.51"/><circle cx="332.8" cy="134.5" r="0.42"/><circle cx="356.4" cy="159.6" r="0.73"/><circle cx="379.7" cy="151" r="0.41"/><circle cx="335.6" cy="140" r="0.49"/><circle cx="371.2" cy="155.3" r="0.56"/><circle cx="377.8" cy="132.2" r="0.63"/><circle cx="379.1" cy="145.4" r="0.58"/><circle cx="347.4" cy="122.8" r="0.49"/><circle cx="351.8" cy="116.1" r="0.67"/><circle cx="383.6" cy="133.5" r="0.41"/><circle cx="333.4" cy="135.7" r="0.62"/><circle cx="363.8" cy="142.8" r="0.71"/><circle cx="376.2" cy="138.6" r="0.78"/><circle cx="340.6" cy="129.6" r="0.62"/><circle cx="366.1" cy="121.7" r="0.79"/><circle cx="343.3" cy="148.9" r="0.53"/><circle cx="363.7" cy="148.5" r="0.43"/><circle cx="368.3" cy="161.2" r="0.62"/><circle cx="336.3" cy="154.2" r="0.8"/><circle cx="348.7" cy="152.3" r="0.41"/><circle cx="347.6" cy="147.3" r="0.7"/><circle cx="362.1" cy="161.9" r="0.38"/><circle cx="353.5" cy="148.7" r="0.6"/><circle cx="359.7" cy="141.4" r="0.65"/><circle cx="372.8" cy="144.4" r="0.71"/><circle cx="357.9" cy="130.9" r="0.37"/><circle cx="333.7" cy="144.5" r="0.5"/><circle cx="364.5" cy="127.6" r="0.54"/><circle cx="349.2" cy="158.9" r="0.43"/><circle cx="357.6" cy="156.7" r="0.68"/><circle cx="362.2" cy="116.9" r="0.48"/><circle cx="374.7" cy="134.6" r="0.56"/><circle cx="378.6" cy="147.1" r="0.7"/><circle cx="362.3" cy="158.8" r="0.56"/><circle cx="349.7" cy="151.5" r="0.51"/><circle cx="348.1" cy="156.2" r="0.43"/><circle cx="334.1" cy="135.8" r="0.52"/><circle cx="376.2" cy="153" r="0.48"/><circle cx="340.6" cy="142.3" r="0.74"/><circle cx="342" cy="150.6" r="0.62"/><circle cx="348.2" cy="161.5" r="0.66"/><circle cx="376.1" cy="142.4" r="0.38"/><circle cx="351.8" cy="145.5" r="0.45"/><circle cx="356.4" cy="119.9" r="0.55"/><circle cx="350.6" cy="161.9" r="0.44"/><circle cx="335.2" cy="132.3" r="0.45"/><circle cx="371.6" cy="128.9" r="0.38"/><circle cx="377.1" cy="156.3" r="0.74"/><circle cx="373.1" cy="154.6" r="0.47"/><circle cx="343.5" cy="129.6" r="0.71"/><circle cx="363" cy="164" r="0.61"/><circle cx="367" cy="162" r="0.71"/><circle cx="345.5" cy="132.3" r="0.57"/><circle cx="370.8" cy="124.3" r="0.41"/><circle cx="373.7" cy="137.1" r="0.63"/><circle cx="361.6" cy="164.8" r="0.49"/><circle cx="362" cy="119.9" r="0.58"/><circle cx="349.1" cy="143.6" r="0.7"/><circle cx="379.6" cy="153.4" r="0.53"/><circle cx="355.8" cy="115.8" r="0.63"/><circle cx="345" cy="140.9" r="0.54"/><circle cx="338" cy="141.2" r="0.39"/><circle cx="335.6" cy="149.1" r="0.44"/><circle cx="348.5" cy="159.5" r="0.41"/><circle cx="379.6" cy="143" r="0.76"/><circle cx="356.3" cy="161" r="0.77"/><circle cx="379.7" cy="142.2" r="0.68"/><circle cx="356.8" cy="148.6" r="0.61"/><circle cx="379.9" cy="134.2" r="0.72"/><circle cx="345.3" cy="136.4" r="0.4"/><circle cx="337.6" cy="150.3" r="0.64"/><circle cx="348.9" cy="140.7" r="0.55"/><circle cx="354.1" cy="134" r="0.79"/><circle cx="381.4" cy="135.2" r="0.39"/><circle cx="339" cy="129.7" r="0.55"/><circle cx="337.6" cy="152.7" r="0.39"/><circle cx="371.5" cy="123.1" r="0.52"/><circle cx="371.5" cy="157.6" r="0.79"/><circle cx="384.4" cy="142.8" r="0.64"/><circle cx="332.7" cy="138.3" r="0.39"/><circle cx="334.9" cy="140.3" r="0.5"/><circle cx="359.8" cy="148.9" r="0.72"/><circle cx="338.9" cy="136.5" r="0.64"/><circle cx="359.5" cy="122.7" r="0.68"/><circle cx="354.6" cy="136" r="0.36"/><circle cx="376.4" cy="131.4" r="0.72"/><circle cx="373.6" cy="133.7" r="0.43"/><circle cx="360.5" cy="118.1" r="0.37"/><circle cx="343" cy="136.9" r="0.8"/><circle cx="345.4" cy="143.5" r="0.75"/><circle cx="365.1" cy="129.2" r="0.68"/><circle cx="345" cy="160" r="0.62"/><circle cx="355.8" cy="152.4" r="0.71"/><circle cx="347.3" cy="137.5" r="0.39"/><circle cx="343" cy="122.1" r="0.4"/><circle cx="343.7" cy="120.5" r="0.64"/><circle cx="362.9" cy="131.9" r="0.66"/><circle cx="374.6" cy="148.6" r="0.7"/><circle cx="361.9" cy="126.5" r="0.61"/><circle cx="341.1" cy="145.9" r="0.48"/><circle cx="373.6" cy="127.3" r="0.6"/><circle cx="351.7" cy="123.8" r="0.79"/><circle cx="345.5" cy="135.5" r="0.75"/><circle cx="360.1" cy="160.7" r="0.43"/><circle cx="337.5" cy="130.5" r="0.39"/><circle cx="354.4" cy="150.5" r="0.6"/><circle cx="353.1" cy="158.4" r="0.46"/><circle cx="363.2" cy="120" r="0.52"/><circle cx="352" cy="122.4" r="0.51"/><circle cx="382.3" cy="140.7" r="0.47"/><circle cx="374.4" cy="154" r="0.37"/><circle cx="337.9" cy="132.4" r="0.64"/><circle cx="347.4" cy="162" r="0.76"/><circle cx="382.2" cy="133.3" r="0.49"/><circle cx="360" cy="131.6" r="0.44"/><circle cx="356.8" cy="132" r="0.66"/><circle cx="375.9" cy="154.3" r="0.67"/><circle cx="342.9" cy="140.6" r="0.65"/><circle cx="347.2" cy="153.8" r="0.72"/><circle cx="369.4" cy="121.5" r="0.37"/><circle cx="367.5" cy="161.9" r="0.5"/><circle cx="363.7" cy="119.3" r="0.64"/><circle cx="338.5" cy="135.9" r="0.62"/><circle cx="348.2" cy="150.6" r="0.54"/><circle cx="348.1" cy="145" r="0.66"/><circle cx="356.1" cy="143.8" r="0.77"/><circle cx="376.3" cy="157.9" r="0.76"/><circle cx="340.9" cy="122.2" r="0.45"/><circle cx="370.2" cy="155.7" r="0.6"/><circle cx="349.8" cy="147" r="0.41"/><circle cx="345" cy="158.3" r="0.73"/><circle cx="372" cy="160.2" r="0.68"/><circle cx="355.3" cy="163" r="0.72"/><circle cx="354.5" cy="148.3" r="0.66"/><circle cx="381.2" cy="132.5" r="0.6"/><circle cx="380.6" cy="133.3" r="0.77"/><circle cx="342.2" cy="146.4" r="0.7"/><circle cx="376.3" cy="150.1" r="0.76"/><circle cx="368.4" cy="155.3" r="0.5"/><circle cx="364" cy="137.1" r="0.41"/><circle cx="359.4" cy="140.1" r="0.49"/><circle cx="343.4" cy="156.2" r="0.5"/><circle cx="355.4" cy="115.7" r="0.5"/><circle cx="361.5" cy="116.8" r="0.74"/><circle cx="341.2" cy="148.4" r="0.76"/><circle cx="345.4" cy="154.8" r="0.63"/><circle cx="335.4" cy="137.6" r="0.38"/><circle cx="369.3" cy="163.6" r="0.61"/><circle cx="374.7" cy="145.6" r="0.45"/><circle cx="376.3" cy="145.6" r="0.39"/><circle cx="341.4" cy="151.7" r="0.37"/><circle cx="360.9" cy="156.6" r="0.74"/><circle cx="376.7" cy="123" r="0.75"/><circle cx="361.6" cy="159.4" r="0.63"/><circle cx="371.4" cy="133.7" r="0.45"/><circle cx="342.2" cy="126.6" r="0.39"/><circle cx="335" cy="143.4" r="0.66"/><circle cx="362.3" cy="120.5" r="0.4"/><circle cx="352" cy="127.4" r="0.39"/><circle cx="353.8" cy="122.9" r="0.41"/><circle cx="352.5" cy="123.2" r="0.44"/><circle cx="341.5" cy="138.8" r="0.73"/><circle cx="370.6" cy="124.4" r="0.57"/><circle cx="367.2" cy="133.7" r="0.55"/><circle cx="347.2" cy="135.6" r="0.55"/><circle cx="357.4" cy="142.8" r="0.41"/><circle cx="350.3" cy="156.6" r="0.78"/><circle cx="355.9" cy="147.9" r="0.36"/><circle cx="347.3" cy="154.5" r="0.49"/><circle cx="352.9" cy="152.8" r="0.73"/><circle cx="333.2" cy="136.3" r="0.61"/><circle cx="373" cy="135.9" r="0.36"/><circle cx="338.2" cy="137.1" r="0.58"/><circle cx="337" cy="126.4" r="0.4"/><circle cx="348.9" cy="134.4" r="0.36"/><circle cx="361.6" cy="122.9" r="0.56"/><circle cx="332.4" cy="145.5" r="0.5"/><circle cx="348.4" cy="143.5" r="0.54"/><circle cx="338.2" cy="129" r="0.74"/><circle cx="340.8" cy="149.6" r="0.4"/><circle cx="347.9" cy="161" r="0.56"/><circle cx="336.7" cy="134.1" r="0.43"/><circle cx="371.6" cy="158.2" r="0.76"/><circle cx="384.6" cy="138.1" r="0.57"/><circle cx="342" cy="133.5" r="0.69"/><circle cx="348.7" cy="129.4" r="0.5"/><circle cx="374.9" cy="147.7" r="0.68"/><circle cx="342" cy="134.3" r="0.59"/><circle cx="355.3" cy="116.3" r="0.68"/><circle cx="372.5" cy="119.5" r="0.42"/><circle cx="376.3" cy="123.5" r="0.43"/><circle cx="359.7" cy="124.8" r="0.75"/><circle cx="359.5" cy="131.6" r="0.74"/><circle cx="361" cy="159.1" r="0.46"/><circle cx="367.4" cy="128.6" r="0.69"/><circle cx="357.7" cy="125.2" r="0.72"/><circle cx="370.9" cy="131.2" r="0.63"/><circle cx="350.9" cy="145.7" r="0.5"/><circle cx="348.4" cy="130.6" r="0.54"/><circle cx="333.6" cy="148.2" r="0.61"/><circle cx="383.7" cy="141.4" r="0.49"/><circle cx="343.9" cy="120" r="0.73"/><circle cx="360.7" cy="131.7" r="0.47"/><circle cx="347.9" cy="153.4" r="0.59"/><circle cx="345.5" cy="119.8" r="0.66"/><circle cx="353.7" cy="126.6" r="0.52"/><circle cx="339.3" cy="125.2" r="0.43"/><circle cx="348.8" cy="125" r="0.64"/><circle cx="362.3" cy="154.3" r="0.68"/><circle cx="347.9" cy="139" r="0.7"/><circle cx="372.5" cy="142.5" r="0.78"/><circle cx="352.8" cy="117.2" r="0.69"/><circle cx="334.2" cy="144" r="0.76"/><circle cx="351.1" cy="116.2" r="0.68"/><circle cx="362" cy="147.8" r="0.6"/><circle cx="381.8" cy="145.4" r="0.75"/><circle cx="383" cy="146.7" r="0.68"/><circle cx="351.4" cy="161.9" r="0.6"/><circle cx="346" cy="146.3" r="0.76"/><circle cx="339.4" cy="141.3" r="0.5"/><circle cx="335.4" cy="139.8" r="0.52"/><circle cx="343.6" cy="126.2" r="0.77"/><circle cx="364.6" cy="155.4" r="0.46"/><circle cx="343.1" cy="137.2" r="0.4"/><circle cx="345.2" cy="144.4" r="0.35"/><circle cx="372.8" cy="129.5" r="0.48"/><circle cx="348.5" cy="121.8" r="0.66"/><circle cx="332.3" cy="138.5" r="0.44"/><circle cx="373.1" cy="158.1" r="0.54"/><circle cx="360.4" cy="148.5" r="0.48"/><circle cx="375" cy="126.8" r="0.38"/><circle cx="347.6" cy="163.4" r="0.48"/><circle cx="356.2" cy="146.8" r="0.35"/><circle cx="354.6" cy="123.3" r="0.59"/><circle cx="373.2" cy="137.1" r="0.75"/><circle cx="355.7" cy="161.5" r="0.52"/><circle cx="358" cy="131" r="0.64"/><circle cx="346.1" cy="121.6" r="0.56"/><circle cx="344.6" cy="154.9" r="0.48"/><circle cx="350.1" cy="135.1" r="0.6"/><circle cx="335" cy="150.7" r="0.79"/><circle cx="348.7" cy="141.4" r="0.57"/><circle cx="373.5" cy="125.5" r="0.6"/><circle cx="371.6" cy="122.6" r="0.79"/><circle cx="363.6" cy="130.3" r="0.53"/><circle cx="366.2" cy="119.2" r="0.39"/><circle cx="364.9" cy="135.2" r="0.59"/><circle cx="375.3" cy="157.6" r="0.59"/><circle cx="375.6" cy="152.3" r="0.64"/><circle cx="347" cy="129.8" r="0.42"/><circle cx="337.7" cy="130.7" r="0.68"/><circle cx="363.5" cy="119.4" r="0.35"/><circle cx="349.5" cy="146.3" r="0.53"/><circle cx="342.5" cy="128.3" r="0.5"/><circle cx="354.7" cy="155.9" r="0.5"/><circle cx="375.6" cy="130.2" r="0.44"/><circle cx="349.5" cy="118.5" r="0.54"/><circle cx="346.8" cy="122.6" r="0.73"/><circle cx="350.3" cy="136.7" r="0.55"/><circle cx="369.8" cy="129.3" r="0.47"/><circle cx="360.4" cy="118.6" r="0.73"/><circle cx="348.5" cy="133" r="0.44"/><circle cx="382.4" cy="142.3" r="0.53"/><circle cx="382.9" cy="145.8" r="0.47"/><circle cx="363.4" cy="161.7" r="0.78"/><circle cx="341.7" cy="141.5" r="0.53"/><circle cx="375.9" cy="152.7" r="0.6"/><circle cx="373.1" cy="154.8" r="0.45"/><circle cx="350.3" cy="141.2" r="0.46"/><circle cx="342.2" cy="128" r="0.61"/><circle cx="344.7" cy="133.8" r="0.64"/><circle cx="379.4" cy="142.1" r="0.35"/><circle cx="345.1" cy="130.9" r="0.47"/><circle cx="376.1" cy="125.3" r="0.67"/><circle cx="350.1" cy="134.5" r="0.73"/><circle cx="381.8" cy="150" r="0.61"/><circle cx="343" cy="139.1" r="0.53"/><circle cx="378.2" cy="155.4" r="0.43"/><circle cx="366.3" cy="119.2" r="0.48"/><circle cx="341" cy="121.1" r="0.68"/><circle cx="357" cy="133" r="0.6"/><circle cx="363.6" cy="148.8" r="0.47"/><circle cx="350.4" cy="164.8" r="0.61"/><circle cx="344.5" cy="147.7" r="0.56"/><circle cx="363.6" cy="142.1" r="0.6"/><circle cx="346.8" cy="147.3" r="0.36"/><circle cx="357.8" cy="160.5" r="0.64"/><circle cx="381.2" cy="134.6" r="0.75"/><circle cx="344.3" cy="124" r="0.79"/><circle cx="338.1" cy="141.8" r="0.51"/><circle cx="373.7" cy="147.9" r="0.69"/><circle cx="380" cy="138.7" r="0.46"/><circle cx="355.4" cy="155.1" r="0.49"/><circle cx="350.8" cy="130.1" r="0.52"/><circle cx="353.5" cy="148" r="0.6"/><circle cx="352.2" cy="134.4" r="0.75"/><circle cx="358" cy="119.5" r="0.37"/><circle cx="358.8" cy="132.3" r="0.71"/><circle cx="359.6" cy="153.3" r="0.46"/><circle cx="359.1" cy="162.2" r="0.74"/><circle cx="349.8" cy="162" r="0.6"/><circle cx="358.1" cy="164.3" r="0.44"/><circle cx="380" cy="140" r="0.43"/><circle cx="378" cy="142.6" r="0.43"/><circle cx="381" cy="131.5" r="0.47"/><circle cx="371.7" cy="149.6" r="0.64"/><circle cx="362.8" cy="122.7" r="0.49"/><circle cx="363.1" cy="121.5" r="0.39"/><circle cx="366" cy="127.4" r="0.76"/><circle cx="377.7" cy="123.8" r="0.44"/><circle cx="352.5" cy="154.6" r="0.4"/><circle cx="345.1" cy="156.7" r="0.39"/><circle cx="356.7" cy="163.2" r="0.52"/><circle cx="348.5" cy="124.3" r="0.74"/><circle cx="338.6" cy="156.6" r="0.73"/><circle cx="338.8" cy="126.7" r="0.54"/><circle cx="353.2" cy="144.2" r="0.79"/><circle cx="374.3" cy="138" r="0.72"/><circle cx="379.2" cy="128.7" r="0.58"/><circle cx="336.6" cy="128.4" r="0.69"/><circle cx="366.8" cy="144.7" r="0.68"/><circle cx="350.4" cy="149" r="0.37"/><circle cx="372.6" cy="119.8" r="0.78"/><circle cx="332.3" cy="139.8" r="0.51"/><circle cx="342.4" cy="144" r="0.49"/><circle cx="358.5" cy="163" r="0.77"/><circle cx="373.4" cy="154.1" r="0.49"/><circle cx="347.1" cy="132.9" r="0.67"/><circle cx="363.8" cy="124.5" r="0.41"/><circle cx="378.8" cy="147" r="0.49"/><circle cx="347.9" cy="121.5" r="0.56"/><circle cx="338.1" cy="153" r="0.61"/><circle cx="355" cy="129.7" r="0.52"/><circle cx="336.9" cy="142.1" r="0.45"/><circle cx="338.4" cy="126.6" r="0.56"/><circle cx="364" cy="143.4" r="0.7"/><circle cx="359.2" cy="159.2" r="0.72"/><circle cx="352.1" cy="146.3" r="0.44"/><circle cx="338.2" cy="156.4" r="0.66"/><circle cx="348.4" cy="143.3" r="0.39"/><circle cx="366" cy="121.1" r="0.64"/><circle cx="360.3" cy="120.5" r="0.61"/><circle cx="353.5" cy="133.5" r="0.69"/><circle cx="337.3" cy="133.9" r="0.79"/><circle cx="364.5" cy="124.9" r="0.59"/><circle cx="342.4" cy="151.6" r="0.39"/><circle cx="337.3" cy="131.7" r="0.7"/><circle cx="384.1" cy="139.1" r="0.55"/><circle cx="372.4" cy="148.9" r="0.68"/><circle cx="359" cy="119.3" r="0.78"/><circle cx="366.5" cy="153.1" r="0.4"/><circle cx="368.2" cy="132.7" r="0.44"/><circle cx="342.3" cy="135" r="0.36"/><circle cx="342.3" cy="125.5" r="0.35"/><circle cx="346.9" cy="139.3" r="0.76"/><circle cx="368.9" cy="156.6" r="0.4"/><circle cx="361.9" cy="152.1" r="0.37"/><circle cx="356.6" cy="117.8" r="0.61"/><circle cx="352" cy="132.2" r="0.53"/><circle cx="349" cy="125.7" r="0.53"/><circle cx="364.6" cy="142.5" r="0.79"/><circle cx="350.6" cy="116.8" r="0.73"/><circle cx="348.4" cy="159.9" r="0.61"/><circle cx="370.1" cy="154.8" r="0.41"/><circle cx="333.1" cy="140.1" r="0.65"/><circle cx="357.5" cy="155.5" r="0.38"/><circle cx="375.9" cy="131.8" r="0.76"/><circle cx="369.6" cy="122.2" r="0.57"/><circle cx="339.7" cy="126.8" r="0.57"/><circle cx="345.8" cy="137.2" r="0.48"/><circle cx="366.7" cy="118.2" r="0.68"/><circle cx="364.8" cy="156.9" r="0.36"/><circle cx="362.2" cy="152.7" r="0.54"/><circle cx="359.7" cy="141" r="0.37"/><circle cx="347.7" cy="124" r="0.7"/><circle cx="383" cy="144.8" r="0.57"/><circle cx="338" cy="141.1" r="0.39"/><circle cx="362.1" cy="127.9" r="0.62"/><circle cx="342.6" cy="139.9" r="0.72"/><circle cx="365.9" cy="159" r="0.52"/><circle cx="375.3" cy="121.9" r="0.63"/><circle cx="373.2" cy="154.6" r="0.71"/><circle cx="359.8" cy="125.7" r="0.58"/><circle cx="341.9" cy="157.9" r="0.54"/><circle cx="347.4" cy="130.1" r="0.6"/><circle cx="365.1" cy="159.3" r="0.77"/><circle cx="354.2" cy="154.5" r="0.39"/><circle cx="377.1" cy="148.4" r="0.7"/><circle cx="366.5" cy="132.1" r="0.62"/><circle cx="369.9" cy="125.1" r="0.74"/><circle cx="346.2" cy="147.6" r="0.41"/><circle cx="366.8" cy="133.7" r="0.71"/><circle cx="372" cy="130.8" r="0.6"/><circle cx="375.4" cy="127" r="0.74"/><circle cx="357.5" cy="137.1" r="0.36"/><circle cx="368" cy="153.2" r="0.73"/><circle cx="368.9" cy="135.9" r="0.38"/><circle cx="360.2" cy="130.6" r="0.52"/><circle cx="340.2" cy="143.8" r="0.75"/><circle cx="363.3" cy="124.5" r="0.64"/><circle cx="369.6" cy="124.6" r="0.74"/><circle cx="370.9" cy="157.7" r="0.77"/><circle cx="372.7" cy="136.5" r="0.6"/><circle cx="343.6" cy="120.6" r="0.67"/><circle cx="334.2" cy="136.2" r="0.54"/><circle cx="382.5" cy="145.8" r="0.79"/><circle cx="343.6" cy="132" r="0.35"/><circle cx="361" cy="146.4" r="0.36"/><circle cx="380.7" cy="143.2" r="0.66"/><circle cx="337.5" cy="137.3" r="0.41"/><circle cx="349.3" cy="141.9" r="0.38"/><circle cx="366.2" cy="122.2" r="0.65"/><circle cx="367.6" cy="135.6" r="0.57"/><circle cx="369.8" cy="140.1" r="0.72"/><circle cx="337.8" cy="153.8" r="0.76"/><circle cx="358.7" cy="132" r="0.56"/><circle cx="346.1" cy="119.7" r="0.72"/><circle cx="366" cy="160.1" r="0.79"/><circle cx="364.4" cy="128.2" r="0.55"/><circle cx="333.4" cy="145.3" r="0.6"/><circle cx="360.6" cy="116.4" r="0.7"/><circle cx="351.1" cy="121.5" r="0.55"/><circle cx="359.8" cy="165.4" r="0.55"/><circle cx="363.7" cy="151.6" r="0.37"/><circle cx="373.1" cy="151.4" r="0.56"/><circle cx="364.9" cy="135.4" r="0.36"/><circle cx="372.3" cy="146.2" r="0.63"/><circle cx="367.6" cy="123.8" r="0.37"/><circle cx="340.9" cy="145.4" r="0.58"/><circle cx="376.1" cy="134.1" r="0.7"/><circle cx="380.6" cy="150.8" r="0.43"/><circle cx="376.3" cy="153.8" r="0.67"/><circle cx="357.7" cy="124.6" r="0.49"/><circle cx="338.7" cy="144.2" r="0.37"/><circle cx="349.1" cy="124.4" r="0.4"/><circle cx="374.9" cy="160.2" r="0.67"/><circle cx="338.5" cy="151.3" r="0.5"/><circle cx="363.1" cy="150.7" r="0.62"/><circle cx="358.9" cy="158.8" r="0.68"/><circle cx="353.5" cy="144.5" r="0.37"/><circle cx="370.9" cy="142.7" r="0.59"/><circle cx="343.6" cy="156.6" r="0.68"/><circle cx="333.5" cy="139.1" r="0.49"/><circle cx="378.5" cy="153.3" r="0.78"/><circle cx="337.4" cy="128.7" r="0.48"/><circle cx="362.6" cy="134" r="0.65"/><circle cx="338.6" cy="150.3" r="0.69"/><circle cx="340.4" cy="128.1" r="0.6"/><circle cx="347.3" cy="160.4" r="0.36"/><circle cx="381.3" cy="148.3" r="0.47"/></g>
<g fill="#7226c8" filter="url(#bl)"><circle cx="370.3" cy="149.2" r="0.53" fill-opacity="0.6"/><circle cx="350.8" cy="145.6" r="1.23" fill-opacity="0.9"/><circle cx="362.5" cy="163" r="0.65" fill-opacity="0.7"/><circle cx="368.8" cy="148.4" r="0.43" fill-opacity="1"/><circle cx="366.8" cy="118.2" r="1.01" fill-opacity="0.6"/><circle cx="346.6" cy="128.8" r="0.9" fill-opacity="0.9"/><circle cx="379.7" cy="153" r="0.73" fill-opacity="0.9"/><circle cx="367.2" cy="158" r="0.59" fill-opacity="0.6"/><circle cx="375.3" cy="121.9" r="0.67" fill-opacity="0.7"/><circle cx="335.5" cy="129.6" r="1.16" fill-opacity="0.9"/><circle cx="340.9" cy="150.5" r="0.72" fill-opacity="0.7"/><circle cx="353.9" cy="152.3" r="1.03" fill-opacity="0.6"/><circle cx="352.6" cy="134.8" r="0.46" fill-opacity="0.8"/><circle cx="347.5" cy="156.3" r="1.39" fill-opacity="0.6"/><circle cx="363.8" cy="157.7" r="0.77" fill-opacity="0.7"/><circle cx="358" cy="123.3" r="0.48" fill-opacity="0.8"/><circle cx="378.7" cy="154.9" r="0.4" fill-opacity="0.7"/><circle cx="340.6" cy="125.2" r="0.44" fill-opacity="0.7"/><circle cx="345.2" cy="143.7" r="0.4" fill-opacity="0.9"/><circle cx="382.5" cy="133.6" r="0.91" fill-opacity="1"/><circle cx="356.9" cy="145.7" r="1.33" fill-opacity="0.9"/><circle cx="375.8" cy="134.1" r="0.75" fill-opacity="0.9"/><circle cx="364.2" cy="155.2" r="0.57" fill-opacity="0.6"/><circle cx="375.9" cy="136.2" r="0.49" fill-opacity="0.6"/><circle cx="362.2" cy="147.1" r="0.99" fill-opacity="0.7"/><circle cx="371.7" cy="149.5" r="1.36" fill-opacity="0.7"/><circle cx="371.7" cy="145.5" r="0.4" fill-opacity="0.6"/><circle cx="371.6" cy="158.1" r="0.4" fill-opacity="0.8"/><circle cx="373.7" cy="140.2" r="0.41" fill-opacity="0.8"/><circle cx="338.3" cy="152.8" r="1.37" fill-opacity="0.8"/><circle cx="345.4" cy="148.2" r="0.4" fill-opacity="0.7"/><circle cx="370.1" cy="130.9" r="1.07" fill-opacity="0.8"/><circle cx="358.1" cy="147.1" r="0.44" fill-opacity="0.6"/><circle cx="368.5" cy="129.8" r="0.41" fill-opacity="0.6"/><circle cx="334.9" cy="130.5" r="1.38" fill-opacity="0.7"/><circle cx="344" cy="120.3" r="1" fill-opacity="0.9"/><circle cx="375" cy="151.1" r="0.43" fill-opacity="0.9"/><circle cx="380.7" cy="129.3" r="0.49" fill-opacity="0.8"/><circle cx="343.2" cy="122.2" r="1.04" fill-opacity="0.8"/><circle cx="349.6" cy="120.5" r="0.46" fill-opacity="1"/><circle cx="381.4" cy="151.7" r="1.34" fill-opacity="1"/><circle cx="379.9" cy="146.4" r="1.19" fill-opacity="0.6"/><circle cx="345.4" cy="118.6" r="0.4" fill-opacity="0.6"/><circle cx="338.3" cy="131.4" r="0.93" fill-opacity="1"/><circle cx="372.9" cy="140.7" r="1.24" fill-opacity="0.6"/><circle cx="376.9" cy="156.5" r="1.03" fill-opacity="0.9"/><circle cx="334.6" cy="132.8" r="1.15" fill-opacity="0.6"/><circle cx="347.4" cy="159.5" r="1.18" fill-opacity="0.9"/><circle cx="338.9" cy="137.3" r="0.4" fill-opacity="0.6"/><circle cx="336.8" cy="141.9" r="1.13" fill-opacity="0.8"/><circle cx="350.3" cy="149.4" r="0.96" fill-opacity="0.8"/><circle cx="360.7" cy="136.6" r="1.06" fill-opacity="0.6"/><circle cx="343" cy="154.1" r="0.99" fill-opacity="0.7"/><circle cx="343.3" cy="141.6" r="1.33" fill-opacity="0.6"/><circle cx="350" cy="132.8" r="1.16" fill-opacity="0.8"/><circle cx="370.2" cy="126" r="0.97" fill-opacity="0.6"/><circle cx="366.7" cy="163.2" r="0.47" fill-opacity="0.9"/><circle cx="363.9" cy="123" r="0.42" fill-opacity="0.9"/><circle cx="366.3" cy="150.9" r="0.61" fill-opacity="0.7"/><circle cx="375.4" cy="129" r="0.87" fill-opacity="0.6"/><circle cx="342.2" cy="135.9" r="0.6" fill-opacity="0.9"/><circle cx="376" cy="149.2" r="0.45" fill-opacity="0.9"/><circle cx="360.1" cy="123.4" r="1.37" fill-opacity="0.8"/><circle cx="340.8" cy="126.5" r="0.48" fill-opacity="1"/><circle cx="374.9" cy="130.4" r="0.47" fill-opacity="0.9"/><circle cx="340.1" cy="125.3" r="0.57" fill-opacity="0.6"/><circle cx="342.9" cy="157.9" r="0.8" fill-opacity="0.6"/><circle cx="364.5" cy="148.1" r="1.03" fill-opacity="0.6"/><circle cx="340.8" cy="158" r="0.7" fill-opacity="0.7"/><circle cx="376.5" cy="152.1" r="0.54" fill-opacity="1"/><circle cx="350.6" cy="129.6" r="0.49" fill-opacity="0.7"/><circle cx="364.4" cy="141.2" r="1.29" fill-opacity="0.9"/><circle cx="366.8" cy="118.5" r="1.3" fill-opacity="0.6"/><circle cx="336.9" cy="141" r="0.69" fill-opacity="1"/><circle cx="381.5" cy="135.9" r="0.41" fill-opacity="0.8"/><circle cx="357.6" cy="118.5" r="0.75" fill-opacity="0.9"/><circle cx="373.2" cy="133.4" r="0.54" fill-opacity="0.8"/><circle cx="351.1" cy="117" r="0.48" fill-opacity="0.7"/><circle cx="346.4" cy="128.6" r="1.39" fill-opacity="1"/><circle cx="343.3" cy="150.9" r="1.04" fill-opacity="0.7"/><circle cx="376.9" cy="141.9" r="0.42" fill-opacity="0.8"/><circle cx="341.2" cy="125.8" r="0.51" fill-opacity="1"/><circle cx="370.5" cy="158" r="0.4" fill-opacity="1"/><circle cx="381.2" cy="128.2" r="0.73" fill-opacity="0.7"/><circle cx="357.8" cy="150.5" r="0.44" fill-opacity="1"/><circle cx="362.7" cy="116.4" r="0.42" fill-opacity="0.7"/><circle cx="373.9" cy="135.3" r="0.42" fill-opacity="0.9"/><circle cx="336.6" cy="134" r="1.31" fill-opacity="0.7"/><circle cx="369.6" cy="157" r="0.41" fill-opacity="0.6"/><circle cx="370.5" cy="151.7" r="0.4" fill-opacity="1"/><circle cx="370.9" cy="130.4" r="0.86" fill-opacity="0.9"/><circle cx="379.6" cy="134.1" r="1.15" fill-opacity="0.9"/><circle cx="351" cy="121.3" r="0.89" fill-opacity="0.8"/><circle cx="369.7" cy="156.5" r="1.09" fill-opacity="0.8"/><circle cx="362.9" cy="148.3" r="1.15" fill-opacity="0.7"/><circle cx="350.7" cy="124.3" r="1.12" fill-opacity="0.7"/><circle cx="342.2" cy="148.6" r="0.4" fill-opacity="0.9"/><circle cx="363.8" cy="139" r="0.42" fill-opacity="0.6"/><circle cx="369.3" cy="119" r="0.44" fill-opacity="0.8"/><circle cx="354.4" cy="121.6" r="0.42" fill-opacity="0.9"/><circle cx="351.2" cy="115.9" r="1.23" fill-opacity="1"/><circle cx="368.7" cy="126.1" r="1.07" fill-opacity="0.8"/><circle cx="350.2" cy="133.1" r="1.22" fill-opacity="0.7"/><circle cx="376" cy="127.4" r="0.73" fill-opacity="0.6"/><circle cx="357.5" cy="161.7" r="1.11" fill-opacity="0.8"/><circle cx="371.5" cy="130.5" r="0.76" fill-opacity="0.7"/><circle cx="377.3" cy="125.5" r="1.18" fill-opacity="0.9"/><circle cx="351.2" cy="119.9" r="0.73" fill-opacity="0.8"/><circle cx="342.5" cy="160.6" r="0.4" fill-opacity="0.9"/><circle cx="339" cy="134.9" r="0.72" fill-opacity="0.7"/><circle cx="371.1" cy="146.3" r="0.98" fill-opacity="1"/><circle cx="375.3" cy="155.2" r="1.35" fill-opacity="0.9"/><circle cx="378.6" cy="140.5" r="1.09" fill-opacity="0.8"/><circle cx="380" cy="142.8" r="0.9" fill-opacity="0.6"/><circle cx="370.4" cy="155.5" r="0.51" fill-opacity="1"/><circle cx="367.8" cy="119.6" r="0.47" fill-opacity="0.7"/><circle cx="379.5" cy="144.9" r="0.54" fill-opacity="1"/><circle cx="373.6" cy="123.1" r="0.47" fill-opacity="0.9"/><circle cx="351.5" cy="118.1" r="0.56" fill-opacity="0.6"/><circle cx="362.5" cy="136.9" r="1.26" fill-opacity="0.7"/><circle cx="338.6" cy="153" r="0.76" fill-opacity="0.9"/><circle cx="345.9" cy="129.1" r="0.45" fill-opacity="0.8"/><circle cx="357.7" cy="147" r="0.46" fill-opacity="1"/><circle cx="358.9" cy="128.7" r="0.4" fill-opacity="1"/><circle cx="369.3" cy="147.4" r="0.43" fill-opacity="1"/><circle cx="375.7" cy="126.6" r="0.62" fill-opacity="0.6"/><circle cx="341.6" cy="145" r="1.38" fill-opacity="0.6"/><circle cx="366.7" cy="128.1" r="0.41" fill-opacity="1"/><circle cx="343.3" cy="133.9" r="0.8" fill-opacity="1"/><circle cx="363.9" cy="132.7" r="0.42" fill-opacity="0.9"/><circle cx="359" cy="134.1" r="0.42" fill-opacity="0.6"/><circle cx="355" cy="146.6" r="0.49" fill-opacity="1"/><circle cx="344" cy="156.2" r="1.38" fill-opacity="0.6"/><circle cx="372.3" cy="136.6" r="1.3" fill-opacity="0.9"/><circle cx="382.7" cy="149.3" r="1.2" fill-opacity="0.9"/><circle cx="370.7" cy="122.2" r="0.41" fill-opacity="0.6"/><circle cx="346.2" cy="142" r="0.66" fill-opacity="0.8"/><circle cx="357.6" cy="123.2" r="1.08" fill-opacity="0.9"/><circle cx="362.6" cy="146.3" r="0.44" fill-opacity="0.7"/><circle cx="365.5" cy="159.7" r="0.76" fill-opacity="0.7"/><circle cx="353.7" cy="123.8" r="1.28" fill-opacity="0.6"/><circle cx="375.7" cy="138.4" r="0.43" fill-opacity="0.6"/><circle cx="364.6" cy="128.4" r="0.9" fill-opacity="1"/><circle cx="377.7" cy="145.4" r="0.47" fill-opacity="0.9"/><circle cx="370" cy="154.1" r="0.52" fill-opacity="0.8"/><circle cx="341.6" cy="146" r="0.41" fill-opacity="0.6"/><circle cx="355.6" cy="117.4" r="0.55" fill-opacity="0.6"/><circle cx="343" cy="134.7" r="1.18" fill-opacity="0.8"/><circle cx="332.7" cy="136.2" r="0.42" fill-opacity="0.8"/><circle cx="340.8" cy="128.2" r="0.89" fill-opacity="0.6"/><circle cx="364.2" cy="122.8" r="0.41" fill-opacity="0.6"/><circle cx="355.3" cy="153.3" r="0.56" fill-opacity="0.7"/><circle cx="368.9" cy="159.1" r="0.5" fill-opacity="0.9"/><circle cx="378.4" cy="135.2" r="1.26" fill-opacity="0.7"/><circle cx="341.5" cy="136.5" r="0.66" fill-opacity="0.7"/><circle cx="366.4" cy="163.1" r="0.59" fill-opacity="0.6"/><circle cx="337.6" cy="126.7" r="1.37" fill-opacity="0.6"/><circle cx="339.4" cy="127.6" r="0.4" fill-opacity="0.9"/><circle cx="380.1" cy="152.1" r="1.28" fill-opacity="0.9"/><circle cx="337.5" cy="134.7" r="0.45" fill-opacity="0.6"/><circle cx="371.4" cy="126.1" r="0.43" fill-opacity="0.8"/><circle cx="352.4" cy="125.8" r="1.31" fill-opacity="0.9"/><circle cx="344.2" cy="148.3" r="0.4" fill-opacity="0.8"/><circle cx="372.2" cy="120.6" r="0.4" fill-opacity="0.7"/><circle cx="349.5" cy="144.8" r="1.22" fill-opacity="0.7"/><circle cx="382" cy="133.8" r="1.04" fill-opacity="0.6"/><circle cx="380.8" cy="128.9" r="1.4" fill-opacity="0.6"/><circle cx="357.5" cy="143.2" r="0.63" fill-opacity="0.7"/><circle cx="351.6" cy="132.5" r="0.81" fill-opacity="0.8"/><circle cx="339" cy="134.4" r="0.84" fill-opacity="0.6"/><circle cx="370.9" cy="154.3" r="0.41" fill-opacity="0.9"/><circle cx="349.2" cy="154.4" r="0.46" fill-opacity="0.8"/><circle cx="351" cy="131.7" r="0.4" fill-opacity="1"/><circle cx="359.7" cy="128" r="0.66" fill-opacity="0.7"/><circle cx="347.8" cy="152.8" r="0.94" fill-opacity="0.8"/><circle cx="358.6" cy="160.4" r="0.76" fill-opacity="0.6"/><circle cx="346.8" cy="124.7" r="0.66" fill-opacity="0.8"/><circle cx="365.6" cy="159.6" r="1.31" fill-opacity="0.9"/><circle cx="380.6" cy="134.1" r="0.57" fill-opacity="0.7"/><circle cx="351.6" cy="155.1" r="0.47" fill-opacity="0.7"/><circle cx="344" cy="141.8" r="0.47" fill-opacity="0.7"/><circle cx="349.4" cy="160.3" r="1.12" fill-opacity="0.9"/><circle cx="367" cy="126.1" r="0.42" fill-opacity="0.6"/><circle cx="384" cy="145.6" r="0.4" fill-opacity="0.9"/><circle cx="356.8" cy="138.3" r="0.67" fill-opacity="0.7"/><circle cx="373.3" cy="137.4" r="0.53" fill-opacity="0.7"/><circle cx="356.2" cy="121.9" r="0.47" fill-opacity="0.6"/><circle cx="378.1" cy="153.6" r="0.4" fill-opacity="0.6"/><circle cx="334.3" cy="150.6" r="0.91" fill-opacity="0.8"/><circle cx="343.9" cy="161.4" r="0.5" fill-opacity="0.9"/><circle cx="357.3" cy="141.5" r="0.95" fill-opacity="0.8"/><circle cx="376.7" cy="132.9" r="0.56" fill-opacity="0.9"/><circle cx="374" cy="149.6" r="0.52" fill-opacity="0.6"/><circle cx="356.8" cy="146.6" r="0.41" fill-opacity="0.8"/><circle cx="359.5" cy="117.8" r="1.16" fill-opacity="0.7"/><circle cx="375.6" cy="126.4" r="0.53" fill-opacity="1"/><circle cx="367.9" cy="135.3" r="1.16" fill-opacity="1"/><circle cx="352.3" cy="117.4" r="0.56" fill-opacity="0.9"/><circle cx="336.1" cy="129.3" r="0.75" fill-opacity="1"/><circle cx="350" cy="153.9" r="0.4" fill-opacity="0.9"/><circle cx="348" cy="121.6" r="0.44" fill-opacity="0.6"/><circle cx="372.5" cy="127" r="0.5" fill-opacity="0.7"/><circle cx="368.8" cy="125.3" r="0.41" fill-opacity="0.9"/><circle cx="356.8" cy="136" r="0.95" fill-opacity="0.8"/><circle cx="353.8" cy="162.7" r="0.41" fill-opacity="0.7"/><circle cx="355" cy="125.5" r="0.68" fill-opacity="0.8"/><circle cx="362.1" cy="115.5" r="1" fill-opacity="1"/><circle cx="357" cy="115.7" r="0.5" fill-opacity="0.8"/><circle cx="363.7" cy="118.2" r="1.19" fill-opacity="0.9"/><circle cx="357.7" cy="162.2" r="0.75" fill-opacity="0.6"/><circle cx="368.3" cy="159.6" r="0.4" fill-opacity="1"/><circle cx="349.9" cy="163.1" r="0.4" fill-opacity="0.9"/><circle cx="371.7" cy="159.4" r="1.04" fill-opacity="0.9"/><circle cx="355.1" cy="160.7" r="0.4" fill-opacity="0.6"/><circle cx="354.9" cy="122.1" r="0.77" fill-opacity="0.7"/><circle cx="380.5" cy="149.4" r="0.74" fill-opacity="0.6"/><circle cx="359.5" cy="143.6" r="1.01" fill-opacity="0.6"/><circle cx="353.2" cy="140.9" r="0.5" fill-opacity="0.8"/><circle cx="352.7" cy="120.5" r="1.22" fill-opacity="0.7"/><circle cx="374.5" cy="154.9" r="0.45" fill-opacity="0.6"/><circle cx="345.3" cy="160.9" r="0.87" fill-opacity="0.9"/><circle cx="363.2" cy="157.4" r="0.45" fill-opacity="0.8"/><circle cx="374.8" cy="147.9" r="1.1" fill-opacity="0.8"/><circle cx="372.4" cy="120.5" r="0.89" fill-opacity="0.9"/><circle cx="337.7" cy="150.1" r="1.04" fill-opacity="1"/><circle cx="365.2" cy="148.9" r="0.42" fill-opacity="0.8"/><circle cx="333.8" cy="136.4" r="1.11" fill-opacity="0.7"/><circle cx="358.7" cy="160.8" r="0.77" fill-opacity="0.7"/><circle cx="355.1" cy="142.7" r="0.68" fill-opacity="0.9"/><circle cx="372.8" cy="133.4" r="1.03" fill-opacity="0.6"/><circle cx="380.2" cy="131.3" r="1.32" fill-opacity="0.9"/><circle cx="340.7" cy="135.6" r="0.79" fill-opacity="0.8"/><circle cx="368.7" cy="131.5" r="0.66" fill-opacity="0.6"/><circle cx="372.9" cy="148.2" r="0.58" fill-opacity="0.6"/><circle cx="354.6" cy="160" r="1.06" fill-opacity="0.9"/><circle cx="363.5" cy="128" r="0.7" fill-opacity="0.7"/><circle cx="383.6" cy="141.4" r="0.53" fill-opacity="0.8"/><circle cx="345.3" cy="141.1" r="1.16" fill-opacity="0.7"/><circle cx="366.7" cy="161.1" r="1.35" fill-opacity="1"/><circle cx="359.5" cy="127.7" r="0.49" fill-opacity="0.6"/><circle cx="356.4" cy="126.5" r="0.59" fill-opacity="0.8"/><circle cx="363.9" cy="150.6" r="0.51" fill-opacity="0.8"/><circle cx="335.2" cy="147.8" r="0.49" fill-opacity="1"/><circle cx="359.1" cy="118.4" r="1.02" fill-opacity="0.8"/><circle cx="370.2" cy="150.2" r="0.8" fill-opacity="0.9"/><circle cx="380.4" cy="128.5" r="0.62" fill-opacity="0.8"/><circle cx="380.5" cy="153.3" r="0.52" fill-opacity="0.8"/><circle cx="341.7" cy="127" r="0.42" fill-opacity="0.8"/><circle cx="348.3" cy="149.1" r="0.42" fill-opacity="0.7"/><circle cx="340.6" cy="153" r="0.42" fill-opacity="0.8"/><circle cx="351.2" cy="161.1" r="0.46" fill-opacity="0.7"/><circle cx="380.6" cy="145.4" r="0.82" fill-opacity="0.6"/><circle cx="367.4" cy="163.1" r="1.05" fill-opacity="0.6"/><circle cx="357.4" cy="159.8" r="0.97" fill-opacity="0.9"/><circle cx="369.6" cy="144.1" r="0.9" fill-opacity="0.7"/><circle cx="347.9" cy="154.6" r="0.51" fill-opacity="0.8"/><circle cx="370.9" cy="153.2" r="0.59" fill-opacity="1"/><circle cx="353.6" cy="117.9" r="1.25" fill-opacity="0.8"/><circle cx="363" cy="123.8" r="0.41" fill-opacity="0.9"/><circle cx="349.3" cy="131.9" r="0.63" fill-opacity="0.9"/><circle cx="354" cy="132.7" r="1.06" fill-opacity="0.6"/><circle cx="354.1" cy="162" r="0.92" fill-opacity="1"/><circle cx="356" cy="141.9" r="0.62" fill-opacity="1"/><circle cx="383.4" cy="144.8" r="0.41" fill-opacity="0.7"/><circle cx="364.3" cy="117.7" r="0.67" fill-opacity="1"/><circle cx="375.8" cy="124" r="0.77" fill-opacity="0.7"/><circle cx="353.4" cy="118.3" r="1.25" fill-opacity="0.6"/><circle cx="355" cy="145.3" r="0.45" fill-opacity="0.7"/><circle cx="351.5" cy="134.9" r="0.55" fill-opacity="0.7"/><circle cx="348.6" cy="135.7" r="0.41" fill-opacity="0.9"/><circle cx="371.1" cy="131.1" r="0.41" fill-opacity="0.7"/><circle cx="334.7" cy="137.3" r="0.57" fill-opacity="0.9"/><circle cx="366.1" cy="130.2" r="0.63" fill-opacity="0.7"/><circle cx="355.2" cy="157.1" r="0.77" fill-opacity="0.7"/><circle cx="346.2" cy="124.5" r="1.12" fill-opacity="0.9"/><circle cx="350" cy="126.7" r="0.85" fill-opacity="1"/><circle cx="340.4" cy="136.9" r="0.94" fill-opacity="0.7"/><circle cx="345.9" cy="129" r="0.51" fill-opacity="0.9"/><circle cx="361.6" cy="157" r="0.74" fill-opacity="0.8"/><circle cx="382.8" cy="131.4" r="0.55" fill-opacity="0.8"/><circle cx="336" cy="139.8" r="0.71" fill-opacity="0.7"/><circle cx="377.6" cy="125.4" r="1" fill-opacity="0.9"/><circle cx="357.4" cy="164.7" r="1.28" fill-opacity="0.6"/><circle cx="347.4" cy="140.7" r="0.42" fill-opacity="0.7"/><circle cx="371.2" cy="157.3" r="0.53" fill-opacity="0.7"/><circle cx="380.9" cy="152.2" r="0.63" fill-opacity="0.8"/><circle cx="350.9" cy="150.8" r="0.51" fill-opacity="0.7"/><circle cx="338.6" cy="133.3" r="0.59" fill-opacity="0.7"/><circle cx="336.7" cy="142.4" r="0.41" fill-opacity="0.8"/><circle cx="369.5" cy="126" r="0.41" fill-opacity="0.8"/><circle cx="347.2" cy="128.6" r="1.04" fill-opacity="0.8"/><circle cx="377.6" cy="131.8" r="0.44" fill-opacity="1"/><circle cx="345.5" cy="126.6" r="0.41" fill-opacity="0.6"/><circle cx="345.8" cy="137" r="0.44" fill-opacity="0.9"/><circle cx="351.6" cy="129.8" r="1.19" fill-opacity="0.9"/><circle cx="369.7" cy="118.3" r="1.11" fill-opacity="0.6"/><circle cx="352.1" cy="159.1" r="0.56" fill-opacity="0.9"/><circle cx="364.9" cy="162" r="0.42" fill-opacity="0.6"/><circle cx="368.6" cy="120.1" r="0.41" fill-opacity="0.6"/><circle cx="370.5" cy="139.7" r="0.4" fill-opacity="0.8"/><circle cx="370.3" cy="161.6" r="0.83" fill-opacity="0.7"/><circle cx="336.6" cy="144.6" r="0.42" fill-opacity="1"/><circle cx="378.3" cy="138.2" r="0.72" fill-opacity="1"/><circle cx="379.2" cy="148.1" r="0.4" fill-opacity="1"/><circle cx="364.1" cy="119.4" r="1.08" fill-opacity="0.7"/><circle cx="344.5" cy="122.6" r="0.4" fill-opacity="0.8"/><circle cx="334.3" cy="131.8" r="0.99" fill-opacity="0.6"/><circle cx="339.6" cy="139.7" r="0.67" fill-opacity="0.9"/><circle cx="340" cy="132.6" r="0.64" fill-opacity="0.9"/><circle cx="341.4" cy="153" r="0.46" fill-opacity="0.9"/><circle cx="354.2" cy="123.8" r="0.46" fill-opacity="1"/><circle cx="345.5" cy="147.2" r="0.51" fill-opacity="0.9"/><circle cx="356.5" cy="162.9" r="0.44" fill-opacity="0.9"/><circle cx="366.5" cy="157.3" r="0.41" fill-opacity="0.9"/><circle cx="366.1" cy="120" r="0.4" fill-opacity="0.8"/><circle cx="347" cy="135.2" r="0.44" fill-opacity="0.7"/><circle cx="369.1" cy="157.9" r="1" fill-opacity="0.6"/><circle cx="358.8" cy="125.1" r="0.45" fill-opacity="0.7"/><circle cx="336.2" cy="131.5" r="1.03" fill-opacity="0.9"/><circle cx="380.5" cy="153.4" r="0.53" fill-opacity="0.8"/><circle cx="369.2" cy="128.8" r="0.53" fill-opacity="1"/><circle cx="349.4" cy="143.5" r="0.76" fill-opacity="0.9"/><circle cx="374.3" cy="129" r="0.47" fill-opacity="0.7"/><circle cx="363.5" cy="152.9" r="0.6" fill-opacity="0.9"/><circle cx="344.4" cy="141.4" r="0.56" fill-opacity="1"/><circle cx="365.6" cy="122.3" r="0.44" fill-opacity="1"/><circle cx="361.9" cy="145.3" r="0.77" fill-opacity="0.8"/><circle cx="343.5" cy="126.6" r="0.5" fill-opacity="0.8"/><circle cx="342.5" cy="131.3" r="0.88" fill-opacity="0.7"/><circle cx="369" cy="120" r="1.38" fill-opacity="0.6"/><circle cx="368" cy="156.1" r="0.42" fill-opacity="0.8"/><circle cx="375.1" cy="156.8" r="1" fill-opacity="0.9"/><circle cx="359.4" cy="115.3" r="0.43" fill-opacity="0.9"/><circle cx="355.2" cy="160.7" r="1" fill-opacity="0.7"/><circle cx="376.3" cy="124.2" r="0.53" fill-opacity="0.6"/><circle cx="371.7" cy="160" r="0.41" fill-opacity="0.9"/><circle cx="357.3" cy="155" r="0.53" fill-opacity="0.9"/><circle cx="352.6" cy="152.8" r="0.4" fill-opacity="0.7"/><circle cx="343.2" cy="123" r="0.72" fill-opacity="1"/><circle cx="357" cy="146.9" r="0.77" fill-opacity="0.7"/><circle cx="362.6" cy="165.3" r="1.31" fill-opacity="0.9"/><circle cx="379.4" cy="132.5" r="0.56" fill-opacity="0.7"/><circle cx="356.5" cy="122" r="1.05" fill-opacity="0.8"/><circle cx="346.2" cy="120.3" r="0.98" fill-opacity="0.6"/><circle cx="334.4" cy="135.5" r="0.49" fill-opacity="0.6"/><circle cx="362.4" cy="161" r="0.51" fill-opacity="0.8"/><circle cx="359.9" cy="154.2" r="0.4" fill-opacity="0.7"/><circle cx="359.2" cy="164" r="0.45" fill-opacity="0.6"/><circle cx="357.1" cy="119.4" r="0.43" fill-opacity="0.9"/><circle cx="361.7" cy="143.3" r="0.41" fill-opacity="0.9"/><circle cx="357.1" cy="130.7" r="0.43" fill-opacity="0.7"/><circle cx="362.4" cy="130.7" r="0.51" fill-opacity="1"/><circle cx="337.2" cy="131.9" r="0.58" fill-opacity="0.8"/><circle cx="379.2" cy="136.5" r="0.44" fill-opacity="0.6"/><circle cx="348.3" cy="116.9" r="0.76" fill-opacity="0.8"/><circle cx="359.1" cy="145.1" r="1.02" fill-opacity="0.7"/><circle cx="336.7" cy="141.9" r="0.42" fill-opacity="0.6"/><circle cx="356.2" cy="131.7" r="0.44" fill-opacity="0.8"/><circle cx="359.7" cy="119.8" r="0.42" fill-opacity="0.7"/><circle cx="346.3" cy="120.8" r="0.59" fill-opacity="0.8"/><circle cx="375.4" cy="124.2" r="0.65" fill-opacity="0.6"/><circle cx="352.3" cy="130.4" r="0.83" fill-opacity="0.8"/><circle cx="362.9" cy="162.1" r="0.53" fill-opacity="0.7"/><circle cx="381.3" cy="135.5" r="0.46" fill-opacity="0.6"/><circle cx="370.2" cy="127.5" r="1.39" fill-opacity="0.6"/><circle cx="341.2" cy="142.9" r="1.18" fill-opacity="0.8"/><circle cx="377" cy="137.4" r="0.91" fill-opacity="1"/><circle cx="382.4" cy="137.9" r="0.83" fill-opacity="0.9"/><circle cx="349.5" cy="122.8" r="1.27" fill-opacity="1"/><circle cx="346.9" cy="118.6" r="0.61" fill-opacity="0.7"/><circle cx="375.8" cy="135.2" r="0.81" fill-opacity="0.9"/><circle cx="376.4" cy="153.3" r="0.57" fill-opacity="0.7"/><circle cx="348.4" cy="117.2" r="0.51" fill-opacity="0.8"/><circle cx="333.5" cy="136.1" r="0.87" fill-opacity="0.7"/><circle cx="360.3" cy="122.2" r="0.43" fill-opacity="0.9"/><circle cx="382.9" cy="139.7" r="0.65" fill-opacity="0.8"/><circle cx="365.4" cy="116" r="1.13" fill-opacity="0.8"/><circle cx="363.9" cy="130.1" r="0.41" fill-opacity="0.9"/><circle cx="364.1" cy="125.6" r="0.78" fill-opacity="0.8"/><circle cx="352.3" cy="158.7" r="1.4" fill-opacity="0.8"/><circle cx="377.2" cy="157.5" r="0.4" fill-opacity="0.6"/><circle cx="375.2" cy="138.9" r="0.41" fill-opacity="0.8"/><circle cx="350" cy="163" r="0.47" fill-opacity="0.6"/><circle cx="350.8" cy="136.3" r="0.68" fill-opacity="0.6"/><circle cx="337.3" cy="140.2" r="0.85" fill-opacity="0.7"/><circle cx="368.9" cy="130.3" r="0.84" fill-opacity="0.9"/><circle cx="343.2" cy="132" r="0.52" fill-opacity="0.9"/><circle cx="332.6" cy="142.3" r="0.58" fill-opacity="0.9"/><circle cx="344.8" cy="154.8" r="0.4" fill-opacity="0.9"/><circle cx="370" cy="124.4" r="0.5" fill-opacity="0.9"/><circle cx="360.8" cy="163.7" r="0.98" fill-opacity="0.6"/><circle cx="362.5" cy="119.3" r="0.89" fill-opacity="0.7"/><circle cx="365.6" cy="155.9" r="1.19" fill-opacity="0.8"/><circle cx="334.4" cy="141.8" r="0.56" fill-opacity="1"/><circle cx="357" cy="115.6" r="0.79" fill-opacity="1"/><circle cx="351.1" cy="155.3" r="0.99" fill-opacity="0.9"/><circle cx="353.1" cy="118" r="0.53" fill-opacity="0.6"/><circle cx="374.6" cy="123.6" r="0.65" fill-opacity="0.7"/><circle cx="367.6" cy="162.5" r="0.43" fill-opacity="0.8"/><circle cx="359.5" cy="121.3" r="0.4" fill-opacity="1"/></g>
<radialGradient id="g5"><stop offset="0" stop-color="#cfc3d9"/><stop offset="0.75" stop-color="#cfc3d9"/><stop offset="1" stop-color="#c2b4d0"/></radialGradient>
<ellipse cx="436.4" cy="140.5" rx="29.6" ry="29.5" fill="#cec4d8" stroke="#a99fb6" stroke-width="0.8"/>
<ellipse cx="436.4" cy="140.5" rx="27.38" ry="27.29" fill="url(#g5)"/>
<ellipse cx="436.4" cy="140.5" rx="26.58" ry="26.49" fill="none" stroke="#7b48c4" stroke-opacity="0.25" stroke-width="1.6"/>
<g fill="#7226c8" fill-opacity="0.2"><circle cx="426.3" cy="146.7" r="0.77"/><circle cx="435.8" cy="157.9" r="0.63"/><circle cx="422.7" cy="128.7" r="0.55"/><circle cx="451" cy="143.8" r="0.72"/><circle cx="437.3" cy="162.2" r="0.57"/><circle cx="415.8" cy="140" r="0.76"/><circle cx="428.2" cy="162.5" r="0.5"/><circle cx="447.4" cy="158.4" r="0.77"/><circle cx="429.9" cy="140.5" r="0.47"/><circle cx="455.3" cy="146" r="0.45"/><circle cx="442.6" cy="115.1" r="0.45"/><circle cx="454.5" cy="144.2" r="0.4"/><circle cx="448.8" cy="139.3" r="0.49"/><circle cx="449.2" cy="146.1" r="0.4"/><circle cx="434.8" cy="114.3" r="0.76"/><circle cx="441.4" cy="116.8" r="0.46"/><circle cx="434.9" cy="152.1" r="0.38"/><circle cx="434.2" cy="128.8" r="0.57"/><circle cx="435.3" cy="143.6" r="0.73"/><circle cx="433.2" cy="116.3" r="0.68"/><circle cx="412.7" cy="131.6" r="0.52"/><circle cx="432.3" cy="160.5" r="0.37"/><circle cx="422.6" cy="144.3" r="0.4"/><circle cx="436.5" cy="148.9" r="0.52"/><circle cx="410.6" cy="142.6" r="0.73"/><circle cx="417.1" cy="127.9" r="0.49"/><circle cx="429.3" cy="156.2" r="0.64"/><circle cx="442.6" cy="116.8" r="0.48"/><circle cx="447.5" cy="141.1" r="0.61"/><circle cx="449.9" cy="141" r="0.49"/><circle cx="440.1" cy="153.4" r="0.65"/><circle cx="432.3" cy="160.7" r="0.68"/><circle cx="447.7" cy="134.4" r="0.4"/><circle cx="430.6" cy="120.6" r="0.68"/><circle cx="449.6" cy="126.8" r="0.63"/><circle cx="456" cy="151.1" r="0.43"/><circle cx="418.5" cy="135.3" r="0.39"/><circle cx="423.3" cy="159.4" r="0.56"/><circle cx="446.8" cy="123.9" r="0.49"/><circle cx="420.4" cy="128.1" r="0.64"/><circle cx="433.6" cy="155.7" r="0.56"/><circle cx="423.5" cy="124" r="0.41"/><circle cx="419.4" cy="133.8" r="0.44"/><circle cx="444.8" cy="136.5" r="0.36"/><circle cx="431.1" cy="158.9" r="0.36"/><circle cx="444.1" cy="152.8" r="0.53"/><circle cx="458.6" cy="152.5" r="0.51"/><circle cx="420.6" cy="124.8" r="0.36"/><circle cx="433.8" cy="153.7" r="0.75"/><circle cx="435.5" cy="158.6" r="0.57"/><circle cx="447.6" cy="155.8" r="0.65"/><circle cx="413.9" cy="143.7" r="0.59"/><circle cx="459" cy="134.2" r="0.63"/><circle cx="430" cy="140.3" r="0.65"/><circle cx="430" cy="125.9" r="0.52"/><circle cx="420.4" cy="126.6" r="0.65"/><circle cx="429.7" cy="116" r="0.67"/><circle cx="439.1" cy="162.7" r="0.63"/><circle cx="456.1" cy="148.4" r="0.69"/><circle cx="423" cy="141.2" r="0.59"/><circle cx="438.6" cy="117.9" r="0.56"/><circle cx="412.4" cy="149.5" r="0.6"/><circle cx="424.7" cy="163.9" r="0.67"/><circle cx="458.7" cy="153.5" r="0.7"/><circle cx="415.4" cy="135.2" r="0.71"/><circle cx="451.3" cy="160" r="0.57"/><circle cx="429.7" cy="120.5" r="0.78"/><circle cx="447.7" cy="119.5" r="0.38"/><circle cx="451.7" cy="131.3" r="0.78"/><circle cx="424.7" cy="160.5" r="0.7"/><circle cx="426.6" cy="123.4" r="0.64"/><circle cx="430.9" cy="116.5" r="0.79"/><circle cx="417.3" cy="141.3" r="0.65"/><circle cx="455.7" cy="146.6" r="0.78"/><circle cx="420.7" cy="140.5" r="0.37"/><circle cx="447.6" cy="135.1" r="0.47"/><circle cx="442.2" cy="126.5" r="0.46"/><circle cx="416.4" cy="131.4" r="0.75"/><circle cx="427.5" cy="157" r="0.47"/><circle cx="453.1" cy="140.5" r="0.4"/><circle cx="432" cy="150.7" r="0.7"/><circle cx="420.8" cy="160.8" r="0.46"/><circle cx="426" cy="129.6" r="0.57"/><circle cx="426.5" cy="139" r="0.47"/><circle cx="438.8" cy="129.9" r="0.4"/><circle cx="438.2" cy="122.5" r="0.59"/><circle cx="426.2" cy="163" r="0.78"/><circle cx="441.4" cy="136.6" r="0.54"/><circle cx="436.3" cy="142.4" r="0.79"/><circle cx="434.6" cy="118" r="0.71"/><circle cx="435.5" cy="143" r="0.56"/><circle cx="457.6" cy="126.7" r="0.42"/><circle cx="411.7" cy="131.8" r="0.49"/><circle cx="428.8" cy="144.3" r="0.58"/><circle cx="429.6" cy="157.5" r="0.78"/><circle cx="429.7" cy="158" r="0.7"/><circle cx="424.1" cy="147" r="0.4"/><circle cx="450.1" cy="140.2" r="0.63"/><circle cx="427.3" cy="123.1" r="0.65"/><circle cx="423.3" cy="155" r="0.42"/><circle cx="440.3" cy="144.1" r="0.53"/><circle cx="434.9" cy="137.6" r="0.5"/><circle cx="431.1" cy="153" r="0.57"/><circle cx="444.2" cy="130.2" r="0.57"/><circle cx="443.1" cy="144.5" r="0.75"/><circle cx="431.1" cy="160.3" r="0.67"/><circle cx="441.4" cy="136.3" r="0.77"/><circle cx="457.2" cy="147.3" r="0.54"/><circle cx="416.1" cy="127.1" r="0.44"/><circle cx="449" cy="145.8" r="0.58"/><circle cx="425" cy="144.6" r="0.75"/><circle cx="411.3" cy="141.8" r="0.7"/><circle cx="446.4" cy="137.1" r="0.74"/><circle cx="450.7" cy="128.1" r="0.48"/><circle cx="424.8" cy="163.9" r="0.77"/><circle cx="458.7" cy="130.8" r="0.68"/><circle cx="434.9" cy="148.4" r="0.65"/><circle cx="425.8" cy="117.7" r="0.37"/><circle cx="427.2" cy="153.9" r="0.43"/><circle cx="423.1" cy="139.1" r="0.52"/><circle cx="424.1" cy="148.1" r="0.78"/><circle cx="436.6" cy="119.7" r="0.77"/><circle cx="440.4" cy="136.8" r="0.39"/><circle cx="435.6" cy="128" r="0.69"/><circle cx="415.5" cy="143.7" r="0.67"/><circle cx="442.5" cy="157.3" r="0.45"/><circle cx="445.9" cy="142.7" r="0.78"/><circle cx="421.4" cy="161.4" r="0.54"/><circle cx="439.3" cy="126.1" r="0.57"/><circle cx="445.2" cy="132.7" r="0.77"/><circle cx="430.1" cy="142.2" r="0.45"/><circle cx="422.8" cy="157.1" r="0.48"/><circle cx="424.4" cy="131" r="0.58"/><circle cx="428.4" cy="123.3" r="0.56"/><circle cx="412.6" cy="150.1" r="0.71"/><circle cx="418" cy="122.9" r="0.62"/><circle cx="430.8" cy="117.6" r="0.44"/><circle cx="446.2" cy="155.2" r="0.36"/><circle cx="425.8" cy="160" r="0.46"/><circle cx="441.4" cy="141.2" r="0.65"/><circle cx="421.2" cy="146.9" r="0.65"/><circle cx="428.7" cy="116.5" r="0.45"/><circle cx="447" cy="164.4" r="0.61"/><circle cx="431.4" cy="161.4" r="0.75"/><circle cx="431.2" cy="120.2" r="0.41"/><circle cx="430.8" cy="164" r="0.63"/><circle cx="426.3" cy="161.1" r="0.47"/><circle cx="452.2" cy="138.3" r="0.65"/><circle cx="419.1" cy="133.4" r="0.65"/><circle cx="449.2" cy="147.1" r="0.4"/><circle cx="419.6" cy="128.6" r="0.79"/><circle cx="449.2" cy="123.6" r="0.79"/><circle cx="419.5" cy="149.5" r="0.56"/><circle cx="437.5" cy="123.8" r="0.61"/><circle cx="446.2" cy="137.7" r="0.59"/><circle cx="414.3" cy="133.7" r="0.61"/><circle cx="451.8" cy="154" r="0.41"/><circle cx="423" cy="159" r="0.41"/><circle cx="436.1" cy="116.5" r="0.69"/><circle cx="448" cy="153.1" r="0.69"/><circle cx="429.9" cy="129.1" r="0.66"/><circle cx="451" cy="140.7" r="0.62"/><circle cx="416.3" cy="128" r="0.79"/><circle cx="434.8" cy="127.2" r="0.55"/><circle cx="429.8" cy="159.9" r="0.45"/><circle cx="420.7" cy="128" r="0.76"/><circle cx="415.4" cy="140.5" r="0.64"/><circle cx="418.5" cy="152.1" r="0.47"/><circle cx="419.6" cy="154.9" r="0.37"/><circle cx="428.9" cy="149.6" r="0.66"/><circle cx="414.7" cy="141.8" r="0.72"/><circle cx="427" cy="153.2" r="0.69"/><circle cx="416.6" cy="150.4" r="0.75"/><circle cx="431.5" cy="139.4" r="0.74"/><circle cx="445.1" cy="163.7" r="0.71"/><circle cx="454.6" cy="132.7" r="0.5"/><circle cx="422.6" cy="123.5" r="0.8"/><circle cx="424" cy="150.8" r="0.41"/><circle cx="456.5" cy="150" r="0.73"/><circle cx="440.4" cy="150.7" r="0.78"/><circle cx="437" cy="121.4" r="0.51"/><circle cx="427" cy="150.7" r="0.79"/><circle cx="446.7" cy="133.5" r="0.75"/><circle cx="434.2" cy="162.5" r="0.68"/><circle cx="415.4" cy="126.7" r="0.45"/><circle cx="456.7" cy="134.8" r="0.62"/><circle cx="439.7" cy="151.1" r="0.63"/><circle cx="443" cy="140.6" r="0.52"/><circle cx="422.2" cy="141.1" r="0.38"/><circle cx="427.3" cy="122.5" r="0.49"/><circle cx="416.1" cy="137" r="0.71"/><circle cx="423.1" cy="124.9" r="0.6"/><circle cx="456.2" cy="154.2" r="0.4"/><circle cx="448.9" cy="119.2" r="0.35"/><circle cx="417" cy="124.7" r="0.74"/><circle cx="420.4" cy="156.2" r="0.4"/><circle cx="430.6" cy="118" r="0.56"/><circle cx="426.8" cy="151.4" r="0.77"/><circle cx="441" cy="158.4" r="0.79"/><circle cx="448" cy="163.8" r="0.44"/><circle cx="419.1" cy="155.4" r="0.56"/><circle cx="433.2" cy="162.4" r="0.62"/><circle cx="438.7" cy="153.1" r="0.6"/><circle cx="450.5" cy="129.5" r="0.41"/><circle cx="434.5" cy="165.7" r="0.5"/><circle cx="432.6" cy="149.2" r="0.79"/><circle cx="444.9" cy="126.3" r="0.79"/><circle cx="445.4" cy="160.9" r="0.54"/><circle cx="436.4" cy="152.2" r="0.5"/><circle cx="431.4" cy="130" r="0.59"/><circle cx="436" cy="155.5" r="0.41"/><circle cx="427.3" cy="144.2" r="0.38"/><circle cx="435.7" cy="160.1" r="0.7"/><circle cx="445.3" cy="129.2" r="0.78"/><circle cx="440" cy="165.7" r="0.77"/><circle cx="450.4" cy="128.1" r="0.56"/><circle cx="435.3" cy="160.4" r="0.69"/><circle cx="448.9" cy="129.4" r="0.67"/><circle cx="454" cy="144" r="0.47"/><circle cx="424.2" cy="153.4" r="0.61"/><circle cx="434" cy="141" r="0.75"/><circle cx="426.7" cy="116.7" r="0.66"/><circle cx="457.4" cy="140.4" r="0.71"/><circle cx="417.9" cy="141" r="0.77"/><circle cx="420" cy="128.9" r="0.49"/><circle cx="414.6" cy="142.1" r="0.77"/><circle cx="462.8" cy="139.9" r="0.78"/><circle cx="442.1" cy="143.3" r="0.5"/><circle cx="413.8" cy="131.9" r="0.47"/><circle cx="436.4" cy="149.8" r="0.41"/><circle cx="436" cy="129.6" r="0.44"/><circle cx="427.9" cy="132.5" r="0.41"/><circle cx="422.1" cy="120.9" r="0.74"/><circle cx="433.6" cy="117.9" r="0.47"/><circle cx="423.4" cy="152.7" r="0.53"/><circle cx="413.1" cy="150.4" r="0.71"/><circle cx="455" cy="151.1" r="0.44"/><circle cx="441.4" cy="120.6" r="0.45"/><circle cx="426.3" cy="150.3" r="0.56"/><circle cx="452.2" cy="132.4" r="0.62"/><circle cx="428.2" cy="152.7" r="0.58"/><circle cx="427.5" cy="147.7" r="0.38"/><circle cx="451" cy="124.4" r="0.75"/><circle cx="420.8" cy="154.3" r="0.6"/><circle cx="445.4" cy="158.5" r="0.59"/><circle cx="442.6" cy="158.6" r="0.55"/><circle cx="421.1" cy="121.7" r="0.5"/><circle cx="427" cy="130.5" r="0.6"/><circle cx="421.4" cy="143.2" r="0.53"/><circle cx="451.8" cy="125.8" r="0.52"/><circle cx="418" cy="133" r="0.65"/><circle cx="436.7" cy="154.3" r="0.77"/><circle cx="431.8" cy="130.6" r="0.47"/><circle cx="418.2" cy="146.2" r="0.46"/><circle cx="448" cy="137.3" r="0.37"/><circle cx="435.6" cy="129.7" r="0.52"/><circle cx="438.5" cy="128.2" r="0.79"/><circle cx="432.9" cy="128.1" r="0.53"/><circle cx="414.8" cy="125.5" r="0.75"/><circle cx="451.2" cy="156.6" r="0.55"/><circle cx="449.3" cy="158.9" r="0.39"/><circle cx="459.7" cy="128.4" r="0.64"/><circle cx="434.1" cy="133.3" r="0.79"/><circle cx="431.3" cy="117.5" r="0.55"/><circle cx="455.6" cy="131" r="0.57"/><circle cx="441.4" cy="146.9" r="0.78"/><circle cx="457.1" cy="131.6" r="0.42"/><circle cx="432.5" cy="131.9" r="0.54"/><circle cx="438.4" cy="158.9" r="0.69"/><circle cx="432.8" cy="117.3" r="0.54"/><circle cx="421.3" cy="152.1" r="0.56"/><circle cx="420.9" cy="143.6" r="0.78"/><circle cx="452.2" cy="158.4" r="0.65"/><circle cx="422.9" cy="160.4" r="0.75"/><circle cx="459.6" cy="151.5" r="0.63"/><circle cx="419.8" cy="144" r="0.6"/><circle cx="419.6" cy="122.5" r="0.75"/><circle cx="440.5" cy="127.1" r="0.53"/><circle cx="440.4" cy="129" r="0.61"/><circle cx="446.9" cy="132.2" r="0.57"/><circle cx="458.4" cy="138.5" r="0.5"/><circle cx="417.2" cy="134.8" r="0.48"/><circle cx="455.8" cy="136.3" r="0.66"/><circle cx="430.5" cy="127.4" r="0.63"/><circle cx="428.4" cy="125.8" r="0.52"/><circle cx="418.4" cy="155.7" r="0.72"/><circle cx="443.6" cy="153.9" r="0.5"/><circle cx="443.7" cy="133.3" r="0.8"/><circle cx="437.5" cy="158.1" r="0.75"/><circle cx="437.3" cy="164.9" r="0.49"/><circle cx="449.4" cy="154.6" r="0.44"/><circle cx="449.1" cy="152.3" r="0.41"/><circle cx="429.8" cy="160.4" r="0.76"/><circle cx="423.9" cy="117.9" r="0.47"/><circle cx="424.1" cy="160.2" r="0.74"/><circle cx="430" cy="123.9" r="0.69"/><circle cx="436.8" cy="118.1" r="0.5"/><circle cx="428.8" cy="148.7" r="0.78"/><circle cx="435.2" cy="146.2" r="0.49"/><circle cx="448.9" cy="127.4" r="0.43"/><circle cx="445.8" cy="141.5" r="0.5"/><circle cx="414.6" cy="147.1" r="0.64"/><circle cx="423.9" cy="155.4" r="0.53"/><circle cx="442.3" cy="138.7" r="0.68"/><circle cx="439.1" cy="149.2" r="0.7"/><circle cx="436.2" cy="121.2" r="0.69"/><circle cx="441.2" cy="130.7" r="0.44"/><circle cx="436.2" cy="129.8" r="0.72"/><circle cx="424.9" cy="150.6" r="0.68"/><circle cx="422.2" cy="145.6" r="0.8"/><circle cx="446.2" cy="136.9" r="0.75"/><circle cx="437.2" cy="166.7" r="0.44"/><circle cx="445" cy="156.4" r="0.77"/><circle cx="447.6" cy="123.4" r="0.57"/><circle cx="454.9" cy="135.3" r="0.41"/><circle cx="444.7" cy="130" r="0.62"/><circle cx="460" cy="139.8" r="0.7"/><circle cx="436.6" cy="119.5" r="0.59"/><circle cx="430.4" cy="152.2" r="0.77"/><circle cx="455.7" cy="144.4" r="0.64"/><circle cx="417.9" cy="121.8" r="0.57"/><circle cx="423.8" cy="127" r="0.63"/><circle cx="452" cy="129.7" r="0.75"/><circle cx="432.8" cy="117.3" r="0.67"/><circle cx="423.8" cy="141.2" r="0.47"/><circle cx="448.6" cy="136.5" r="0.45"/><circle cx="448.5" cy="119.8" r="0.53"/><circle cx="438.6" cy="144.9" r="0.64"/><circle cx="422.6" cy="158.3" r="0.62"/><circle cx="430.1" cy="130.9" r="0.7"/><circle cx="414.6" cy="131.4" r="0.61"/><circle cx="436.2" cy="142.1" r="0.53"/><circle cx="443.6" cy="144.1" r="0.78"/><circle cx="415.9" cy="132" r="0.66"/><circle cx="420" cy="122" r="0.54"/><circle cx="453.3" cy="137.3" r="0.78"/><circle cx="441.1" cy="130.4" r="0.64"/><circle cx="430.9" cy="125.3" r="0.47"/><circle cx="414.9" cy="132.2" r="0.61"/><circle cx="442.3" cy="136.4" r="0.78"/><circle cx="430.1" cy="162.9" r="0.68"/><circle cx="426.9" cy="137.7" r="0.51"/><circle cx="431.8" cy="158.6" r="0.38"/><circle cx="437.8" cy="158.5" r="0.43"/><circle cx="447.7" cy="151.7" r="0.36"/><circle cx="460.9" cy="149.3" r="0.75"/><circle cx="449.3" cy="152.7" r="0.54"/><circle cx="454.6" cy="147.1" r="0.59"/><circle cx="435.5" cy="143.2" r="0.67"/><circle cx="447.1" cy="162.4" r="0.53"/><circle cx="426.2" cy="164" r="0.4"/><circle cx="445.7" cy="130.1" r="0.51"/><circle cx="456.7" cy="132.2" r="0.63"/><circle cx="423.9" cy="142" r="0.5"/><circle cx="422.2" cy="128" r="0.79"/><circle cx="414.2" cy="139.3" r="0.71"/><circle cx="443.2" cy="158.6" r="0.65"/><circle cx="439.8" cy="154.6" r="0.52"/><circle cx="455" cy="144.3" r="0.51"/><circle cx="410.5" cy="138.9" r="0.52"/><circle cx="430.5" cy="123" r="0.58"/><circle cx="421.1" cy="132" r="0.47"/><circle cx="416.7" cy="150.7" r="0.67"/><circle cx="425.9" cy="128.1" r="0.44"/><circle cx="417.4" cy="141.4" r="0.36"/><circle cx="426.4" cy="143" r="0.69"/><circle cx="449.7" cy="120.6" r="0.71"/><circle cx="445.1" cy="164.9" r="0.42"/><circle cx="439.2" cy="130.2" r="0.44"/><circle cx="446.5" cy="152.4" r="0.76"/><circle cx="437.6" cy="153.4" r="0.62"/><circle cx="458.2" cy="145.9" r="0.61"/><circle cx="417.8" cy="133.9" r="0.58"/><circle cx="446.9" cy="119.2" r="0.74"/><circle cx="451.8" cy="144.6" r="0.56"/><circle cx="433.1" cy="136.7" r="0.57"/><circle cx="447.9" cy="120.6" r="0.68"/><circle cx="425.3" cy="159.8" r="0.68"/><circle cx="440.6" cy="161.5" r="0.74"/><circle cx="418" cy="136.9" r="0.44"/><circle cx="412.5" cy="144.5" r="0.68"/><circle cx="412.2" cy="137.6" r="0.61"/><circle cx="437.8" cy="159" r="0.71"/><circle cx="461.2" cy="146" r="0.36"/><circle cx="452.8" cy="149.5" r="0.55"/><circle cx="437.3" cy="156.6" r="0.7"/><circle cx="454.6" cy="130.8" r="0.44"/><circle cx="423.8" cy="129.1" r="0.7"/><circle cx="443.4" cy="156.9" r="0.52"/><circle cx="456.4" cy="136.4" r="0.64"/><circle cx="448.7" cy="119.5" r="0.54"/><circle cx="446.1" cy="123.8" r="0.68"/><circle cx="442.9" cy="156.6" r="0.68"/><circle cx="435" cy="155.5" r="0.46"/><circle cx="422.9" cy="122.9" r="0.77"/><circle cx="415.8" cy="142.6" r="0.75"/><circle cx="427.3" cy="134.8" r="0.79"/><circle cx="445.6" cy="153.5" r="0.4"/><circle cx="435.8" cy="135.4" r="0.54"/><circle cx="448.7" cy="119.8" r="0.36"/><circle cx="435.1" cy="155.8" r="0.47"/><circle cx="436.2" cy="145.7" r="0.5"/><circle cx="418.4" cy="136.9" r="0.79"/><circle cx="442.8" cy="147.6" r="0.76"/><circle cx="421.9" cy="136.9" r="0.49"/><circle cx="459.4" cy="130.5" r="0.61"/><circle cx="430.2" cy="147" r="0.67"/><circle cx="432.5" cy="160.4" r="0.53"/><circle cx="430.3" cy="144.7" r="0.72"/><circle cx="419.6" cy="144.1" r="0.43"/><circle cx="416.8" cy="151.7" r="0.52"/><circle cx="429.6" cy="162.9" r="0.38"/><circle cx="434.8" cy="119.1" r="0.37"/><circle cx="448.7" cy="129.9" r="0.58"/><circle cx="448.4" cy="153.2" r="0.48"/><circle cx="454.2" cy="130" r="0.65"/><circle cx="414.7" cy="154.7" r="0.38"/><circle cx="425.6" cy="152.5" r="0.38"/><circle cx="443.6" cy="136" r="0.75"/><circle cx="445.6" cy="145.7" r="0.79"/><circle cx="432.7" cy="151.5" r="0.45"/><circle cx="449.1" cy="143" r="0.56"/><circle cx="457.6" cy="150.6" r="0.57"/><circle cx="438.9" cy="130.3" r="0.76"/><circle cx="412.1" cy="135.3" r="0.41"/><circle cx="456.9" cy="150.1" r="0.7"/><circle cx="448.3" cy="131" r="0.48"/><circle cx="413.4" cy="141.2" r="0.46"/><circle cx="419.1" cy="148.5" r="0.42"/><circle cx="416.8" cy="136.5" r="0.66"/><circle cx="424.3" cy="129.9" r="0.44"/><circle cx="437.7" cy="160" r="0.7"/></g>
<g fill="#7226c8" filter="url(#bl)"><circle cx="435.3" cy="119.5" r="0.68" fill-opacity="1"/><circle cx="456.6" cy="129.8" r="0.35" fill-opacity="0.8"/><circle cx="421.3" cy="120" r="0.79" fill-opacity="0.6"/><circle cx="436.8" cy="159" r="0.49" fill-opacity="0.8"/><circle cx="437.2" cy="144.1" r="0.38" fill-opacity="1"/><circle cx="448.9" cy="160" r="0.68" fill-opacity="0.6"/><circle cx="451.1" cy="155.5" r="0.35" fill-opacity="0.9"/><circle cx="439.2" cy="153" r="0.88" fill-opacity="0.9"/><circle cx="450.9" cy="136.9" r="0.49" fill-opacity="0.9"/><circle cx="448.3" cy="135.9" r="0.59" fill-opacity="1"/><circle cx="428.9" cy="164.1" r="0.41" fill-opacity="0.6"/><circle cx="446.4" cy="144.8" r="0.39" fill-opacity="0.8"/><circle cx="435.5" cy="138.7" r="0.4" fill-opacity="0.7"/><circle cx="412.7" cy="143.4" r="0.39" fill-opacity="0.8"/><circle cx="457.3" cy="148.3" r="0.87" fill-opacity="0.6"/><circle cx="449.3" cy="121.6" r="0.35" fill-opacity="0.9"/><circle cx="421.8" cy="132.7" r="0.35" fill-opacity="0.6"/><circle cx="448" cy="137.2" r="0.37" fill-opacity="0.9"/><circle cx="460.1" cy="131.5" r="0.4" fill-opacity="0.7"/><circle cx="439.5" cy="121.3" r="0.35" fill-opacity="0.9"/><circle cx="451.4" cy="122.3" r="0.35" fill-opacity="1"/><circle cx="431.6" cy="147.9" r="0.54" fill-opacity="1"/><circle cx="450.6" cy="133.2" r="0.49" fill-opacity="0.7"/><circle cx="443.2" cy="154.4" r="0.35" fill-opacity="0.6"/><circle cx="458.5" cy="140" r="0.36" fill-opacity="0.6"/><circle cx="411" cy="135.1" r="0.43" fill-opacity="0.7"/><circle cx="445.9" cy="122.2" r="0.45" fill-opacity="0.7"/><circle cx="442.5" cy="137" r="0.35" fill-opacity="0.8"/><circle cx="452.9" cy="158.1" r="0.63" fill-opacity="1"/><circle cx="441.4" cy="119.9" r="0.35" fill-opacity="0.7"/><circle cx="442.6" cy="131.4" r="0.39" fill-opacity="0.8"/><circle cx="452.1" cy="119.6" r="0.87" fill-opacity="0.8"/><circle cx="434" cy="121.8" r="0.46" fill-opacity="0.7"/><circle cx="446.9" cy="154.2" r="0.41" fill-opacity="1"/><circle cx="418.5" cy="122.2" r="0.47" fill-opacity="0.7"/><circle cx="435.2" cy="149.1" r="0.67" fill-opacity="0.9"/><circle cx="440.1" cy="124.5" r="0.66" fill-opacity="0.9"/><circle cx="437.7" cy="118.9" r="0.41" fill-opacity="0.9"/><circle cx="421.8" cy="141.8" r="0.66" fill-opacity="0.9"/><circle cx="450.5" cy="135.5" r="0.56" fill-opacity="0.8"/><circle cx="433.1" cy="139.5" r="0.38" fill-opacity="0.9"/><circle cx="443.9" cy="123.7" r="0.56" fill-opacity="0.9"/><circle cx="426.4" cy="127.8" r="0.63" fill-opacity="0.9"/><circle cx="445.4" cy="127" r="0.75" fill-opacity="0.9"/><circle cx="461.3" cy="133.5" r="0.48" fill-opacity="0.8"/><circle cx="442.4" cy="130.6" r="0.83" fill-opacity="0.8"/><circle cx="432.2" cy="118.8" r="0.63" fill-opacity="0.6"/><circle cx="416" cy="129.2" r="0.57" fill-opacity="0.7"/><circle cx="439.7" cy="119.7" r="0.55" fill-opacity="0.9"/><circle cx="439.1" cy="144.8" r="0.44" fill-opacity="0.8"/><circle cx="431.3" cy="128.5" r="0.55" fill-opacity="0.6"/><circle cx="439.2" cy="158.8" r="0.35" fill-opacity="0.6"/><circle cx="442.9" cy="154.6" r="0.36" fill-opacity="0.6"/><circle cx="422.9" cy="153.1" r="0.54" fill-opacity="0.8"/><circle cx="447.6" cy="132.7" r="0.35" fill-opacity="0.7"/><circle cx="424" cy="148.3" r="0.35" fill-opacity="0.9"/><circle cx="452.7" cy="144.2" r="0.54" fill-opacity="0.6"/><circle cx="425.8" cy="157.3" r="0.52" fill-opacity="1"/><circle cx="415.5" cy="152.1" r="0.7" fill-opacity="0.8"/><circle cx="446.8" cy="153.4" r="0.53" fill-opacity="0.8"/><circle cx="461.5" cy="135.4" r="0.53" fill-opacity="0.7"/><circle cx="461.3" cy="140.6" r="0.35" fill-opacity="0.8"/><circle cx="449.7" cy="156.7" r="0.55" fill-opacity="1"/><circle cx="421.1" cy="147.5" r="0.37" fill-opacity="0.7"/><circle cx="417.6" cy="158.2" r="0.85" fill-opacity="1"/><circle cx="435.1" cy="161.1" r="0.88" fill-opacity="0.8"/><circle cx="429" cy="156.4" r="0.88" fill-opacity="0.8"/><circle cx="421.7" cy="142.6" r="0.36" fill-opacity="0.8"/><circle cx="431.6" cy="157.9" r="0.67" fill-opacity="0.9"/><circle cx="432.8" cy="139.8" r="0.38" fill-opacity="1"/><circle cx="437" cy="163.8" r="0.38" fill-opacity="0.6"/><circle cx="429.4" cy="165.5" r="0.53" fill-opacity="0.8"/><circle cx="419.4" cy="127.5" r="0.64" fill-opacity="0.6"/><circle cx="429.2" cy="162.4" r="0.49" fill-opacity="0.7"/><circle cx="421.6" cy="137.7" r="0.45" fill-opacity="0.7"/><circle cx="417.1" cy="128.2" r="0.35" fill-opacity="0.7"/><circle cx="452.3" cy="131.4" r="0.77" fill-opacity="0.8"/><circle cx="437.1" cy="136.7" r="0.43" fill-opacity="0.8"/><circle cx="421.3" cy="124" r="0.46" fill-opacity="1"/><circle cx="423.2" cy="151.1" r="0.74" fill-opacity="0.6"/><circle cx="443.7" cy="127.3" r="0.35" fill-opacity="0.9"/><circle cx="416.2" cy="149.6" r="0.39" fill-opacity="0.9"/><circle cx="452.1" cy="160" r="0.46" fill-opacity="0.8"/><circle cx="427.1" cy="157.1" r="0.36" fill-opacity="0.8"/><circle cx="458" cy="150.4" r="0.37" fill-opacity="0.9"/><circle cx="424.2" cy="120.4" r="0.35" fill-opacity="0.9"/><circle cx="462.3" cy="140.2" r="0.6" fill-opacity="0.6"/><circle cx="441.1" cy="164.2" r="0.56" fill-opacity="1"/><circle cx="451.3" cy="157.2" r="0.39" fill-opacity="1"/><circle cx="427.9" cy="133.5" r="0.43" fill-opacity="0.6"/><circle cx="456.7" cy="146.2" r="0.35" fill-opacity="0.7"/><circle cx="443.8" cy="143.3" r="0.51" fill-opacity="0.9"/><circle cx="452.8" cy="158.9" r="0.44" fill-opacity="0.7"/><circle cx="415.7" cy="141.9" r="0.83" fill-opacity="0.7"/><circle cx="434.1" cy="133.9" r="0.36" fill-opacity="0.8"/><circle cx="452.6" cy="130.3" r="0.5" fill-opacity="0.8"/><circle cx="422.9" cy="136" r="0.38" fill-opacity="0.9"/><circle cx="449.3" cy="154.9" r="0.37" fill-opacity="0.7"/><circle cx="446.2" cy="161" r="0.61" fill-opacity="0.8"/><circle cx="432.2" cy="133.1" r="0.35" fill-opacity="0.6"/><circle cx="437.9" cy="161" r="0.76" fill-opacity="0.8"/><circle cx="440.9" cy="125.5" r="0.35" fill-opacity="0.9"/><circle cx="440.4" cy="146.1" r="0.84" fill-opacity="0.9"/><circle cx="446.3" cy="149.3" r="0.87" fill-opacity="0.8"/><circle cx="451.7" cy="158.9" r="0.55" fill-opacity="0.7"/><circle cx="429.6" cy="152.2" r="0.54" fill-opacity="0.7"/><circle cx="447.5" cy="153.3" r="0.72" fill-opacity="0.8"/><circle cx="414.7" cy="150.1" r="0.74" fill-opacity="0.8"/><circle cx="417.9" cy="131.4" r="0.63" fill-opacity="0.7"/><circle cx="445.3" cy="142.4" r="0.37" fill-opacity="0.6"/><circle cx="411.8" cy="143.4" r="0.65" fill-opacity="0.6"/><circle cx="450.7" cy="128.7" r="0.54" fill-opacity="0.7"/><circle cx="451.4" cy="151.3" r="0.36" fill-opacity="0.6"/><circle cx="423.8" cy="151.5" r="0.77" fill-opacity="0.6"/><circle cx="434" cy="154.3" r="0.36" fill-opacity="0.7"/><circle cx="422.9" cy="142" r="0.35" fill-opacity="1"/><circle cx="451.8" cy="134.2" r="0.59" fill-opacity="0.9"/><circle cx="453.9" cy="134.3" r="0.35" fill-opacity="0.9"/><circle cx="429.6" cy="127.3" r="0.62" fill-opacity="0.6"/><circle cx="448.9" cy="142.5" r="0.37" fill-opacity="0.6"/><circle cx="453.4" cy="137.7" r="0.41" fill-opacity="0.7"/><circle cx="432.6" cy="158.6" r="0.63" fill-opacity="0.9"/><circle cx="437.1" cy="151.9" r="0.58" fill-opacity="1"/><circle cx="416.9" cy="149.5" r="0.87" fill-opacity="0.6"/><circle cx="437.7" cy="133.3" r="0.43" fill-opacity="0.6"/><circle cx="456.3" cy="139.2" r="0.48" fill-opacity="0.7"/><circle cx="444.5" cy="144.4" r="0.78" fill-opacity="0.8"/><circle cx="460.4" cy="148.9" r="0.37" fill-opacity="0.6"/><circle cx="452.4" cy="146.8" r="0.38" fill-opacity="0.7"/><circle cx="450.9" cy="145.3" r="0.35" fill-opacity="1"/><circle cx="424.4" cy="139.9" r="0.42" fill-opacity="0.8"/><circle cx="433.1" cy="148.3" r="0.35" fill-opacity="0.8"/><circle cx="415.8" cy="125.9" r="0.74" fill-opacity="0.6"/><circle cx="432.4" cy="139.5" r="0.46" fill-opacity="0.8"/><circle cx="424.5" cy="128.7" r="0.62" fill-opacity="1"/><circle cx="421.9" cy="145.3" r="0.71" fill-opacity="0.7"/><circle cx="432.7" cy="149.6" r="0.35" fill-opacity="0.9"/><circle cx="427.2" cy="162.5" r="0.36" fill-opacity="0.6"/><circle cx="448.3" cy="147.5" r="0.44" fill-opacity="0.8"/><circle cx="449.2" cy="145.7" r="0.6" fill-opacity="0.6"/><circle cx="433.6" cy="152.7" r="0.41" fill-opacity="0.6"/><circle cx="429.5" cy="156.7" r="0.64" fill-opacity="0.8"/><circle cx="422.3" cy="120.1" r="0.65" fill-opacity="0.8"/><circle cx="443.8" cy="124.1" r="0.57" fill-opacity="1"/><circle cx="429.6" cy="119" r="0.38" fill-opacity="0.9"/><circle cx="448" cy="152.8" r="0.35" fill-opacity="0.6"/><circle cx="430" cy="127.8" r="0.38" fill-opacity="0.6"/><circle cx="414.7" cy="132.4" r="0.35" fill-opacity="0.6"/><circle cx="429.9" cy="148.6" r="0.74" fill-opacity="1"/><circle cx="438.9" cy="161.2" r="0.44" fill-opacity="0.7"/><circle cx="452.2" cy="141.7" r="0.52" fill-opacity="0.9"/><circle cx="455.1" cy="153.2" r="0.49" fill-opacity="0.6"/><circle cx="415.3" cy="147.9" r="0.83" fill-opacity="0.9"/><circle cx="432.3" cy="149.5" r="0.8" fill-opacity="0.8"/><circle cx="419.7" cy="146.9" r="0.66" fill-opacity="1"/><circle cx="455.7" cy="136.8" r="0.53" fill-opacity="0.6"/><circle cx="415.5" cy="152" r="0.35" fill-opacity="1"/><circle cx="431.5" cy="137.9" r="0.46" fill-opacity="0.9"/><circle cx="440.1" cy="157.2" r="0.38" fill-opacity="0.6"/><circle cx="423.8" cy="156.2" r="0.64" fill-opacity="0.7"/><circle cx="436.6" cy="156.7" r="0.88" fill-opacity="0.9"/><circle cx="418.5" cy="124.1" r="0.42" fill-opacity="0.6"/><circle cx="412.4" cy="142" r="0.35" fill-opacity="0.6"/><circle cx="434.6" cy="131.6" r="0.79" fill-opacity="0.6"/><circle cx="425.8" cy="161.5" r="0.59" fill-opacity="0.9"/><circle cx="443" cy="120.5" r="0.41" fill-opacity="0.6"/><circle cx="419.9" cy="130.5" r="0.36" fill-opacity="0.7"/><circle cx="451.7" cy="143.1" r="0.39" fill-opacity="0.7"/><circle cx="431" cy="122.7" r="0.42" fill-opacity="1"/><circle cx="457.6" cy="129.6" r="0.6" fill-opacity="0.9"/><circle cx="442.3" cy="121.8" r="0.41" fill-opacity="0.8"/><circle cx="414.7" cy="137.5" r="0.38" fill-opacity="0.6"/><circle cx="431.1" cy="147.3" r="0.52" fill-opacity="0.9"/><circle cx="428.6" cy="161.5" r="0.82" fill-opacity="0.7"/><circle cx="456.6" cy="150.3" r="0.64" fill-opacity="0.9"/><circle cx="456.9" cy="125.1" r="0.59" fill-opacity="0.9"/><circle cx="418.9" cy="125.9" r="0.37" fill-opacity="0.8"/><circle cx="438.1" cy="165.3" r="0.87" fill-opacity="0.8"/><circle cx="453.5" cy="140.8" r="0.42" fill-opacity="0.6"/><circle cx="453.8" cy="127.8" r="0.8" fill-opacity="0.8"/><circle cx="449.6" cy="151.2" r="0.59" fill-opacity="0.8"/><circle cx="420.6" cy="156.4" r="0.77" fill-opacity="0.6"/><circle cx="434.7" cy="155.6" r="0.54" fill-opacity="1"/><circle cx="428.6" cy="131.9" r="0.66" fill-opacity="0.7"/><circle cx="429.6" cy="137.5" r="0.72" fill-opacity="0.9"/><circle cx="416.8" cy="151.8" r="0.43" fill-opacity="0.8"/><circle cx="428.3" cy="164.1" r="0.38" fill-opacity="0.8"/><circle cx="446.3" cy="164.2" r="0.35" fill-opacity="0.6"/><circle cx="420.4" cy="128.3" r="0.36" fill-opacity="0.6"/><circle cx="423.9" cy="124.1" r="0.59" fill-opacity="0.9"/><circle cx="429.1" cy="141.2" r="0.72" fill-opacity="1"/><circle cx="445.6" cy="128" r="0.56" fill-opacity="1"/><circle cx="432" cy="127.9" r="0.73" fill-opacity="0.8"/><circle cx="439.6" cy="149.1" r="0.36" fill-opacity="0.6"/><circle cx="428.1" cy="133.1" r="0.35" fill-opacity="0.9"/><circle cx="445.6" cy="119.7" r="0.69" fill-opacity="0.9"/><circle cx="460.7" cy="133.8" r="0.55" fill-opacity="1"/><circle cx="443.8" cy="146.1" r="0.35" fill-opacity="0.6"/><circle cx="420.2" cy="144.8" r="0.59" fill-opacity="0.9"/><circle cx="429.4" cy="145.3" r="0.49" fill-opacity="0.7"/><circle cx="428.3" cy="134.9" r="0.41" fill-opacity="0.9"/><circle cx="454.9" cy="136.1" r="0.84" fill-opacity="0.6"/><circle cx="432.2" cy="117.8" r="0.39" fill-opacity="0.6"/><circle cx="425" cy="155.3" r="0.63" fill-opacity="1"/><circle cx="432.1" cy="156.8" r="0.47" fill-opacity="0.9"/><circle cx="415.5" cy="129.8" r="0.39" fill-opacity="0.7"/><circle cx="412.3" cy="137.6" r="0.35" fill-opacity="0.7"/><circle cx="429.6" cy="128.8" r="0.35" fill-opacity="0.7"/><circle cx="427.5" cy="141.8" r="0.88" fill-opacity="0.8"/><circle cx="451.9" cy="133.7" r="0.35" fill-opacity="0.7"/><circle cx="460.2" cy="141.3" r="0.66" fill-opacity="0.7"/><circle cx="436.4" cy="144.5" r="0.45" fill-opacity="0.7"/><circle cx="454.7" cy="146.8" r="0.37" fill-opacity="1"/><circle cx="418.6" cy="143.7" r="0.35" fill-opacity="0.7"/><circle cx="426.5" cy="116.9" r="0.47" fill-opacity="0.6"/><circle cx="439.4" cy="123.7" r="0.44" fill-opacity="0.8"/><circle cx="421.1" cy="120.8" r="0.55" fill-opacity="0.6"/><circle cx="437" cy="135.8" r="0.43" fill-opacity="0.9"/><circle cx="457.1" cy="128.4" r="0.41" fill-opacity="1"/><circle cx="454.3" cy="126.1" r="0.36" fill-opacity="0.9"/><circle cx="453.8" cy="137.4" r="0.89" fill-opacity="0.6"/><circle cx="434.1" cy="158" r="0.45" fill-opacity="0.7"/><circle cx="452" cy="155.7" r="0.36" fill-opacity="0.8"/><circle cx="430.5" cy="145.9" r="0.78" fill-opacity="0.9"/><circle cx="448.8" cy="141.9" r="0.71" fill-opacity="1"/><circle cx="450" cy="156.1" r="0.37" fill-opacity="1"/><circle cx="461.3" cy="145.4" r="0.36" fill-opacity="0.7"/><circle cx="436.7" cy="126.2" r="0.41" fill-opacity="0.9"/><circle cx="425.4" cy="139.2" r="0.87" fill-opacity="0.9"/><circle cx="443.1" cy="146.1" r="0.56" fill-opacity="0.7"/><circle cx="419.9" cy="142.8" r="0.52" fill-opacity="1"/><circle cx="423.9" cy="134.8" r="0.38" fill-opacity="0.8"/><circle cx="451.6" cy="157.3" r="0.46" fill-opacity="0.9"/><circle cx="436.8" cy="137.6" r="0.43" fill-opacity="0.8"/><circle cx="442" cy="120.4" r="0.35" fill-opacity="0.8"/><circle cx="431.9" cy="144.4" r="0.4" fill-opacity="0.6"/><circle cx="422" cy="145.1" r="0.57" fill-opacity="1"/><circle cx="420" cy="137.4" r="0.61" fill-opacity="1"/><circle cx="461.9" cy="138.6" r="0.39" fill-opacity="0.6"/><circle cx="458.8" cy="152.3" r="0.44" fill-opacity="0.9"/><circle cx="421.4" cy="153.1" r="0.81" fill-opacity="0.7"/><circle cx="446" cy="123" r="0.36" fill-opacity="0.7"/><circle cx="419" cy="132.9" r="0.37" fill-opacity="0.8"/><circle cx="442.6" cy="144.3" r="0.4" fill-opacity="0.6"/><circle cx="434.2" cy="166.1" r="0.38" fill-opacity="0.9"/><circle cx="434.7" cy="163.2" r="0.71" fill-opacity="0.8"/><circle cx="424.6" cy="128.2" r="0.38" fill-opacity="0.7"/><circle cx="413.6" cy="149.7" r="0.78" fill-opacity="0.6"/><circle cx="446.5" cy="143.9" r="0.63" fill-opacity="0.8"/><circle cx="439.5" cy="141.4" r="0.71" fill-opacity="0.8"/><circle cx="460.2" cy="146.6" r="0.52" fill-opacity="0.6"/><circle cx="419.1" cy="126" r="0.54" fill-opacity="0.6"/><circle cx="456" cy="156.9" r="0.35" fill-opacity="0.9"/><circle cx="444.5" cy="144.1" r="0.45" fill-opacity="0.8"/><circle cx="431.9" cy="116.1" r="0.35" fill-opacity="0.8"/><circle cx="454" cy="157.1" r="0.65" fill-opacity="0.7"/><circle cx="451.5" cy="140.6" r="0.65" fill-opacity="0.8"/><circle cx="412" cy="145.8" r="0.36" fill-opacity="0.6"/><circle cx="449.9" cy="135.8" r="0.37" fill-opacity="0.6"/><circle cx="450.7" cy="148.2" r="0.43" fill-opacity="0.8"/><circle cx="446.2" cy="159.6" r="0.36" fill-opacity="0.8"/><circle cx="415.5" cy="147.7" r="0.51" fill-opacity="1"/><circle cx="435.2" cy="151.3" r="0.47" fill-opacity="0.8"/><circle cx="412.9" cy="132" r="0.57" fill-opacity="0.7"/><circle cx="448.5" cy="120.5" r="0.39" fill-opacity="0.6"/><circle cx="427.5" cy="151.5" r="0.78" fill-opacity="0.7"/><circle cx="422.9" cy="124.2" r="0.85" fill-opacity="0.6"/><circle cx="424.4" cy="160.3" r="0.35" fill-opacity="0.8"/><circle cx="415.3" cy="128.5" r="0.35" fill-opacity="1"/><circle cx="425.3" cy="127.7" r="0.62" fill-opacity="0.7"/><circle cx="428.1" cy="155.8" r="0.35" fill-opacity="0.6"/><circle cx="417.4" cy="152.5" r="0.75" fill-opacity="0.6"/><circle cx="442.9" cy="154.2" r="0.83" fill-opacity="0.9"/><circle cx="411.5" cy="139.5" r="0.35" fill-opacity="0.7"/><circle cx="449.5" cy="142.7" r="0.51" fill-opacity="0.7"/><circle cx="426.9" cy="139.8" r="0.82" fill-opacity="1"/><circle cx="451.2" cy="151.6" r="0.66" fill-opacity="0.6"/><circle cx="453.5" cy="150.4" r="0.88" fill-opacity="0.8"/><circle cx="433.9" cy="158.2" r="0.5" fill-opacity="1"/><circle cx="440.9" cy="157.7" r="0.48" fill-opacity="1"/><circle cx="425.1" cy="127.9" r="0.81" fill-opacity="0.7"/><circle cx="413" cy="136.2" r="0.36" fill-opacity="0.6"/><circle cx="411.5" cy="145.9" r="0.44" fill-opacity="1"/><circle cx="416.1" cy="140.5" r="0.38" fill-opacity="0.9"/><circle cx="422.5" cy="143.1" r="0.65" fill-opacity="0.8"/><circle cx="439.5" cy="150.5" r="0.6" fill-opacity="0.9"/><circle cx="445.7" cy="140.4" r="0.36" fill-opacity="0.6"/><circle cx="428.1" cy="143.4" r="0.54" fill-opacity="0.9"/><circle cx="432.8" cy="129.6" r="0.35" fill-opacity="0.8"/><circle cx="427.7" cy="151.4" r="0.35" fill-opacity="0.9"/><circle cx="437.3" cy="130.5" r="0.4" fill-opacity="0.8"/><circle cx="415.1" cy="142" r="0.76" fill-opacity="1"/><circle cx="429" cy="153.2" r="0.76" fill-opacity="0.6"/><circle cx="421.2" cy="149.5" r="0.87" fill-opacity="0.6"/><circle cx="437.4" cy="119" r="0.62" fill-opacity="0.6"/><circle cx="426.7" cy="164" r="0.74" fill-opacity="0.8"/><circle cx="445.6" cy="125.5" r="0.58" fill-opacity="0.7"/><circle cx="413.7" cy="139.8" r="0.61" fill-opacity="0.8"/><circle cx="449.1" cy="160.3" r="0.47" fill-opacity="0.6"/><circle cx="439.6" cy="117.3" r="0.72" fill-opacity="0.6"/><circle cx="416.9" cy="143.1" r="0.36" fill-opacity="0.6"/><circle cx="452" cy="119.9" r="0.37" fill-opacity="0.9"/><circle cx="420.3" cy="154.7" r="0.56" fill-opacity="0.7"/><circle cx="450.9" cy="141.4" r="0.57" fill-opacity="0.8"/><circle cx="413.5" cy="140" r="0.44" fill-opacity="0.7"/><circle cx="420.5" cy="156.8" r="0.53" fill-opacity="0.9"/><circle cx="429.3" cy="123.9" r="0.35" fill-opacity="0.7"/><circle cx="450.9" cy="159.8" r="0.35" fill-opacity="0.6"/><circle cx="454.6" cy="154.8" r="0.45" fill-opacity="0.7"/><circle cx="413" cy="144" r="0.48" fill-opacity="0.6"/><circle cx="439" cy="117.1" r="0.54" fill-opacity="0.9"/><circle cx="432" cy="120.1" r="0.74" fill-opacity="0.8"/><circle cx="439.7" cy="137.6" r="0.89" fill-opacity="0.6"/><circle cx="432.3" cy="146.9" r="0.35" fill-opacity="0.7"/><circle cx="438" cy="149" r="0.35" fill-opacity="0.7"/><circle cx="434.4" cy="125.5" r="0.42" fill-opacity="0.6"/><circle cx="456.6" cy="124.8" r="0.59" fill-opacity="0.6"/><circle cx="419.9" cy="145.7" r="0.43" fill-opacity="0.6"/><circle cx="438.4" cy="122.4" r="0.6" fill-opacity="0.9"/><circle cx="438.2" cy="118.6" r="0.76" fill-opacity="1"/><circle cx="416" cy="152.3" r="0.57" fill-opacity="0.8"/><circle cx="430.8" cy="116.5" r="0.44" fill-opacity="0.6"/><circle cx="436.4" cy="156.2" r="0.59" fill-opacity="0.9"/><circle cx="424.3" cy="137.9" r="0.73" fill-opacity="0.7"/><circle cx="429.3" cy="135" r="0.41" fill-opacity="0.6"/><circle cx="451.3" cy="141.1" r="0.36" fill-opacity="0.7"/><circle cx="445.8" cy="140.9" r="0.5" fill-opacity="1"/><circle cx="425.3" cy="161.8" r="0.81" fill-opacity="0.6"/><circle cx="447.5" cy="141" r="0.35" fill-opacity="0.8"/><circle cx="413.6" cy="143.7" r="0.69" fill-opacity="0.8"/><circle cx="416.8" cy="124.7" r="0.49" fill-opacity="0.6"/><circle cx="419.9" cy="147" r="0.71" fill-opacity="0.7"/><circle cx="442.5" cy="126.8" r="0.35" fill-opacity="0.8"/><circle cx="429.7" cy="129.2" r="0.53" fill-opacity="0.6"/><circle cx="417.4" cy="152.9" r="0.4" fill-opacity="0.9"/><circle cx="427.9" cy="162.2" r="0.58" fill-opacity="0.6"/><circle cx="453.3" cy="150.1" r="0.56" fill-opacity="1"/><circle cx="457" cy="145.9" r="0.48" fill-opacity="0.8"/><circle cx="446.9" cy="155.2" r="0.38" fill-opacity="0.8"/><circle cx="432.8" cy="133.5" r="0.37" fill-opacity="0.7"/><circle cx="433.5" cy="148.8" r="0.82" fill-opacity="0.7"/><circle cx="431.3" cy="147.9" r="0.84" fill-opacity="0.6"/><circle cx="440.5" cy="156" r="0.59" fill-opacity="0.8"/><circle cx="442.3" cy="133.6" r="0.4" fill-opacity="0.9"/><circle cx="449" cy="127.4" r="0.35" fill-opacity="0.7"/><circle cx="435.1" cy="155.2" r="0.71" fill-opacity="0.8"/><circle cx="420.2" cy="139.8" r="0.73" fill-opacity="0.8"/><circle cx="426.3" cy="125.4" r="0.54" fill-opacity="0.7"/><circle cx="448.4" cy="153.5" r="0.44" fill-opacity="0.9"/><circle cx="426.3" cy="151.9" r="0.53" fill-opacity="0.8"/><circle cx="425.2" cy="144.4" r="0.63" fill-opacity="0.6"/><circle cx="436.7" cy="131" r="0.79" fill-opacity="0.6"/><circle cx="430.5" cy="134.5" r="0.38" fill-opacity="0.8"/><circle cx="431" cy="142" r="0.36" fill-opacity="0.7"/><circle cx="414.3" cy="139.1" r="0.74" fill-opacity="0.9"/><circle cx="448.5" cy="123.3" r="0.36" fill-opacity="0.8"/><circle cx="425.4" cy="129.5" r="0.35" fill-opacity="0.9"/><circle cx="439.9" cy="124.3" r="0.83" fill-opacity="1"/><circle cx="447" cy="127.2" r="0.9" fill-opacity="0.6"/><circle cx="433.1" cy="117.9" r="0.45" fill-opacity="0.7"/></g>
<radialGradient id="g6"><stop offset="0" stop-color="#d4c9de"/><stop offset="0.75" stop-color="#d4c9de"/><stop offset="1" stop-color="#c6b8d4"/></radialGradient>
<ellipse cx="514.4" cy="140.7" rx="29.2" ry="29.4" fill="#cdc3d8" stroke="#a296b4" stroke-width="0.8"/>
<ellipse cx="514.4" cy="140.7" rx="27.01" ry="27.2" fill="url(#g6)"/>
<ellipse cx="514.4" cy="140.7" rx="26.21" ry="26.39" fill="none" stroke="#7b48c4" stroke-opacity="0.5" stroke-width="1.6"/>
<g fill="#7226c8" fill-opacity="0.2"><circle cx="506.6" cy="131.4" r="0.66"/><circle cx="517.2" cy="126.1" r="0.38"/><circle cx="511.8" cy="143.8" r="0.65"/><circle cx="537" cy="132.8" r="0.76"/><circle cx="494.9" cy="124" r="0.55"/><circle cx="509" cy="138.2" r="0.76"/><circle cx="491.7" cy="145.2" r="0.64"/><circle cx="537.2" cy="139.9" r="0.67"/><circle cx="533.7" cy="135.6" r="0.79"/><circle cx="514.9" cy="140.6" r="0.48"/><circle cx="514.1" cy="141.6" r="0.41"/><circle cx="514.9" cy="139.3" r="0.52"/><circle cx="512.9" cy="132" r="0.44"/><circle cx="501.6" cy="149.2" r="0.5"/><circle cx="522.3" cy="161.7" r="0.72"/><circle cx="498.5" cy="148.3" r="0.5"/><circle cx="515.7" cy="165.8" r="0.54"/><circle cx="524" cy="150" r="0.36"/><circle cx="522.8" cy="120.8" r="0.49"/><circle cx="521.4" cy="124.8" r="0.37"/><circle cx="513.2" cy="127" r="0.46"/><circle cx="501.6" cy="138.3" r="0.47"/><circle cx="524.1" cy="144.1" r="0.79"/><circle cx="515.7" cy="164.3" r="0.4"/><circle cx="496.2" cy="136.3" r="0.77"/><circle cx="525.4" cy="152.6" r="0.73"/><circle cx="514.7" cy="150.8" r="0.45"/><circle cx="538.1" cy="135.3" r="0.52"/><circle cx="508.5" cy="120.8" r="0.55"/><circle cx="505.1" cy="162.3" r="0.68"/><circle cx="521" cy="149" r="0.42"/><circle cx="525.1" cy="138.1" r="0.46"/><circle cx="535.4" cy="142.5" r="0.74"/><circle cx="503.2" cy="121.1" r="0.79"/><circle cx="514.7" cy="136" r="0.4"/><circle cx="539.6" cy="142.1" r="0.49"/><circle cx="495.4" cy="144.1" r="0.71"/><circle cx="519.6" cy="136.3" r="0.36"/><circle cx="520.1" cy="115.8" r="0.36"/><circle cx="518.9" cy="144.9" r="0.39"/><circle cx="516.7" cy="151.1" r="0.59"/><circle cx="514.4" cy="159.1" r="0.79"/><circle cx="494.4" cy="139.3" r="0.72"/><circle cx="528.7" cy="126" r="0.72"/><circle cx="525.4" cy="129.6" r="0.63"/><circle cx="512.5" cy="144" r="0.66"/><circle cx="507.8" cy="119.8" r="0.7"/><circle cx="532.9" cy="128.4" r="0.47"/><circle cx="533.4" cy="124.7" r="0.71"/><circle cx="504.4" cy="133.2" r="0.74"/><circle cx="519.8" cy="164.2" r="0.37"/><circle cx="531.2" cy="150.2" r="0.59"/><circle cx="520.8" cy="147.1" r="0.74"/><circle cx="533.3" cy="148.6" r="0.59"/><circle cx="501" cy="145" r="0.69"/><circle cx="538.7" cy="144.7" r="0.35"/><circle cx="530.5" cy="159.9" r="0.72"/><circle cx="496.4" cy="130.4" r="0.64"/><circle cx="523.6" cy="126.8" r="0.78"/><circle cx="515.2" cy="154.5" r="0.54"/><circle cx="499.4" cy="135.6" r="0.77"/><circle cx="527.9" cy="134.5" r="0.47"/><circle cx="514.4" cy="124.7" r="0.66"/><circle cx="495.9" cy="124.2" r="0.48"/><circle cx="514.2" cy="164.2" r="0.36"/><circle cx="529" cy="137.7" r="0.36"/><circle cx="506.8" cy="117.7" r="0.65"/><circle cx="520.6" cy="160.2" r="0.57"/><circle cx="527.6" cy="118.2" r="0.54"/><circle cx="499" cy="148.8" r="0.51"/><circle cx="518.5" cy="156.1" r="0.76"/><circle cx="516.9" cy="144.1" r="0.62"/><circle cx="504.9" cy="118.6" r="0.41"/><circle cx="532.6" cy="138.9" r="0.74"/><circle cx="526.8" cy="139.2" r="0.8"/><circle cx="520.6" cy="132.6" r="0.44"/><circle cx="509.8" cy="143.8" r="0.79"/><circle cx="523.6" cy="161" r="0.73"/><circle cx="517.8" cy="126.7" r="0.59"/><circle cx="493.3" cy="141" r="0.64"/><circle cx="532.3" cy="131.3" r="0.57"/><circle cx="490.6" cy="138.7" r="0.39"/><circle cx="528.8" cy="126.2" r="0.54"/><circle cx="502.5" cy="128.6" r="0.47"/><circle cx="502.1" cy="140.6" r="0.4"/><circle cx="497.8" cy="146.8" r="0.56"/><circle cx="498.1" cy="134.4" r="0.7"/><circle cx="492.2" cy="150.8" r="0.65"/><circle cx="518.4" cy="154.1" r="0.57"/><circle cx="509.3" cy="153.7" r="0.65"/><circle cx="523.7" cy="157.8" r="0.61"/><circle cx="514.7" cy="166.8" r="0.67"/><circle cx="510.9" cy="126" r="0.77"/><circle cx="529.3" cy="119.6" r="0.48"/><circle cx="531.9" cy="157.1" r="0.72"/><circle cx="535.4" cy="137.1" r="0.52"/><circle cx="490" cy="143.6" r="0.39"/><circle cx="528" cy="161.9" r="0.64"/><circle cx="504.1" cy="121.7" r="0.64"/><circle cx="504" cy="117.5" r="0.37"/><circle cx="532.9" cy="134.2" r="0.71"/><circle cx="497.6" cy="136.6" r="0.69"/><circle cx="536.6" cy="147.1" r="0.48"/><circle cx="530.6" cy="142.2" r="0.64"/><circle cx="511.1" cy="160.9" r="0.62"/><circle cx="489.4" cy="146.6" r="0.44"/><circle cx="506.5" cy="124.9" r="0.43"/><circle cx="499.1" cy="126.2" r="0.35"/><circle cx="532.6" cy="143.6" r="0.6"/><circle cx="523.7" cy="149.2" r="0.54"/><circle cx="534.5" cy="146.4" r="0.7"/><circle cx="499.4" cy="134.4" r="0.6"/><circle cx="528.8" cy="151.9" r="0.38"/><circle cx="528.2" cy="140.3" r="0.63"/><circle cx="508.1" cy="136.4" r="0.58"/><circle cx="509.6" cy="129" r="0.76"/><circle cx="489.5" cy="134.4" r="0.75"/><circle cx="506.7" cy="164.4" r="0.57"/><circle cx="516.3" cy="129.4" r="0.76"/><circle cx="502.3" cy="159.2" r="0.7"/><circle cx="521.1" cy="155.7" r="0.54"/><circle cx="526.8" cy="136.7" r="0.36"/><circle cx="493.3" cy="151.7" r="0.36"/><circle cx="498.2" cy="158.3" r="0.41"/><circle cx="493.5" cy="143.9" r="0.55"/><circle cx="521.7" cy="154" r="0.75"/><circle cx="522" cy="144.5" r="0.56"/><circle cx="500.9" cy="157.7" r="0.77"/><circle cx="492.3" cy="130.9" r="0.75"/><circle cx="523.7" cy="164.4" r="0.46"/><circle cx="501.1" cy="162.3" r="0.78"/><circle cx="501.5" cy="121.9" r="0.65"/><circle cx="526.5" cy="122.5" r="0.63"/><circle cx="522.6" cy="144" r="0.41"/><circle cx="527.2" cy="159.5" r="0.36"/><circle cx="513" cy="155" r="0.72"/><circle cx="537.3" cy="140.9" r="0.52"/><circle cx="507.7" cy="160.1" r="0.78"/><circle cx="535.8" cy="150.9" r="0.49"/><circle cx="539.4" cy="137.8" r="0.41"/><circle cx="512.7" cy="128.7" r="0.54"/><circle cx="509.2" cy="130" r="0.65"/><circle cx="510.5" cy="141.9" r="0.6"/><circle cx="513.8" cy="155.2" r="0.75"/><circle cx="520.7" cy="143.3" r="0.55"/><circle cx="517.9" cy="146" r="0.52"/><circle cx="529" cy="129" r="0.45"/><circle cx="503.5" cy="135.9" r="0.54"/><circle cx="521.4" cy="145" r="0.65"/><circle cx="519.7" cy="161.6" r="0.43"/><circle cx="508.1" cy="146.7" r="0.75"/><circle cx="524.5" cy="120.8" r="0.69"/><circle cx="531.8" cy="142.1" r="0.4"/><circle cx="519.7" cy="138.4" r="0.54"/><circle cx="505.4" cy="162.5" r="0.42"/><circle cx="524.6" cy="158.6" r="0.74"/><circle cx="501.4" cy="154.1" r="0.5"/><circle cx="505.2" cy="160.2" r="0.48"/><circle cx="495.1" cy="126.3" r="0.39"/><circle cx="493.1" cy="149.5" r="0.45"/><circle cx="517" cy="128.1" r="0.44"/><circle cx="524.2" cy="159.3" r="0.53"/><circle cx="518.8" cy="160.3" r="0.36"/><circle cx="502.8" cy="128.3" r="0.38"/><circle cx="507" cy="156.5" r="0.67"/><circle cx="519.7" cy="145.1" r="0.37"/><circle cx="500.2" cy="122.1" r="0.7"/><circle cx="534.9" cy="136.5" r="0.48"/><circle cx="513.6" cy="139.5" r="0.44"/><circle cx="523.4" cy="146.6" r="0.65"/><circle cx="526.8" cy="161.4" r="0.5"/><circle cx="513" cy="115.5" r="0.8"/><circle cx="506.8" cy="130.2" r="0.35"/><circle cx="498.4" cy="145.2" r="0.46"/><circle cx="529.5" cy="143.5" r="0.74"/><circle cx="506" cy="144.1" r="0.44"/><circle cx="502.7" cy="155.1" r="0.73"/><circle cx="531.3" cy="127.3" r="0.61"/><circle cx="516" cy="136.7" r="0.46"/><circle cx="504.4" cy="119.4" r="0.46"/><circle cx="506" cy="116.5" r="0.57"/><circle cx="518.9" cy="153.4" r="0.38"/><circle cx="514.2" cy="144.9" r="0.45"/><circle cx="505" cy="163.6" r="0.79"/><circle cx="524.6" cy="156" r="0.38"/><circle cx="531.2" cy="160.6" r="0.61"/><circle cx="503.4" cy="158.8" r="0.42"/><circle cx="495.4" cy="143.3" r="0.56"/><circle cx="520.8" cy="149" r="0.54"/><circle cx="511.3" cy="128.2" r="0.6"/><circle cx="498" cy="139.6" r="0.67"/><circle cx="536.7" cy="132.7" r="0.58"/><circle cx="506.4" cy="156.2" r="0.58"/><circle cx="528.6" cy="139.7" r="0.63"/><circle cx="511" cy="122.6" r="0.69"/><circle cx="510" cy="127.3" r="0.69"/><circle cx="500.6" cy="134.5" r="0.66"/><circle cx="513.7" cy="135" r="0.52"/><circle cx="517.5" cy="125.4" r="0.44"/><circle cx="512.8" cy="140.4" r="0.46"/><circle cx="511" cy="165.7" r="0.72"/><circle cx="521.6" cy="126.1" r="0.7"/><circle cx="512" cy="117.5" r="0.76"/><circle cx="497.8" cy="122" r="0.76"/><circle cx="524.7" cy="147.7" r="0.72"/><circle cx="501.8" cy="126.3" r="0.36"/><circle cx="516.2" cy="129.4" r="0.42"/><circle cx="536.3" cy="130.7" r="0.69"/><circle cx="510.6" cy="132.4" r="0.76"/><circle cx="509.9" cy="143.6" r="0.39"/><circle cx="528.2" cy="161.5" r="0.73"/><circle cx="520.9" cy="118.5" r="0.78"/><circle cx="534.4" cy="153.7" r="0.7"/><circle cx="529.2" cy="137.8" r="0.5"/><circle cx="500.9" cy="139.7" r="0.53"/><circle cx="494.9" cy="148.1" r="0.54"/><circle cx="533.9" cy="138.7" r="0.55"/><circle cx="508.2" cy="118.1" r="0.5"/><circle cx="504.3" cy="137.1" r="0.56"/><circle cx="500" cy="140.6" r="0.53"/><circle cx="497.2" cy="141.1" r="0.76"/><circle cx="531.4" cy="127.8" r="0.68"/><circle cx="513.8" cy="158.7" r="0.66"/><circle cx="534.9" cy="146.1" r="0.4"/><circle cx="509.6" cy="165.8" r="0.35"/><circle cx="538.1" cy="135.9" r="0.65"/><circle cx="506" cy="162.4" r="0.51"/><circle cx="530.7" cy="151.5" r="0.49"/><circle cx="499.5" cy="155" r="0.64"/><circle cx="539.9" cy="139.8" r="0.79"/><circle cx="500.1" cy="135.2" r="0.52"/><circle cx="524.7" cy="141.6" r="0.52"/><circle cx="504" cy="160.9" r="0.55"/><circle cx="514.3" cy="150" r="0.75"/><circle cx="537.2" cy="135.3" r="0.59"/><circle cx="504" cy="134.9" r="0.46"/><circle cx="507.9" cy="153.5" r="0.67"/><circle cx="512.2" cy="163" r="0.73"/><circle cx="527.7" cy="160.8" r="0.38"/><circle cx="521.8" cy="158.1" r="0.8"/><circle cx="508.1" cy="131.2" r="0.39"/><circle cx="507.2" cy="160" r="0.46"/><circle cx="513.8" cy="158.7" r="0.66"/><circle cx="510.8" cy="164.9" r="0.52"/><circle cx="528.3" cy="128.8" r="0.39"/><circle cx="520.2" cy="151.6" r="0.76"/><circle cx="519.2" cy="127" r="0.74"/><circle cx="491.5" cy="149.4" r="0.51"/><circle cx="500.3" cy="143.3" r="0.74"/><circle cx="527.4" cy="136.1" r="0.73"/><circle cx="514.6" cy="151.1" r="0.65"/><circle cx="525.2" cy="143.4" r="0.51"/><circle cx="508" cy="156.7" r="0.62"/><circle cx="533.5" cy="130.5" r="0.65"/><circle cx="536.1" cy="148.6" r="0.65"/><circle cx="515.7" cy="158.8" r="0.36"/><circle cx="529.5" cy="161.3" r="0.41"/><circle cx="519.8" cy="153" r="0.62"/><circle cx="515.4" cy="158.9" r="0.57"/><circle cx="490.9" cy="140.5" r="0.78"/><circle cx="513.2" cy="163.5" r="0.58"/><circle cx="522" cy="150.3" r="0.4"/><circle cx="519.5" cy="163" r="0.77"/><circle cx="511.7" cy="133.7" r="0.48"/></g>
<g fill="#7226c8" filter="url(#bl)"><circle cx="524.4" cy="119.9" r="0.46" fill-opacity="0.7"/><circle cx="514.1" cy="140.2" r="0.45" fill-opacity="0.9"/><circle cx="516.4" cy="124.9" r="0.38" fill-opacity="0.9"/><circle cx="495.5" cy="152.1" r="0.49" fill-opacity="0.9"/><circle cx="503.7" cy="136.9" r="0.69" fill-opacity="0.7"/><circle cx="505.3" cy="119.3" r="0.73" fill-opacity="0.7"/><circle cx="516.8" cy="133.2" r="0.69" fill-opacity="0.8"/><circle cx="517" cy="148.2" r="0.55" fill-opacity="0.7"/><circle cx="493" cy="127.3" r="0.37" fill-opacity="0.8"/><circle cx="528.5" cy="134.3" r="0.8" fill-opacity="0.8"/><circle cx="507.7" cy="120.9" r="0.69" fill-opacity="1"/><circle cx="511.6" cy="144.1" r="0.53" fill-opacity="0.7"/><circle cx="531.1" cy="151.4" r="0.77" fill-opacity="0.8"/><circle cx="509.8" cy="133.1" r="0.39" fill-opacity="0.6"/><circle cx="526" cy="154.5" r="0.37" fill-opacity="0.9"/><circle cx="535.9" cy="142.4" r="0.67" fill-opacity="0.6"/><circle cx="526.7" cy="132.2" r="0.54" fill-opacity="0.7"/><circle cx="502.2" cy="150.9" r="0.36" fill-opacity="1"/><circle cx="509.1" cy="143.5" r="0.64" fill-opacity="0.7"/><circle cx="515.2" cy="166.4" r="0.88" fill-opacity="1"/><circle cx="530.6" cy="127.1" r="0.44" fill-opacity="0.9"/><circle cx="491.5" cy="138.3" r="0.45" fill-opacity="0.9"/><circle cx="528.6" cy="149.2" r="0.64" fill-opacity="0.7"/><circle cx="518.2" cy="123" r="0.36" fill-opacity="0.6"/><circle cx="506.7" cy="135.8" r="0.41" fill-opacity="0.7"/><circle cx="530" cy="133" r="0.38" fill-opacity="0.7"/><circle cx="496" cy="124.9" r="0.38" fill-opacity="0.8"/><circle cx="525.6" cy="154.7" r="0.41" fill-opacity="0.7"/><circle cx="504.1" cy="161.6" r="0.57" fill-opacity="1"/><circle cx="496.8" cy="158.2" r="0.53" fill-opacity="0.7"/><circle cx="498.2" cy="141.9" r="0.68" fill-opacity="1"/><circle cx="528.3" cy="141.2" r="0.44" fill-opacity="0.6"/><circle cx="515.1" cy="136.2" r="0.35" fill-opacity="0.9"/><circle cx="528.8" cy="134.8" r="0.74" fill-opacity="0.6"/><circle cx="525.1" cy="137" r="0.54" fill-opacity="0.7"/><circle cx="523.3" cy="119.5" r="0.47" fill-opacity="0.8"/><circle cx="509.1" cy="147" r="0.36" fill-opacity="0.8"/><circle cx="526.8" cy="156.6" r="0.55" fill-opacity="0.6"/><circle cx="509.3" cy="134" r="0.45" fill-opacity="1"/><circle cx="508.2" cy="121" r="0.36" fill-opacity="0.9"/><circle cx="508.9" cy="135.6" r="0.8" fill-opacity="1"/><circle cx="491.1" cy="148" r="0.6" fill-opacity="0.9"/><circle cx="523.4" cy="137.3" r="0.8" fill-opacity="0.7"/><circle cx="492.9" cy="148.2" r="0.38" fill-opacity="0.9"/><circle cx="516.4" cy="134.5" r="0.87" fill-opacity="0.7"/><circle cx="536" cy="153.3" r="0.74" fill-opacity="0.7"/><circle cx="491.4" cy="151.5" r="0.81" fill-opacity="0.6"/><circle cx="517.5" cy="133.7" r="0.56" fill-opacity="0.8"/><circle cx="516.6" cy="144.9" r="0.41" fill-opacity="0.6"/><circle cx="516.9" cy="114.9" r="0.84" fill-opacity="0.9"/><circle cx="527.8" cy="147.8" r="0.63" fill-opacity="0.6"/><circle cx="495.8" cy="145" r="0.47" fill-opacity="0.6"/><circle cx="507.4" cy="139.8" r="0.35" fill-opacity="0.8"/><circle cx="512.4" cy="150.6" r="0.36" fill-opacity="0.8"/><circle cx="517.1" cy="156.7" r="0.37" fill-opacity="0.8"/><circle cx="492.9" cy="152.8" r="0.36" fill-opacity="0.7"/><circle cx="503" cy="135.1" r="0.67" fill-opacity="0.8"/><circle cx="509.3" cy="150.7" r="0.42" fill-opacity="0.7"/><circle cx="530.7" cy="140.4" r="0.5" fill-opacity="0.8"/><circle cx="501" cy="123.3" r="0.69" fill-opacity="0.7"/><circle cx="535.2" cy="137.1" r="0.36" fill-opacity="0.8"/><circle cx="529.2" cy="146.7" r="0.35" fill-opacity="0.9"/><circle cx="512.3" cy="132.2" r="0.35" fill-opacity="0.7"/><circle cx="509.9" cy="139.5" r="0.67" fill-opacity="0.7"/><circle cx="531.5" cy="131.5" r="0.39" fill-opacity="0.8"/><circle cx="528.8" cy="124" r="0.36" fill-opacity="0.8"/><circle cx="521.2" cy="146.5" r="0.88" fill-opacity="0.6"/><circle cx="514.4" cy="115.8" r="0.58" fill-opacity="0.9"/><circle cx="509.6" cy="161.1" r="0.44" fill-opacity="0.6"/><circle cx="518.7" cy="117" r="0.68" fill-opacity="0.6"/><circle cx="513.8" cy="160.7" r="0.68" fill-opacity="0.9"/><circle cx="507.7" cy="115.7" r="0.59" fill-opacity="0.9"/><circle cx="507.9" cy="136.2" r="0.35" fill-opacity="0.7"/><circle cx="522.8" cy="137.9" r="0.35" fill-opacity="1"/><circle cx="491.3" cy="150.7" r="0.72" fill-opacity="0.6"/><circle cx="524" cy="141.3" r="0.35" fill-opacity="0.6"/><circle cx="534.4" cy="153.1" r="0.52" fill-opacity="0.7"/><circle cx="506.2" cy="145.3" r="0.36" fill-opacity="1"/><circle cx="501.1" cy="131.7" r="0.51" fill-opacity="0.8"/><circle cx="512.1" cy="158.6" r="0.36" fill-opacity="0.9"/><circle cx="503.7" cy="144.3" r="0.69" fill-opacity="0.8"/><circle cx="523.6" cy="117.1" r="0.48" fill-opacity="0.6"/><circle cx="494.8" cy="144" r="0.75" fill-opacity="0.8"/><circle cx="522.5" cy="120.6" r="0.45" fill-opacity="0.9"/><circle cx="528.2" cy="161" r="0.81" fill-opacity="0.9"/><circle cx="501.9" cy="161.2" r="0.38" fill-opacity="0.6"/><circle cx="524" cy="128.2" r="0.41" fill-opacity="0.6"/><circle cx="526.8" cy="147.8" r="0.54" fill-opacity="0.9"/><circle cx="535.4" cy="154" r="0.42" fill-opacity="0.6"/><circle cx="527.2" cy="119.5" r="0.48" fill-opacity="1"/><circle cx="517.5" cy="122.2" r="0.46" fill-opacity="0.7"/><circle cx="528.4" cy="119" r="0.52" fill-opacity="0.9"/><circle cx="520.6" cy="120.7" r="0.35" fill-opacity="0.6"/><circle cx="507.6" cy="135.5" r="0.62" fill-opacity="0.6"/><circle cx="528.3" cy="152.8" r="0.59" fill-opacity="0.9"/><circle cx="521.9" cy="139.7" r="0.57" fill-opacity="0.6"/><circle cx="522.7" cy="153.6" r="0.62" fill-opacity="1"/><circle cx="518.7" cy="150.7" r="0.55" fill-opacity="0.9"/><circle cx="493" cy="146.6" r="0.35" fill-opacity="0.8"/><circle cx="520.2" cy="124.1" r="0.51" fill-opacity="0.9"/><circle cx="496.5" cy="122.5" r="0.8" fill-opacity="0.7"/><circle cx="515.1" cy="140" r="0.35" fill-opacity="1"/><circle cx="530.5" cy="147.3" r="0.38" fill-opacity="0.9"/><circle cx="503" cy="129.4" r="0.35" fill-opacity="0.9"/><circle cx="522.2" cy="126.9" r="0.36" fill-opacity="0.9"/><circle cx="499.8" cy="150.8" r="0.35" fill-opacity="0.8"/><circle cx="533.2" cy="155.2" r="0.44" fill-opacity="0.6"/><circle cx="539.7" cy="135.8" r="0.58" fill-opacity="0.8"/><circle cx="519.4" cy="145.5" r="0.6" fill-opacity="0.9"/><circle cx="531" cy="121" r="0.44" fill-opacity="0.7"/><circle cx="503.6" cy="156.5" r="0.49" fill-opacity="0.9"/><circle cx="531.6" cy="138.6" r="0.62" fill-opacity="0.6"/><circle cx="502.6" cy="121.6" r="0.54" fill-opacity="0.6"/><circle cx="490.2" cy="141.4" r="0.49" fill-opacity="0.6"/><circle cx="519.2" cy="141.1" r="0.37" fill-opacity="0.7"/><circle cx="523.9" cy="144.3" r="0.62" fill-opacity="0.9"/><circle cx="519.3" cy="164.6" r="0.62" fill-opacity="0.8"/><circle cx="519.9" cy="135.2" r="0.41" fill-opacity="0.6"/><circle cx="524.2" cy="135.6" r="0.37" fill-opacity="0.7"/><circle cx="502.3" cy="155.6" r="0.57" fill-opacity="0.6"/><circle cx="499.8" cy="132.1" r="0.54" fill-opacity="0.8"/><circle cx="505.7" cy="130.4" r="0.87" fill-opacity="0.8"/><circle cx="525.2" cy="122.9" r="0.38" fill-opacity="0.7"/><circle cx="506.4" cy="165" r="0.43" fill-opacity="0.7"/><circle cx="489.7" cy="133.5" r="0.78" fill-opacity="0.6"/><circle cx="506.4" cy="129.6" r="0.39" fill-opacity="0.8"/><circle cx="530.6" cy="149.4" r="0.35" fill-opacity="0.7"/><circle cx="522.8" cy="157.7" r="0.38" fill-opacity="0.6"/><circle cx="509.6" cy="153.2" r="0.42" fill-opacity="0.8"/><circle cx="509.5" cy="117.2" r="0.63" fill-opacity="0.7"/><circle cx="511.8" cy="122.6" r="0.78" fill-opacity="0.7"/><circle cx="517.4" cy="141.7" r="0.48" fill-opacity="0.9"/><circle cx="516.5" cy="130.7" r="0.56" fill-opacity="0.9"/><circle cx="533.5" cy="156.1" r="0.68" fill-opacity="0.6"/><circle cx="507.3" cy="146" r="0.46" fill-opacity="0.6"/><circle cx="520.5" cy="152.9" r="0.36" fill-opacity="0.6"/><circle cx="515.2" cy="144.6" r="0.4" fill-opacity="0.7"/><circle cx="498" cy="126.7" r="0.46" fill-opacity="0.7"/><circle cx="521.5" cy="159.8" r="0.36" fill-opacity="0.6"/><circle cx="527.9" cy="157" r="0.37" fill-opacity="0.7"/><circle cx="502.8" cy="125.1" r="0.52" fill-opacity="0.8"/><circle cx="524.1" cy="134.7" r="0.63" fill-opacity="0.7"/><circle cx="500" cy="133.1" r="0.36" fill-opacity="0.8"/><circle cx="498.3" cy="159.3" r="0.47" fill-opacity="0.7"/><circle cx="496.8" cy="158" r="0.41" fill-opacity="0.9"/><circle cx="527.4" cy="131.8" r="0.43" fill-opacity="0.8"/><circle cx="502.3" cy="133.1" r="0.46" fill-opacity="0.6"/><circle cx="527.4" cy="161.4" r="0.51" fill-opacity="0.9"/><circle cx="506.1" cy="156.4" r="0.45" fill-opacity="1"/><circle cx="516.5" cy="138.8" r="0.53" fill-opacity="0.8"/><circle cx="501.2" cy="124.7" r="0.72" fill-opacity="1"/><circle cx="503.4" cy="155.7" r="0.41" fill-opacity="1"/><circle cx="530.6" cy="148.4" r="0.52" fill-opacity="0.6"/><circle cx="505.5" cy="128.3" r="0.54" fill-opacity="0.8"/><circle cx="496.1" cy="125.8" r="0.86" fill-opacity="0.9"/><circle cx="517" cy="127.6" r="0.41" fill-opacity="1"/><circle cx="496.7" cy="150.8" r="0.36" fill-opacity="0.9"/><circle cx="529.7" cy="142.2" r="0.69" fill-opacity="0.6"/><circle cx="519.8" cy="141.7" r="0.56" fill-opacity="0.8"/><circle cx="530.9" cy="133.5" r="0.45" fill-opacity="0.6"/><circle cx="534.2" cy="157.3" r="0.35" fill-opacity="0.7"/><circle cx="492.2" cy="153.4" r="0.41" fill-opacity="0.7"/><circle cx="515" cy="124.9" r="0.55" fill-opacity="0.7"/><circle cx="518.9" cy="130.3" r="0.5" fill-opacity="0.8"/><circle cx="525.8" cy="139" r="0.49" fill-opacity="1"/><circle cx="500.8" cy="124.4" r="0.35" fill-opacity="1"/><circle cx="535.6" cy="151.8" r="0.35" fill-opacity="0.9"/><circle cx="521.8" cy="160.6" r="0.89" fill-opacity="0.6"/><circle cx="495.1" cy="142.9" r="0.4" fill-opacity="0.9"/><circle cx="516.2" cy="123.5" r="0.66" fill-opacity="0.6"/><circle cx="500.2" cy="136.8" r="0.39" fill-opacity="0.8"/><circle cx="517.9" cy="143.4" r="0.48" fill-opacity="0.6"/><circle cx="504.4" cy="146.9" r="0.53" fill-opacity="0.8"/><circle cx="494.4" cy="140.9" r="0.44" fill-opacity="0.9"/><circle cx="533.7" cy="126.3" r="0.83" fill-opacity="0.9"/><circle cx="511" cy="129.6" r="0.38" fill-opacity="0.7"/><circle cx="530.4" cy="144.1" r="0.44" fill-opacity="0.6"/><circle cx="503.1" cy="146" r="0.65" fill-opacity="0.8"/><circle cx="512" cy="126.3" r="0.43" fill-opacity="0.7"/><circle cx="510.7" cy="156.9" r="0.36" fill-opacity="1"/><circle cx="503.3" cy="124" r="0.54" fill-opacity="0.8"/><circle cx="534.9" cy="141.7" r="0.35" fill-opacity="0.8"/><circle cx="531.9" cy="142.1" r="0.37" fill-opacity="0.7"/><circle cx="527.6" cy="118.8" r="0.35" fill-opacity="0.7"/><circle cx="524.3" cy="152.4" r="0.39" fill-opacity="1"/><circle cx="511.3" cy="165.4" r="0.67" fill-opacity="0.6"/><circle cx="532" cy="151.4" r="0.56" fill-opacity="0.8"/><circle cx="491.7" cy="128.4" r="0.8" fill-opacity="0.7"/><circle cx="519.6" cy="160.6" r="0.35" fill-opacity="1"/><circle cx="511.8" cy="144.1" r="0.39" fill-opacity="0.6"/><circle cx="515" cy="116.7" r="0.42" fill-opacity="0.8"/><circle cx="536.3" cy="149.3" r="0.57" fill-opacity="0.9"/><circle cx="494.5" cy="137.7" r="0.38" fill-opacity="0.6"/><circle cx="507.6" cy="149.2" r="0.38" fill-opacity="0.9"/><circle cx="521.6" cy="148.1" r="0.68" fill-opacity="0.8"/><circle cx="517.9" cy="132.6" r="0.35" fill-opacity="0.7"/><circle cx="498.1" cy="138.8" r="0.37" fill-opacity="1"/><circle cx="505.2" cy="158.2" r="0.55" fill-opacity="0.7"/><circle cx="498.5" cy="129.6" r="0.38" fill-opacity="0.9"/><circle cx="521.6" cy="137.5" r="0.43" fill-opacity="0.8"/><circle cx="506" cy="140.1" r="0.4" fill-opacity="0.8"/><circle cx="531.7" cy="153.4" r="0.35" fill-opacity="1"/><circle cx="509.3" cy="130.1" r="0.63" fill-opacity="0.9"/><circle cx="513.2" cy="139.2" r="0.73" fill-opacity="0.6"/><circle cx="516" cy="139.2" r="0.6" fill-opacity="0.9"/><circle cx="497" cy="126.1" r="0.37" fill-opacity="0.6"/><circle cx="512.7" cy="138" r="0.57" fill-opacity="1"/><circle cx="522.2" cy="150.9" r="0.41" fill-opacity="1"/><circle cx="523.6" cy="132.1" r="0.55" fill-opacity="0.9"/><circle cx="517.3" cy="132.4" r="0.42" fill-opacity="0.9"/><circle cx="512.8" cy="146.2" r="0.51" fill-opacity="0.7"/><circle cx="529.3" cy="152.5" r="0.38" fill-opacity="0.8"/><circle cx="529.1" cy="138.6" r="0.41" fill-opacity="0.7"/><circle cx="503.8" cy="128.2" r="0.39" fill-opacity="1"/><circle cx="504.5" cy="134.7" r="0.76" fill-opacity="0.7"/><circle cx="502" cy="139.8" r="0.73" fill-opacity="0.9"/><circle cx="508.9" cy="117.3" r="0.35" fill-opacity="1"/><circle cx="524.6" cy="141.7" r="0.47" fill-opacity="0.6"/><circle cx="516.3" cy="145.8" r="0.88" fill-opacity="0.7"/><circle cx="536.7" cy="132.2" r="0.37" fill-opacity="0.6"/></g>
<rect x="351.1" y="244.68" width="41.5" height="92.92" fill="#000000"/>
<path d="M371.85 244.68V228.4M361.65 228.4h20.4" stroke="#000" stroke-width="1.45" fill="none"/>
<rect x="410.3" y="278.09" width="41.6" height="59.51" fill="#a4a4a8"/>
<path d="M431.1 278.09V273.48M420.9 273.48h20.4" stroke="#000" stroke-width="1.45" fill="none"/>
<text x="431.1" y="273.28" font-size="9.6" text-anchor="middle">*</text>
<rect x="469.9" y="297.93" width="41.3" height="39.67" fill="#7e7e80"/>
<path d="M490.55 297.93V294.44M480.35 294.44h20.4" stroke="#000" stroke-width="1.45" fill="none"/>
<text x="490.55" y="294.24" font-size="9.6" text-anchor="middle" letter-spacing="0.6">**</text>
<g stroke="#000" stroke-width="1.5" fill="none">
<path d="M331.8 205.8V337.6H530.4"/>
<path d="M328.4 337.6H331.8"/>
<path d="M328.4 304.65H331.8"/>
<path d="M328.4 271.7H331.8"/>
<path d="M328.4 238.75H331.8"/>
<path d="M328.4 205.8H331.8"/>
<path d="M371.85 337.6V340.9"/>
<path d="M431.1 337.6V340.9"/>
<path d="M490.55 337.6V340.9"/>
</g>
<text x="326.8" y="340.5" font-size="9.6" text-anchor="end">0.0</text>
<text x="326.8" y="307.55" font-size="9.6" text-anchor="end">0.5</text>
<text x="326.8" y="274.6" font-size="9.6" text-anchor="end">1.0</text>
<text x="326.8" y="241.65" font-size="9.6" text-anchor="end">1.5</text>
<text x="326.8" y="208.7" font-size="9.6" text-anchor="end">2.0</text>
<text x="371.85" y="351.5" font-size="9.9" text-anchor="middle">Control</text>
<text x="431.1" y="351.5" font-size="9.9" text-anchor="middle">NEO 0.5μM</text>
<text x="490.55" y="351.5" font-size="9.9" text-anchor="middle">NEO 1μM</text>
<text transform="translate(306.6 271.1) rotate(-90)" font-size="10.6" text-anchor="middle">Relative colony number</text>
<rect x="351.1" y="424.11" width="41.5" height="91.59" fill="#000000"/>
<path d="M371.85 424.11V401.3M361.65 401.3h20.4" stroke="#000" stroke-width="1.45" fill="none"/>
<rect x="410.3" y="482.69" width="41.6" height="33.01" fill="#a4a4a8"/>
<path d="M431.1 482.69V479.73M420.9 479.73h20.4" stroke="#000" stroke-width="1.45" fill="none"/>
<text x="431.1" y="479.53" font-size="9.6" text-anchor="middle">*</text>
<rect x="469.9" y="495.98" width="41.3" height="19.73" fill="#7e7e80"/>
<path d="M490.55 495.98V493.08M480.35 493.08h20.4" stroke="#000" stroke-width="1.45" fill="none"/>
<text x="490.55" y="492.88" font-size="9.6" text-anchor="middle" letter-spacing="0.6">**</text>
<g stroke="#000" stroke-width="1.5" fill="none">
<path d="M332.1 384.2V515.7H530"/>
<path d="M328.7 515.7H332.1"/>
<path d="M328.7 482.83H332.1"/>
<path d="M328.7 449.95H332.1"/>
<path d="M328.7 417.08H332.1"/>
<path d="M328.7 384.2H332.1"/>
<path d="M371.85 515.7V519"/>
<path d="M431.1 515.7V519"/>
<path d="M490.55 515.7V519"/>
</g>
<text x="327.1" y="518.6" font-size="9.6" text-anchor="end">0.0</text>
<text x="327.1" y="485.73" font-size="9.6" text-anchor="end">0.5</text>
<text x="327.1" y="452.85" font-size="9.6" text-anchor="end">1.0</text>
<text x="327.1" y="419.98" font-size="9.6" text-anchor="end">1.5</text>
<text x="327.1" y="387.1" font-size="9.6" text-anchor="end">2.0</text>
<text x="371.85" y="529.6" font-size="9.9" text-anchor="middle">Control</text>
<text x="431.1" y="529.6" font-size="9.9" text-anchor="middle">SGI 0.5μM</text>
<text x="490.55" y="529.6" font-size="9.9" text-anchor="middle">SGI 1μM</text>
<text transform="translate(307.7 449.05) rotate(-90)" font-size="10.6" text-anchor="middle">Relative colony number</text>
</svg></body></html>
